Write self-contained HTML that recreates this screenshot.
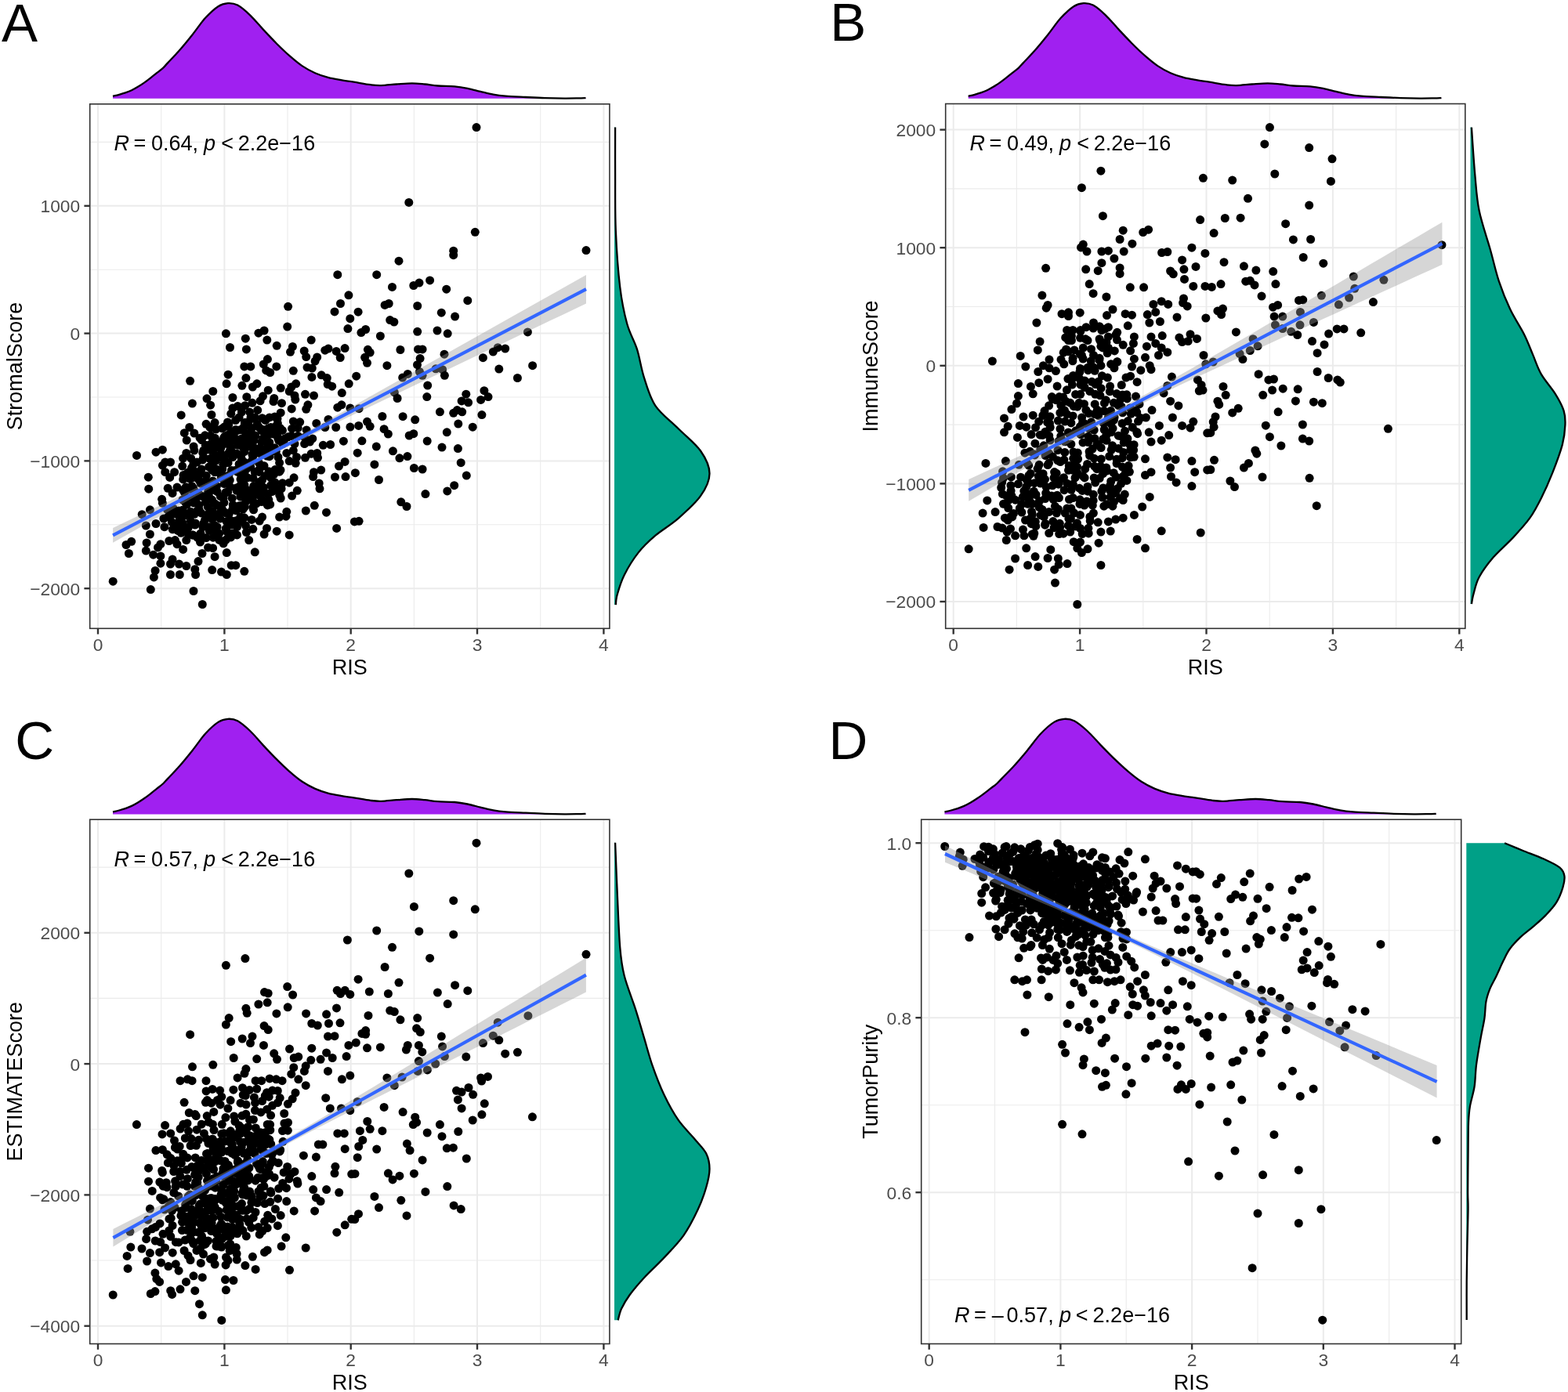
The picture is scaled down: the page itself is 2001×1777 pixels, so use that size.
<!DOCTYPE html>
<html><head><meta charset="utf-8"><title>Figure</title>
<style>html,body{margin:0;padding:0;background:#fff;width:2001px;height:1777px;overflow:hidden}
svg text{font-family:"Liberation Sans", Arial, sans-serif}</style></head>
<body>
<svg xmlns="http://www.w3.org/2000/svg" width="2001" height="1777" viewBox="0 0 2001 1777" style="position:absolute;left:0;top:0">
<rect x="0" y="0" width="2001" height="1777" fill="#fff"/>
<clipPath id="clipA"><rect x="114.7" y="132.8" width="663.2" height="669.5"/></clipPath>
<line x1="205.7" y1="132.8" x2="205.7" y2="802.3" stroke="#ebebeb" stroke-width="1.1"/>
<line x1="367" y1="132.8" x2="367" y2="802.3" stroke="#ebebeb" stroke-width="1.1"/>
<line x1="528.4" y1="132.8" x2="528.4" y2="802.3" stroke="#ebebeb" stroke-width="1.1"/>
<line x1="689.7" y1="132.8" x2="689.7" y2="802.3" stroke="#ebebeb" stroke-width="1.1"/>
<line x1="114.7" y1="669.8" x2="777.9" y2="669.8" stroke="#ebebeb" stroke-width="1.1"/>
<line x1="114.7" y1="507" x2="777.9" y2="507" stroke="#ebebeb" stroke-width="1.1"/>
<line x1="114.7" y1="344.2" x2="777.9" y2="344.2" stroke="#ebebeb" stroke-width="1.1"/>
<line x1="114.7" y1="181.4" x2="777.9" y2="181.4" stroke="#ebebeb" stroke-width="1.1"/>
<line x1="125" y1="132.8" x2="125" y2="802.3" stroke="#ebebeb" stroke-width="2"/>
<line x1="286.4" y1="132.8" x2="286.4" y2="802.3" stroke="#ebebeb" stroke-width="2"/>
<line x1="447.7" y1="132.8" x2="447.7" y2="802.3" stroke="#ebebeb" stroke-width="2"/>
<line x1="609" y1="132.8" x2="609" y2="802.3" stroke="#ebebeb" stroke-width="2"/>
<line x1="770.4" y1="132.8" x2="770.4" y2="802.3" stroke="#ebebeb" stroke-width="2"/>
<line x1="114.7" y1="751.2" x2="777.9" y2="751.2" stroke="#ebebeb" stroke-width="2"/>
<line x1="114.7" y1="588.4" x2="777.9" y2="588.4" stroke="#ebebeb" stroke-width="2"/>
<line x1="114.7" y1="425.6" x2="777.9" y2="425.6" stroke="#ebebeb" stroke-width="2"/>
<line x1="114.7" y1="262.8" x2="777.9" y2="262.8" stroke="#ebebeb" stroke-width="2"/>
<g clip-path="url(#clipA)" fill="#000">
<circle cx="608" cy="162.6" r="5.5"/><circle cx="521.8" cy="258.4" r="5.5"/><circle cx="606.3" cy="296.3" r="5.5"/><circle cx="578.7" cy="320.2" r="5.5"/><circle cx="578.7" cy="325.7" r="5.5"/><circle cx="748" cy="319.6" r="5.5"/><circle cx="509" cy="333.2" r="5.5"/><circle cx="480.7" cy="350.7" r="5.5"/><circle cx="548.6" cy="357.9" r="5.5"/><circle cx="535" cy="361.1" r="5.5"/><circle cx="527.8" cy="364.5" r="5.5"/><circle cx="500.5" cy="366.4" r="5.5"/><circle cx="569.7" cy="369.2" r="5.5"/><circle cx="444.9" cy="376.8" r="5.5"/><circle cx="596.8" cy="383.7" r="5.5"/><circle cx="496.2" cy="387.5" r="5.5"/><circle cx="491.1" cy="389.4" r="5.5"/><circle cx="532.7" cy="390.5" r="5.5"/><circle cx="457.1" cy="398.2" r="5.5"/><circle cx="563.3" cy="399.2" r="5.5"/><circle cx="580.6" cy="404.1" r="5.5"/><circle cx="446.8" cy="406.7" r="5.5"/><circle cx="497.7" cy="408.6" r="5.5"/><circle cx="502.9" cy="411.1" r="5.5"/><circle cx="443.9" cy="419.6" r="5.5"/><circle cx="466.6" cy="420.5" r="5.5"/><circle cx="460.9" cy="424.6" r="5.5"/><circle cx="532.7" cy="423.3" r="5.5"/><circle cx="558" cy="422" r="5.5"/><circle cx="571.2" cy="425.8" r="5.5"/><circle cx="485.4" cy="429" r="5.5"/><circle cx="673.4" cy="423.9" r="5.5"/><circle cx="469.4" cy="446.3" r="5.5"/><circle cx="472.2" cy="450.1" r="5.5"/><circle cx="510.9" cy="446.5" r="5.5"/><circle cx="533.5" cy="445.9" r="5.5"/><circle cx="539.1" cy="445.9" r="5.5"/><circle cx="635.3" cy="443.7" r="5.5"/><circle cx="644.7" cy="445" r="5.5"/><circle cx="629.3" cy="449.1" r="5.5"/><circle cx="567" cy="452.2" r="5.5"/><circle cx="465.6" cy="456.3" r="5.5"/><circle cx="536.1" cy="457.6" r="5.5"/><circle cx="616.4" cy="456.7" r="5.5"/><circle cx="468.5" cy="463.3" r="5.5"/><circle cx="493.9" cy="466.7" r="5.5"/><circle cx="532.5" cy="465.7" r="5.5"/><circle cx="679.6" cy="466.7" r="5.5"/><circle cx="430.8" cy="350.7" r="5.5"/><circle cx="367.6" cy="391.3" r="5.5"/><circle cx="434.5" cy="387.5" r="5.5"/><circle cx="427" cy="397.9" r="5.5"/><circle cx="366.7" cy="417.1" r="5.5"/><circle cx="288.4" cy="425.8" r="5.5"/><circle cx="329.9" cy="425.2" r="5.5"/><circle cx="337.1" cy="422" r="5.5"/><circle cx="313.3" cy="432.2" r="5.5"/><circle cx="340.8" cy="434.1" r="5.5"/><circle cx="397.2" cy="434.1" r="5.5"/><circle cx="144.2" cy="742.2" r="5.5"/><circle cx="192.3" cy="752.6" r="5.5"/><circle cx="247" cy="754.5" r="5.5"/><circle cx="258.3" cy="771.5" r="5.5"/><circle cx="636.8" cy="471.1" r="5.5"/><circle cx="556.1" cy="470.8" r="5.5"/><circle cx="564.6" cy="471.7" r="5.5"/><circle cx="454.7" cy="480.2" r="5.5"/><circle cx="513.7" cy="482.1" r="5.5"/><circle cx="520.3" cy="477.4" r="5.5"/><circle cx="535.4" cy="474.5" r="5.5"/><circle cx="539.1" cy="479.3" r="5.5"/><circle cx="567.4" cy="479.3" r="5.5"/><circle cx="660.4" cy="482.5" r="5.5"/><circle cx="545.7" cy="492.1" r="5.5"/><circle cx="503.3" cy="500.9" r="5.5"/><circle cx="507.1" cy="508.5" r="5.5"/><circle cx="544.8" cy="506.6" r="5.5"/><circle cx="594.8" cy="503.2" r="5.5"/><circle cx="589.1" cy="511.9" r="5.5"/><circle cx="597.6" cy="513.8" r="5.5"/><circle cx="617.9" cy="498.7" r="5.5"/><circle cx="623" cy="506.6" r="5.5"/><circle cx="613.6" cy="510.4" r="5.5"/><circle cx="458.1" cy="521.7" r="5.5"/><circle cx="561.4" cy="525.8" r="5.5"/><circle cx="578.7" cy="527.3" r="5.5"/><circle cx="583.4" cy="523.6" r="5.5"/><circle cx="589.7" cy="525.8" r="5.5"/><circle cx="614.9" cy="529.6" r="5.5"/><circle cx="487.9" cy="531.5" r="5.5"/><circle cx="514.1" cy="531.7" r="5.5"/><circle cx="529.7" cy="535.8" r="5.5"/><circle cx="468.5" cy="538.3" r="5.5"/><circle cx="472.2" cy="544.3" r="5.5"/><circle cx="457.7" cy="543.4" r="5.5"/><circle cx="584.8" cy="541.1" r="5.5"/><circle cx="603.2" cy="545.2" r="5.5"/><circle cx="490.1" cy="547.7" r="5.5"/><circle cx="495.4" cy="554.1" r="5.5"/><circle cx="522.2" cy="556" r="5.5"/><circle cx="527.8" cy="553.7" r="5.5"/><circle cx="570.3" cy="551.8" r="5.5"/><circle cx="461.9" cy="562.8" r="5.5"/><circle cx="545.2" cy="563.1" r="5.5"/><circle cx="480.3" cy="570.1" r="5.5"/><circle cx="564" cy="571.1" r="5.5"/><circle cx="584.4" cy="572.6" r="5.5"/><circle cx="456.2" cy="578.2" r="5.5"/><circle cx="501.4" cy="575.8" r="5.5"/><circle cx="509.9" cy="584.8" r="5.5"/><circle cx="519.9" cy="582.6" r="5.5"/><circle cx="477.9" cy="592.9" r="5.5"/><circle cx="588.2" cy="590.7" r="5.5"/><circle cx="528.4" cy="597.5" r="5.5"/><circle cx="539.1" cy="599" r="5.5"/><circle cx="453.4" cy="603.7" r="5.5"/><circle cx="483.5" cy="612.5" r="5.5"/><circle cx="595.3" cy="607.1" r="5.5"/><circle cx="579.7" cy="619.7" r="5.5"/><circle cx="570.8" cy="626.9" r="5.5"/><circle cx="542.9" cy="630.6" r="5.5"/><circle cx="511.8" cy="640.8" r="5.5"/><circle cx="519" cy="646.5" r="5.5"/><circle cx="452.4" cy="665.9" r="5.5"/><circle cx="458.1" cy="665.3" r="5.5"/><circle cx="293.5" cy="443.5" r="5.5"/><circle cx="291.1" cy="478.2" r="5.5"/><circle cx="289.1" cy="489.8" r="5.5"/><circle cx="242.6" cy="486.3" r="5.5"/><circle cx="271.8" cy="499.5" r="5.5"/><circle cx="264" cy="508.8" r="5.5"/><circle cx="296.9" cy="507.5" r="5.5"/><circle cx="245.4" cy="515.1" r="5.5"/><circle cx="268.6" cy="517.2" r="5.5"/><circle cx="231.2" cy="529.9" r="5.5"/><circle cx="269.9" cy="529.5" r="5.5"/><circle cx="294.8" cy="528.2" r="5.5"/><circle cx="296.9" cy="521" r="5.5"/><circle cx="241.8" cy="545.5" r="5.5"/><circle cx="235.3" cy="552.7" r="5.5"/><circle cx="247.9" cy="553.1" r="5.5"/><circle cx="238.2" cy="562" r="5.5"/><circle cx="263.1" cy="541.3" r="5.5"/><circle cx="274.1" cy="539.6" r="5.5"/><circle cx="270.7" cy="545.5" r="5.5"/><circle cx="286.7" cy="544.7" r="5.5"/><circle cx="291.8" cy="542.1" r="5.5"/><circle cx="268.6" cy="556.1" r="5.5"/><circle cx="271.6" cy="561.6" r="5.5"/><circle cx="286.7" cy="557.3" r="5.5"/><circle cx="295.2" cy="554" r="5.5"/><circle cx="262.3" cy="568.3" r="5.5"/><circle cx="247.1" cy="570" r="5.5"/><circle cx="247.9" cy="575.1" r="5.5"/><circle cx="237.8" cy="578.4" r="5.5"/><circle cx="259.7" cy="575.1" r="5.5"/><circle cx="274.9" cy="571.7" r="5.5"/><circle cx="285.1" cy="566.6" r="5.5"/><circle cx="293.5" cy="564.9" r="5.5"/><circle cx="207.4" cy="574.2" r="5.5"/><circle cx="199" cy="577.2" r="5.5"/><circle cx="174.5" cy="581.4" r="5.5"/><circle cx="233.6" cy="585.2" r="5.5"/><circle cx="243.7" cy="585.2" r="5.5"/><circle cx="259.7" cy="583.5" r="5.5"/><circle cx="272.4" cy="579.3" r="5.5"/><circle cx="281.7" cy="579.3" r="5.5"/><circle cx="293.5" cy="575.1" r="5.5"/><circle cx="296.9" cy="583.5" r="5.5"/><circle cx="210.8" cy="590" r="5.5"/><circle cx="217.5" cy="590" r="5.5"/><circle cx="251.3" cy="590" r="5.5"/><circle cx="274.9" cy="588.6" r="5.5"/><circle cx="286.7" cy="586.9" r="5.5"/><circle cx="314.4" cy="445.9" r="5.5"/><circle cx="353.2" cy="441.3" r="5.5"/><circle cx="370.5" cy="449.3" r="5.5"/><circle cx="373.4" cy="442.5" r="5.5"/><circle cx="388.2" cy="448" r="5.5"/><circle cx="390.7" cy="455.6" r="5.5"/><circle cx="404.7" cy="456" r="5.5"/><circle cx="402.1" cy="461.1" r="5.5"/><circle cx="414.8" cy="447.2" r="5.5"/><circle cx="419" cy="445.1" r="5.5"/><circle cx="429.2" cy="448.4" r="5.5"/><circle cx="440.1" cy="444.6" r="5.5"/><circle cx="434.2" cy="456.5" r="5.5"/><circle cx="311.8" cy="467.9" r="5.5"/><circle cx="319.8" cy="467.9" r="5.5"/><circle cx="336.3" cy="464.9" r="5.5"/><circle cx="341.4" cy="458.6" r="5.5"/><circle cx="352.8" cy="467.9" r="5.5"/><circle cx="344.7" cy="475.5" r="5.5"/><circle cx="339.7" cy="472.9" r="5.5"/><circle cx="374.3" cy="473.3" r="5.5"/><circle cx="392" cy="469.1" r="5.5"/><circle cx="398.3" cy="470" r="5.5"/><circle cx="397.9" cy="481.4" r="5.5"/><circle cx="410.2" cy="478.8" r="5.5"/><circle cx="417.3" cy="482.6" r="5.5"/><circle cx="418.2" cy="490.6" r="5.5"/><circle cx="423.7" cy="493.2" r="5.5"/><circle cx="445.2" cy="489.8" r="5.5"/><circle cx="436.3" cy="501.6" r="5.5"/><circle cx="313.9" cy="482.6" r="5.5"/><circle cx="308.9" cy="492.3" r="5.5"/><circle cx="322.4" cy="494" r="5.5"/><circle cx="327.9" cy="489.8" r="5.5"/><circle cx="342.2" cy="498.2" r="5.5"/><circle cx="358.2" cy="495.3" r="5.5"/><circle cx="377.7" cy="489.8" r="5.5"/><circle cx="371.8" cy="494" r="5.5"/><circle cx="369.2" cy="499.5" r="5.5"/><circle cx="376" cy="505" r="5.5"/><circle cx="376.8" cy="510.1" r="5.5"/><circle cx="389.5" cy="503.3" r="5.5"/><circle cx="400.5" cy="505" r="5.5"/><circle cx="314.8" cy="506.7" r="5.5"/><circle cx="335.5" cy="505.8" r="5.5"/><circle cx="332.1" cy="511.8" r="5.5"/><circle cx="349.8" cy="508.4" r="5.5"/><circle cx="349" cy="512.6" r="5.5"/><circle cx="359.5" cy="514.7" r="5.5"/><circle cx="372.2" cy="521.9" r="5.5"/><circle cx="392.9" cy="516.8" r="5.5"/><circle cx="390.7" cy="522.3" r="5.5"/><circle cx="430.8" cy="520.2" r="5.5"/><circle cx="435.9" cy="516.8" r="5.5"/><circle cx="446.9" cy="521" r="5.5"/><circle cx="303.4" cy="518.5" r="5.5"/><circle cx="312.7" cy="517.7" r="5.5"/><circle cx="321.9" cy="514.3" r="5.5"/><circle cx="328.7" cy="523.6" r="5.5"/><circle cx="318.6" cy="526.1" r="5.5"/><circle cx="308.4" cy="526.1" r="5.5"/><circle cx="305.1" cy="532.9" r="5.5"/><circle cx="312.7" cy="539.6" r="5.5"/><circle cx="320.3" cy="534.5" r="5.5"/><circle cx="325.3" cy="532.9" r="5.5"/><circle cx="334.6" cy="533.7" r="5.5"/><circle cx="343.9" cy="532.9" r="5.5"/><circle cx="350.6" cy="532" r="5.5"/><circle cx="358.2" cy="526.9" r="5.5"/><circle cx="354" cy="534.5" r="5.5"/><circle cx="311" cy="545.5" r="5.5"/><circle cx="321.1" cy="546.4" r="5.5"/><circle cx="302.5" cy="549.7" r="5.5"/><circle cx="333.8" cy="549.7" r="5.5"/><circle cx="345.6" cy="545.5" r="5.5"/><circle cx="354" cy="549.7" r="5.5"/><circle cx="357.4" cy="546.4" r="5.5"/><circle cx="348.1" cy="554" r="5.5"/><circle cx="316.9" cy="554" r="5.5"/><circle cx="325.3" cy="556.5" r="5.5"/><circle cx="308.4" cy="559.9" r="5.5"/><circle cx="335.5" cy="559.9" r="5.5"/><circle cx="343.9" cy="564.9" r="5.5"/><circle cx="354.9" cy="559.9" r="5.5"/><circle cx="363.3" cy="559.9" r="5.5"/><circle cx="303.4" cy="568.3" r="5.5"/><circle cx="314.4" cy="564.9" r="5.5"/><circle cx="322.8" cy="570" r="5.5"/><circle cx="332.1" cy="571.7" r="5.5"/><circle cx="339.7" cy="573.4" r="5.5"/><circle cx="350.6" cy="571.7" r="5.5"/><circle cx="360.8" cy="566.6" r="5.5"/><circle cx="302.5" cy="579.3" r="5.5"/><circle cx="311.8" cy="576.7" r="5.5"/><circle cx="321.9" cy="580.1" r="5.5"/><circle cx="333.8" cy="580.1" r="5.5"/><circle cx="343.9" cy="582.7" r="5.5"/><circle cx="354.9" cy="583.5" r="5.5"/><circle cx="308.4" cy="588.6" r="5.5"/><circle cx="321.1" cy="588.6" r="5.5"/><circle cx="374.3" cy="537.9" r="5.5"/><circle cx="382.7" cy="538.8" r="5.5"/><circle cx="372.6" cy="547.2" r="5.5"/><circle cx="380.2" cy="546.4" r="5.5"/><circle cx="391.2" cy="548.9" r="5.5"/><circle cx="403.8" cy="540.5" r="5.5"/><circle cx="419" cy="535.4" r="5.5"/><circle cx="414.8" cy="545.5" r="5.5"/><circle cx="428.7" cy="545.5" r="5.5"/><circle cx="446.9" cy="545.1" r="5.5"/><circle cx="371.8" cy="556.5" r="5.5"/><circle cx="380.2" cy="556.5" r="5.5"/><circle cx="388.6" cy="558.2" r="5.5"/><circle cx="398.8" cy="559.9" r="5.5"/><circle cx="376" cy="566.6" r="5.5"/><circle cx="388.6" cy="566.6" r="5.5"/><circle cx="395.4" cy="564.1" r="5.5"/><circle cx="412.3" cy="568.3" r="5.5"/><circle cx="421.6" cy="567.5" r="5.5"/><circle cx="438.4" cy="563.2" r="5.5"/><circle cx="365.8" cy="578.4" r="5.5"/><circle cx="374.3" cy="575.1" r="5.5"/><circle cx="378.5" cy="583.5" r="5.5"/><circle cx="389.5" cy="584.3" r="5.5"/><circle cx="397.1" cy="579.3" r="5.5"/><circle cx="404.7" cy="578.4" r="5.5"/><circle cx="405.5" cy="584.3" r="5.5"/><circle cx="369.2" cy="588.6" r="5.5"/><circle cx="440.1" cy="589.4" r="5.5"/><circle cx="189.3" cy="609.2" r="5.5"/><circle cx="189.7" cy="624.2" r="5.5"/><circle cx="207.4" cy="594.2" r="5.5"/><circle cx="232.7" cy="595.1" r="5.5"/><circle cx="210.8" cy="602.7" r="5.5"/><circle cx="222.6" cy="602.7" r="5.5"/><circle cx="216.7" cy="609.4" r="5.5"/><circle cx="214.2" cy="623.3" r="5.5"/><circle cx="226" cy="622.1" r="5.5"/><circle cx="233.6" cy="625.5" r="5.5"/><circle cx="220.1" cy="629.7" r="5.5"/><circle cx="206.6" cy="637.3" r="5.5"/><circle cx="207.4" cy="642.3" r="5.5"/><circle cx="191.4" cy="650.8" r="5.5"/><circle cx="181.2" cy="656.7" r="5.5"/><circle cx="186.3" cy="671" r="5.5"/><circle cx="199" cy="668.5" r="5.5"/><circle cx="209.9" cy="672.7" r="5.5"/><circle cx="221.8" cy="668.5" r="5.5"/><circle cx="191.4" cy="682" r="5.5"/><circle cx="167.7" cy="691.3" r="5.5"/><circle cx="161" cy="695.5" r="5.5"/><circle cx="164.4" cy="706.5" r="5.5"/><circle cx="187.1" cy="693" r="5.5"/><circle cx="186.3" cy="703.1" r="5.5"/><circle cx="204.9" cy="694.7" r="5.5"/><circle cx="201.5" cy="698.9" r="5.5"/><circle cx="195.6" cy="708.2" r="5.5"/><circle cx="204.9" cy="709.9" r="5.5"/><circle cx="215.8" cy="690.5" r="5.5"/><circle cx="223.4" cy="689.6" r="5.5"/><circle cx="226" cy="694.7" r="5.5"/><circle cx="233.6" cy="701.4" r="5.5"/><circle cx="231" cy="680.3" r="5.5"/><circle cx="237.8" cy="689.6" r="5.5"/><circle cx="245.4" cy="682.9" r="5.5"/><circle cx="255.5" cy="692.1" r="5.5"/><circle cx="258" cy="706.5" r="5.5"/><circle cx="265.6" cy="698.9" r="5.5"/><circle cx="271.6" cy="699.7" r="5.5"/><circle cx="274.1" cy="710.7" r="5.5"/><circle cx="289.3" cy="705.6" r="5.5"/><circle cx="285.1" cy="693.8" r="5.5"/><circle cx="291.8" cy="666" r="5.5"/><circle cx="253" cy="716.6" r="5.5"/><circle cx="237.8" cy="722.5" r="5.5"/><circle cx="228.5" cy="720" r="5.5"/><circle cx="220.1" cy="714.1" r="5.5"/><circle cx="217.5" cy="720" r="5.5"/><circle cx="204.9" cy="719.2" r="5.5"/><circle cx="198.1" cy="728.4" r="5.5"/><circle cx="196.4" cy="736.9" r="5.5"/><circle cx="217.5" cy="733.5" r="5.5"/><circle cx="229.3" cy="733.5" r="5.5"/><circle cx="248.8" cy="726.7" r="5.5"/><circle cx="249.6" cy="733.5" r="5.5"/><circle cx="270.7" cy="727.6" r="5.5"/><circle cx="282.5" cy="730.1" r="5.5"/><circle cx="289.3" cy="733.5" r="5.5"/><circle cx="295.2" cy="721.7" r="5.5"/><circle cx="356.6" cy="590.8" r="5.5"/><circle cx="377.2" cy="591.3" r="5.5"/><circle cx="432.5" cy="595.1" r="5.5"/><circle cx="400.5" cy="602.7" r="5.5"/><circle cx="409.7" cy="600.1" r="5.5"/><circle cx="399.6" cy="608.6" r="5.5"/><circle cx="427.5" cy="609" r="5.5"/><circle cx="441" cy="608.6" r="5.5"/><circle cx="407.2" cy="617" r="5.5"/><circle cx="408" cy="623.8" r="5.5"/><circle cx="375.1" cy="609.8" r="5.5"/><circle cx="369.2" cy="616.2" r="5.5"/><circle cx="379.3" cy="626.3" r="5.5"/><circle cx="372.6" cy="633.1" r="5.5"/><circle cx="358.2" cy="636" r="5.5"/><circle cx="354.9" cy="601.8" r="5.5"/><circle cx="345.6" cy="607.7" r="5.5"/><circle cx="350.6" cy="619.5" r="5.5"/><circle cx="359.1" cy="623.8" r="5.5"/><circle cx="335.5" cy="622.1" r="5.5"/><circle cx="330.4" cy="622.1" r="5.5"/><circle cx="342.2" cy="630.5" r="5.5"/><circle cx="333.8" cy="640.6" r="5.5"/><circle cx="341.4" cy="644.9" r="5.5"/><circle cx="323.6" cy="650.8" r="5.5"/><circle cx="315.2" cy="625.5" r="5.5"/><circle cx="308.4" cy="633.9" r="5.5"/><circle cx="305.1" cy="645.7" r="5.5"/><circle cx="306.8" cy="660.1" r="5.5"/><circle cx="321.1" cy="663.4" r="5.5"/><circle cx="334.6" cy="660.1" r="5.5"/><circle cx="331.2" cy="665.1" r="5.5"/><circle cx="340.5" cy="674.4" r="5.5"/><circle cx="337.1" cy="682" r="5.5"/><circle cx="353.2" cy="678.2" r="5.5"/><circle cx="369.2" cy="682.9" r="5.5"/><circle cx="356.6" cy="660.1" r="5.5"/><circle cx="365.8" cy="653.3" r="5.5"/><circle cx="365" cy="659.2" r="5.5"/><circle cx="390.3" cy="652" r="5.5"/><circle cx="401.3" cy="645.3" r="5.5"/><circle cx="416.5" cy="654.2" r="5.5"/><circle cx="429.6" cy="674.4" r="5.5"/><circle cx="322.8" cy="675.3" r="5.5"/><circle cx="314.4" cy="679.5" r="5.5"/><circle cx="302.5" cy="682.9" r="5.5"/><circle cx="317.7" cy="689.6" r="5.5"/><circle cx="325.3" cy="704.8" r="5.5"/><circle cx="300.8" cy="721.7" r="5.5"/><circle cx="311.8" cy="729.3" r="5.5"/><circle cx="302.5" cy="672.7" r="5.5"/><circle cx="313.5" cy="671" r="5.5"/><circle cx="320" cy="532.8" r="5.5"/><circle cx="290.5" cy="538.9" r="5.5"/><circle cx="300.6" cy="536.6" r="5.5"/><circle cx="312.3" cy="539.8" r="5.5"/><circle cx="316.9" cy="538.8" r="5.5"/><circle cx="328.2" cy="541.3" r="5.5"/><circle cx="338.8" cy="536.5" r="5.5"/><circle cx="354.3" cy="540.3" r="5.5"/><circle cx="268" cy="545.7" r="5.5"/><circle cx="275.5" cy="548" r="5.5"/><circle cx="283.6" cy="546.9" r="5.5"/><circle cx="294.7" cy="550.8" r="5.5"/><circle cx="300.8" cy="548.5" r="5.5"/><circle cx="306.4" cy="548.8" r="5.5"/><circle cx="320.2" cy="551.2" r="5.5"/><circle cx="330.6" cy="545.5" r="5.5"/><circle cx="336" cy="548.6" r="5.5"/><circle cx="342.1" cy="546.9" r="5.5"/><circle cx="352.3" cy="544.1" r="5.5"/><circle cx="360.4" cy="549.4" r="5.5"/><circle cx="255.1" cy="559.2" r="5.5"/><circle cx="261.6" cy="555.8" r="5.5"/><circle cx="274.4" cy="559.3" r="5.5"/><circle cx="285.6" cy="559.2" r="5.5"/><circle cx="290.2" cy="555.5" r="5.5"/><circle cx="299.8" cy="559.3" r="5.5"/><circle cx="313.7" cy="553.4" r="5.5"/><circle cx="316.3" cy="554" r="5.5"/><circle cx="325.8" cy="556.1" r="5.5"/><circle cx="337.7" cy="554.3" r="5.5"/><circle cx="341.9" cy="555.6" r="5.5"/><circle cx="353.9" cy="556.7" r="5.5"/><circle cx="367.6" cy="557.8" r="5.5"/><circle cx="257.4" cy="561.6" r="5.5"/><circle cx="268.2" cy="567.5" r="5.5"/><circle cx="277" cy="567.6" r="5.5"/><circle cx="282.1" cy="564.4" r="5.5"/><circle cx="288.8" cy="566.3" r="5.5"/><circle cx="297.4" cy="561.7" r="5.5"/><circle cx="307.6" cy="562.5" r="5.5"/><circle cx="317.7" cy="561.6" r="5.5"/><circle cx="323.9" cy="562.4" r="5.5"/><circle cx="333.7" cy="564.1" r="5.5"/><circle cx="342.1" cy="568.2" r="5.5"/><circle cx="355.9" cy="562.4" r="5.5"/><circle cx="362" cy="564" r="5.5"/><circle cx="258.8" cy="578.2" r="5.5"/><circle cx="264.7" cy="574.1" r="5.5"/><circle cx="270.6" cy="571" r="5.5"/><circle cx="281.7" cy="572.3" r="5.5"/><circle cx="294.6" cy="571.5" r="5.5"/><circle cx="297.1" cy="577.9" r="5.5"/><circle cx="310.2" cy="571.3" r="5.5"/><circle cx="319.3" cy="570.4" r="5.5"/><circle cx="328.2" cy="578.1" r="5.5"/><circle cx="339.9" cy="575.8" r="5.5"/><circle cx="344" cy="573.1" r="5.5"/><circle cx="352.3" cy="576.4" r="5.5"/><circle cx="258.5" cy="587.1" r="5.5"/><circle cx="267.8" cy="585.7" r="5.5"/><circle cx="276.5" cy="585.2" r="5.5"/><circle cx="280.8" cy="583.4" r="5.5"/><circle cx="290.8" cy="579.4" r="5.5"/><circle cx="297.1" cy="581.4" r="5.5"/><circle cx="308" cy="584.8" r="5.5"/><circle cx="322.7" cy="582.8" r="5.5"/><circle cx="340.6" cy="582.1" r="5.5"/><circle cx="343.7" cy="581" r="5.5"/><circle cx="285" cy="592" r="5.5"/><circle cx="246.9" cy="592.2" r="5.5"/><circle cx="270.9" cy="592.7" r="5.5"/><circle cx="284.9" cy="593.3" r="5.5"/><circle cx="291.1" cy="590.8" r="5.5"/><circle cx="244.5" cy="597.4" r="5.5"/><circle cx="247" cy="600.5" r="5.5"/><circle cx="257.1" cy="599" r="5.5"/><circle cx="266.6" cy="596.1" r="5.5"/><circle cx="270.6" cy="600.1" r="5.5"/><circle cx="276.6" cy="599.3" r="5.5"/><circle cx="283.8" cy="598.8" r="5.5"/><circle cx="295.4" cy="600.5" r="5.5"/><circle cx="234.1" cy="606.4" r="5.5"/><circle cx="239.6" cy="603.3" r="5.5"/><circle cx="245.7" cy="603.9" r="5.5"/><circle cx="254.9" cy="604.5" r="5.5"/><circle cx="263.2" cy="607.3" r="5.5"/><circle cx="274.2" cy="602.8" r="5.5"/><circle cx="278.3" cy="602.7" r="5.5"/><circle cx="287.6" cy="608.2" r="5.5"/><circle cx="292" cy="606.8" r="5.5"/><circle cx="233.7" cy="611.9" r="5.5"/><circle cx="242.1" cy="611.1" r="5.5"/><circle cx="246.3" cy="609.7" r="5.5"/><circle cx="253.9" cy="612.6" r="5.5"/><circle cx="263.1" cy="614.6" r="5.5"/><circle cx="271.6" cy="613.9" r="5.5"/><circle cx="282.3" cy="609.6" r="5.5"/><circle cx="283.3" cy="610.1" r="5.5"/><circle cx="293.3" cy="613" r="5.5"/><circle cx="237.2" cy="621.8" r="5.5"/><circle cx="244.8" cy="620.5" r="5.5"/><circle cx="246.8" cy="623.2" r="5.5"/><circle cx="256.1" cy="617.2" r="5.5"/><circle cx="264.7" cy="620" r="5.5"/><circle cx="271.3" cy="617.7" r="5.5"/><circle cx="276.5" cy="620.5" r="5.5"/><circle cx="286.2" cy="617.5" r="5.5"/><circle cx="293.6" cy="621.5" r="5.5"/><circle cx="235.5" cy="628.9" r="5.5"/><circle cx="242.3" cy="624.3" r="5.5"/><circle cx="248.1" cy="627" r="5.5"/><circle cx="253.8" cy="630.7" r="5.5"/><circle cx="265.7" cy="627.5" r="5.5"/><circle cx="272.9" cy="625.5" r="5.5"/><circle cx="277.2" cy="627.7" r="5.5"/><circle cx="288.2" cy="628.5" r="5.5"/><circle cx="290.7" cy="628.3" r="5.5"/><circle cx="233.1" cy="638" r="5.5"/><circle cx="243.9" cy="635.1" r="5.5"/><circle cx="249.9" cy="638.1" r="5.5"/><circle cx="258.4" cy="633.6" r="5.5"/><circle cx="266.4" cy="632.9" r="5.5"/><circle cx="270.6" cy="638.1" r="5.5"/><circle cx="281.4" cy="633.7" r="5.5"/><circle cx="285.1" cy="635.8" r="5.5"/><circle cx="296.3" cy="636.2" r="5.5"/><circle cx="236.3" cy="640.9" r="5.5"/><circle cx="238.6" cy="644.1" r="5.5"/><circle cx="247.5" cy="642" r="5.5"/><circle cx="253.9" cy="644.7" r="5.5"/><circle cx="262.5" cy="641.1" r="5.5"/><circle cx="273.6" cy="642.5" r="5.5"/><circle cx="277.5" cy="645.1" r="5.5"/><circle cx="285.9" cy="641.6" r="5.5"/><circle cx="297.2" cy="644.5" r="5.5"/><circle cx="213.6" cy="650.7" r="5.5"/><circle cx="221.2" cy="649.1" r="5.5"/><circle cx="228.4" cy="652" r="5.5"/><circle cx="233.3" cy="651" r="5.5"/><circle cx="243.4" cy="653.3" r="5.5"/><circle cx="251.9" cy="651.9" r="5.5"/><circle cx="254.1" cy="650.7" r="5.5"/><circle cx="265.3" cy="647.2" r="5.5"/><circle cx="271.3" cy="652.5" r="5.5"/><circle cx="281.8" cy="652.9" r="5.5"/><circle cx="283.8" cy="650.7" r="5.5"/><circle cx="296.5" cy="651" r="5.5"/><circle cx="214.4" cy="659.9" r="5.5"/><circle cx="220.1" cy="656.6" r="5.5"/><circle cx="228.7" cy="659.6" r="5.5"/><circle cx="235.5" cy="658.2" r="5.5"/><circle cx="240.3" cy="656.1" r="5.5"/><circle cx="248.1" cy="656.3" r="5.5"/><circle cx="256.7" cy="654.9" r="5.5"/><circle cx="265.5" cy="656.5" r="5.5"/><circle cx="269.2" cy="655.8" r="5.5"/><circle cx="278.3" cy="657" r="5.5"/><circle cx="288.4" cy="654.8" r="5.5"/><circle cx="292.2" cy="656.1" r="5.5"/><circle cx="208.9" cy="662" r="5.5"/><circle cx="219.4" cy="666.6" r="5.5"/><circle cx="228.7" cy="665.4" r="5.5"/><circle cx="232.9" cy="667.6" r="5.5"/><circle cx="243.1" cy="664.9" r="5.5"/><circle cx="249.4" cy="667.9" r="5.5"/><circle cx="259.9" cy="667.9" r="5.5"/><circle cx="261.5" cy="663.8" r="5.5"/><circle cx="270.9" cy="662.8" r="5.5"/><circle cx="280.8" cy="662" r="5.5"/><circle cx="289.1" cy="665.6" r="5.5"/><circle cx="294.8" cy="664.4" r="5.5"/><circle cx="220.3" cy="675.8" r="5.5"/><circle cx="226.5" cy="671.6" r="5.5"/><circle cx="236.3" cy="672.7" r="5.5"/><circle cx="240.2" cy="673.7" r="5.5"/><circle cx="248.9" cy="670" r="5.5"/><circle cx="258.8" cy="672.5" r="5.5"/><circle cx="267.2" cy="672.7" r="5.5"/><circle cx="274.5" cy="671.1" r="5.5"/><circle cx="277.1" cy="672.7" r="5.5"/><circle cx="288.3" cy="674.7" r="5.5"/><circle cx="295" cy="670" r="5.5"/><circle cx="227.3" cy="677.6" r="5.5"/><circle cx="235.3" cy="677.2" r="5.5"/><circle cx="239.4" cy="680.5" r="5.5"/><circle cx="246.5" cy="683.1" r="5.5"/><circle cx="256" cy="680.9" r="5.5"/><circle cx="267.2" cy="677.4" r="5.5"/><circle cx="274.9" cy="676.9" r="5.5"/><circle cx="279.7" cy="681.1" r="5.5"/><circle cx="289.8" cy="679" r="5.5"/><circle cx="297" cy="681" r="5.5"/><circle cx="251.7" cy="686.2" r="5.5"/><circle cx="253.4" cy="685.7" r="5.5"/><circle cx="263.1" cy="686.6" r="5.5"/><circle cx="271.9" cy="686.2" r="5.5"/><circle cx="280" cy="689.4" r="5.5"/><circle cx="288.4" cy="689.1" r="5.5"/><circle cx="294.6" cy="685.9" r="5.5"/><circle cx="305.1" cy="592.5" r="5.5"/><circle cx="311.7" cy="590" r="5.5"/><circle cx="330.4" cy="590.8" r="5.5"/><circle cx="300" cy="600.4" r="5.5"/><circle cx="308.1" cy="599.4" r="5.5"/><circle cx="314.2" cy="599.2" r="5.5"/><circle cx="319.8" cy="596.1" r="5.5"/><circle cx="331.2" cy="599" r="5.5"/><circle cx="337" cy="594.7" r="5.5"/><circle cx="351" cy="599.6" r="5.5"/><circle cx="358" cy="600.1" r="5.5"/><circle cx="302.6" cy="602" r="5.5"/><circle cx="306.7" cy="604.9" r="5.5"/><circle cx="311.8" cy="604.5" r="5.5"/><circle cx="325.2" cy="602.4" r="5.5"/><circle cx="330.7" cy="602.4" r="5.5"/><circle cx="338" cy="607.7" r="5.5"/><circle cx="343" cy="601.7" r="5.5"/><circle cx="349.7" cy="605.3" r="5.5"/><circle cx="356.7" cy="602.2" r="5.5"/><circle cx="307" cy="611.8" r="5.5"/><circle cx="315.9" cy="609.8" r="5.5"/><circle cx="323" cy="610.3" r="5.5"/><circle cx="330.7" cy="615.6" r="5.5"/><circle cx="334.5" cy="612.9" r="5.5"/><circle cx="345.7" cy="610.1" r="5.5"/><circle cx="350.9" cy="615.8" r="5.5"/><circle cx="301.4" cy="623" r="5.5"/><circle cx="305.7" cy="620.8" r="5.5"/><circle cx="311.9" cy="619.1" r="5.5"/><circle cx="323.7" cy="620.6" r="5.5"/><circle cx="331.9" cy="617.2" r="5.5"/><circle cx="336.5" cy="622.5" r="5.5"/><circle cx="345.6" cy="619.7" r="5.5"/><circle cx="351.8" cy="623.3" r="5.5"/><circle cx="360.5" cy="616.7" r="5.5"/><circle cx="302" cy="626.3" r="5.5"/><circle cx="307.1" cy="625.6" r="5.5"/><circle cx="314.6" cy="626.3" r="5.5"/><circle cx="319.7" cy="628.4" r="5.5"/><circle cx="327.3" cy="629.4" r="5.5"/><circle cx="334.3" cy="629.4" r="5.5"/><circle cx="347.1" cy="627.5" r="5.5"/><circle cx="353.9" cy="625.8" r="5.5"/><circle cx="306.8" cy="634.1" r="5.5"/><circle cx="317.4" cy="634.1" r="5.5"/><circle cx="323.6" cy="632.8" r="5.5"/><circle cx="332.3" cy="633.4" r="5.5"/><circle cx="334.5" cy="638.2" r="5.5"/><circle cx="342.8" cy="638" r="5.5"/><circle cx="356.7" cy="632" r="5.5"/><circle cx="308.3" cy="645.6" r="5.5"/><circle cx="314" cy="640.1" r="5.5"/><circle cx="322.9" cy="640.1" r="5.5"/><circle cx="327.2" cy="642.9" r="5.5"/><circle cx="338.8" cy="639.6" r="5.5"/><circle cx="344.7" cy="643.9" r="5.5"/><circle cx="301.5" cy="651.8" r="5.5"/><circle cx="310.1" cy="650" r="5.5"/><circle cx="312.3" cy="647" r="5.5"/><circle cx="322.7" cy="647.8" r="5.5"/><circle cx="307.7" cy="660.5" r="5.5"/><circle cx="311.8" cy="660.8" r="5.5"/><circle cx="301.3" cy="664.7" r="5.5"/><circle cx="307.4" cy="665.9" r="5.5"/>
</g>
<path d="M144.1,674 L159.2,666.8 L174.3,659.6 L189.4,652.4 L204.5,645.1 L219.6,637.9 L234.7,630.6 L249.8,623.3 L264.9,616 L280,608.6 L295.1,601.2 L310.2,593.7 L325.3,586 L340.4,578.3 L355.5,570.4 L370.6,562.4 L385.7,554.2 L400.8,545.9 L415.9,537.6 L431,529.3 L446,520.9 L461.1,512.4 L476.2,504 L491.3,495.5 L506.4,487.1 L521.5,478.6 L536.6,470.1 L551.7,461.6 L566.8,453.1 L581.9,444.6 L597,436.1 L612.1,427.6 L627.2,419.1 L642.3,410.6 L657.4,402.1 L672.5,393.6 L687.6,385.1 L702.7,376.5 L717.8,368 L732.9,359.5 L748,351 L748,387.5 L732.9,394.7 L717.8,401.9 L702.7,409.1 L687.6,416.3 L672.5,423.5 L657.4,430.7 L642.3,437.9 L627.2,445.1 L612.1,452.3 L597,459.5 L581.9,466.7 L566.8,473.9 L551.7,481.1 L536.6,488.3 L521.5,495.5 L506.4,502.8 L491.3,510 L476.2,517.2 L461.1,524.5 L446,531.8 L431,539.1 L415.9,546.4 L400.8,553.8 L385.7,561.3 L370.6,568.8 L355.5,576.5 L340.4,584.3 L325.3,592.3 L310.2,600.4 L295.1,608.6 L280,616.8 L264.9,625.2 L249.8,633.6 L234.7,642 L219.6,650.4 L204.5,658.9 L189.4,667.3 L174.3,675.8 L159.2,684.3 L144.1,692.8Z" fill="#999999" fill-opacity="0.4"/>
<line x1="144.1" y1="683.4" x2="748" y2="369.2" stroke="#3366ff" stroke-width="4.2"/>
<rect x="114.7" y="132.8" width="663.2" height="669.5" fill="none" stroke="#333333" stroke-width="1.6"/>
<line x1="125" y1="802.3" x2="125" y2="809.6" stroke="#333333" stroke-width="2.4"/>
<text x="125" y="830.6" font-size="22.8" fill="#4d4d4d" text-anchor="middle">0</text>
<line x1="286.4" y1="802.3" x2="286.4" y2="809.6" stroke="#333333" stroke-width="2.4"/>
<text x="286.4" y="830.6" font-size="22.8" fill="#4d4d4d" text-anchor="middle">1</text>
<line x1="447.7" y1="802.3" x2="447.7" y2="809.6" stroke="#333333" stroke-width="2.4"/>
<text x="447.7" y="830.6" font-size="22.8" fill="#4d4d4d" text-anchor="middle">2</text>
<line x1="609" y1="802.3" x2="609" y2="809.6" stroke="#333333" stroke-width="2.4"/>
<text x="609" y="830.6" font-size="22.8" fill="#4d4d4d" text-anchor="middle">3</text>
<line x1="770.4" y1="802.3" x2="770.4" y2="809.6" stroke="#333333" stroke-width="2.4"/>
<text x="770.4" y="830.6" font-size="22.8" fill="#4d4d4d" text-anchor="middle">4</text>
<line x1="107.4" y1="751.2" x2="114.7" y2="751.2" stroke="#333333" stroke-width="2.4"/>
<text x="102.2" y="759.6" font-size="22.8" fill="#4d4d4d" text-anchor="end">−2000</text>
<line x1="107.4" y1="588.4" x2="114.7" y2="588.4" stroke="#333333" stroke-width="2.4"/>
<text x="102.2" y="596.8" font-size="22.8" fill="#4d4d4d" text-anchor="end">−1000</text>
<line x1="107.4" y1="425.6" x2="114.7" y2="425.6" stroke="#333333" stroke-width="2.4"/>
<text x="102.2" y="434" font-size="22.8" fill="#4d4d4d" text-anchor="end">0</text>
<line x1="107.4" y1="262.8" x2="114.7" y2="262.8" stroke="#333333" stroke-width="2.4"/>
<text x="102.2" y="271.2" font-size="22.8" fill="#4d4d4d" text-anchor="end">1000</text>
<text x="446.3" y="860.8" font-size="27" text-anchor="middle">RIS</text>
<text transform="translate(28,467.5) rotate(-90)" x="0" y="0" font-size="27" text-anchor="middle">StromalScore</text>
<clipPath id="clipB"><rect x="1206.7" y="132.5" width="663.1" height="669.8"/></clipPath>
<line x1="1297.4" y1="132.5" x2="1297.4" y2="802.3" stroke="#ebebeb" stroke-width="1.1"/>
<line x1="1458.8" y1="132.5" x2="1458.8" y2="802.3" stroke="#ebebeb" stroke-width="1.1"/>
<line x1="1620.2" y1="132.5" x2="1620.2" y2="802.3" stroke="#ebebeb" stroke-width="1.1"/>
<line x1="1781.6" y1="132.5" x2="1781.6" y2="802.3" stroke="#ebebeb" stroke-width="1.1"/>
<line x1="1206.7" y1="692.7" x2="1869.8" y2="692.7" stroke="#ebebeb" stroke-width="1.1"/>
<line x1="1206.7" y1="542.1" x2="1869.8" y2="542.1" stroke="#ebebeb" stroke-width="1.1"/>
<line x1="1206.7" y1="391.5" x2="1869.8" y2="391.5" stroke="#ebebeb" stroke-width="1.1"/>
<line x1="1206.7" y1="240.9" x2="1869.8" y2="240.9" stroke="#ebebeb" stroke-width="1.1"/>
<line x1="1216.7" y1="132.5" x2="1216.7" y2="802.3" stroke="#ebebeb" stroke-width="2"/>
<line x1="1378.1" y1="132.5" x2="1378.1" y2="802.3" stroke="#ebebeb" stroke-width="2"/>
<line x1="1539.5" y1="132.5" x2="1539.5" y2="802.3" stroke="#ebebeb" stroke-width="2"/>
<line x1="1700.9" y1="132.5" x2="1700.9" y2="802.3" stroke="#ebebeb" stroke-width="2"/>
<line x1="1862.3" y1="132.5" x2="1862.3" y2="802.3" stroke="#ebebeb" stroke-width="2"/>
<line x1="1206.7" y1="768" x2="1869.8" y2="768" stroke="#ebebeb" stroke-width="2"/>
<line x1="1206.7" y1="617.4" x2="1869.8" y2="617.4" stroke="#ebebeb" stroke-width="2"/>
<line x1="1206.7" y1="466.8" x2="1869.8" y2="466.8" stroke="#ebebeb" stroke-width="2"/>
<line x1="1206.7" y1="316.2" x2="1869.8" y2="316.2" stroke="#ebebeb" stroke-width="2"/>
<line x1="1206.7" y1="165.6" x2="1869.8" y2="165.6" stroke="#ebebeb" stroke-width="2"/>
<g clip-path="url(#clipB)" fill="#000">
<circle cx="1404.9" cy="218.2" r="5.5"/><circle cx="1535.4" cy="227.3" r="5.5"/><circle cx="1380.4" cy="239.7" r="5.5"/><circle cx="1407.4" cy="275.7" r="5.5"/><circle cx="1531.6" cy="280.6" r="5.5"/><circle cx="1433.2" cy="294.2" r="5.5"/><circle cx="1429.1" cy="305.5" r="5.5"/><circle cx="1458.7" cy="296.6" r="5.5"/><circle cx="1465.6" cy="293.2" r="5.5"/><circle cx="1444.9" cy="311.2" r="5.5"/><circle cx="1382.3" cy="312.1" r="5.5"/><circle cx="1379.5" cy="315.9" r="5.5"/><circle cx="1387" cy="321" r="5.5"/><circle cx="1405.9" cy="321" r="5.5"/><circle cx="1414.4" cy="320.2" r="5.5"/><circle cx="1434.2" cy="321.1" r="5.5"/><circle cx="1421.9" cy="330" r="5.5"/><circle cx="1405.9" cy="335.7" r="5.5"/><circle cx="1401.2" cy="345.7" r="5.5"/><circle cx="1385.7" cy="343.8" r="5.5"/><circle cx="1429.1" cy="341.9" r="5.5"/><circle cx="1429.1" cy="349.4" r="5.5"/><circle cx="1482.6" cy="322.5" r="5.5"/><circle cx="1489.8" cy="321.5" r="5.5"/><circle cx="1520.9" cy="316.2" r="5.5"/><circle cx="1537.9" cy="323.4" r="5.5"/><circle cx="1508.6" cy="331.9" r="5.5"/><circle cx="1510.9" cy="343.8" r="5.5"/><circle cx="1526" cy="340.4" r="5.5"/><circle cx="1493.6" cy="346" r="5.5"/><circle cx="1497.3" cy="349.8" r="5.5"/><circle cx="1334.6" cy="342.3" r="5.5"/><circle cx="1390.2" cy="362.6" r="5.5"/><circle cx="1442.3" cy="366.8" r="5.5"/><circle cx="1459.6" cy="366.8" r="5.5"/><circle cx="1511.5" cy="356.4" r="5.5"/><circle cx="1522.8" cy="365.4" r="5.5"/><circle cx="1537.9" cy="365.4" r="5.5"/><circle cx="1329.9" cy="377.1" r="5.5"/><circle cx="1395.1" cy="374.7" r="5.5"/><circle cx="1411.9" cy="379" r="5.5"/><circle cx="1337.1" cy="389.4" r="5.5"/><circle cx="1335.2" cy="393.2" r="5.5"/><circle cx="1355" cy="400.7" r="5.5"/><circle cx="1363.5" cy="398.8" r="5.5"/><circle cx="1363.5" cy="403.5" r="5.5"/><circle cx="1378.2" cy="399.2" r="5.5"/><circle cx="1420" cy="395" r="5.5"/><circle cx="1412.5" cy="402.6" r="5.5"/><circle cx="1436.1" cy="400.7" r="5.5"/><circle cx="1444.5" cy="402.2" r="5.5"/><circle cx="1471.9" cy="388.4" r="5.5"/><circle cx="1482.2" cy="384.7" r="5.5"/><circle cx="1490.7" cy="388.4" r="5.5"/><circle cx="1510.5" cy="380.9" r="5.5"/><circle cx="1509.6" cy="386.6" r="5.5"/><circle cx="1515.2" cy="390.9" r="5.5"/><circle cx="1474.7" cy="398.4" r="5.5"/><circle cx="1464.3" cy="401.6" r="5.5"/><circle cx="1466.8" cy="412" r="5.5"/><circle cx="1480.4" cy="410.5" r="5.5"/><circle cx="1502" cy="405" r="5.5"/><circle cx="1538.8" cy="406" r="5.5"/><circle cx="1322.9" cy="412" r="5.5"/><circle cx="1439.3" cy="415.8" r="5.5"/><circle cx="1395.5" cy="412" r="5.5"/><circle cx="1361.6" cy="421.4" r="5.5"/><circle cx="1369.1" cy="421.4" r="5.5"/><circle cx="1378.9" cy="421.4" r="5.5"/><circle cx="1386.1" cy="417.7" r="5.5"/><circle cx="1403.1" cy="416.7" r="5.5"/><circle cx="1414.4" cy="417.7" r="5.5"/><circle cx="1425.7" cy="424.3" r="5.5"/><circle cx="1447.4" cy="429.9" r="5.5"/><circle cx="1469" cy="429.9" r="5.5"/><circle cx="1483.2" cy="428.6" r="5.5"/><circle cx="1504.9" cy="430.9" r="5.5"/><circle cx="1519" cy="426.7" r="5.5"/><circle cx="1527.5" cy="432.4" r="5.5"/><circle cx="1508.6" cy="436.5" r="5.5"/><circle cx="1516.2" cy="435.6" r="5.5"/><circle cx="1359.7" cy="430.9" r="5.5"/><circle cx="1363.5" cy="434.6" r="5.5"/><circle cx="1388" cy="434.6" r="5.5"/><circle cx="1403.1" cy="432.7" r="5.5"/><circle cx="1414.4" cy="429.9" r="5.5"/><circle cx="1433.2" cy="440.3" r="5.5"/><circle cx="1446.4" cy="438.4" r="5.5"/><circle cx="1463.4" cy="442.2" r="5.5"/><circle cx="1474.7" cy="438.4" r="5.5"/><circle cx="1482.2" cy="444.1" r="5.5"/><circle cx="1489.8" cy="449.7" r="5.5"/><circle cx="1327.1" cy="436.1" r="5.5"/><circle cx="1324.3" cy="446.9" r="5.5"/><circle cx="1360.6" cy="445.9" r="5.5"/><circle cx="1371" cy="446.9" r="5.5"/><circle cx="1382.3" cy="444.1" r="5.5"/><circle cx="1404.9" cy="442.2" r="5.5"/><circle cx="1414.4" cy="444.1" r="5.5"/><circle cx="1442.6" cy="447.8" r="5.5"/><circle cx="1478.5" cy="453.5" r="5.5"/><circle cx="1461.5" cy="456.3" r="5.5"/><circle cx="1447.4" cy="458.2" r="5.5"/><circle cx="1302.2" cy="454.4" r="5.5"/><circle cx="1266.4" cy="461" r="5.5"/><circle cx="1339" cy="459.1" r="5.5"/><circle cx="1354" cy="459.1" r="5.5"/><circle cx="1369.1" cy="457.3" r="5.5"/><circle cx="1380.4" cy="453.5" r="5.5"/><circle cx="1395.5" cy="453.5" r="5.5"/><circle cx="1403.1" cy="457.3" r="5.5"/><circle cx="1425.7" cy="462" r="5.5"/><circle cx="1536" cy="453.5" r="5.5"/><circle cx="1331.4" cy="466.7" r="5.5"/><circle cx="1308.8" cy="468" r="5.5"/><circle cx="1357.8" cy="464.8" r="5.5"/><circle cx="1404.9" cy="466.7" r="5.5"/><circle cx="1467.2" cy="466.7" r="5.5"/><circle cx="1444.5" cy="468" r="5.5"/><circle cx="1620.4" cy="162.6" r="5.5"/><circle cx="1613.8" cy="183.9" r="5.5"/><circle cx="1670.7" cy="188.6" r="5.5"/><circle cx="1700" cy="202.8" r="5.5"/><circle cx="1626.8" cy="222" r="5.5"/><circle cx="1698.4" cy="231.4" r="5.5"/><circle cx="1572.7" cy="230.1" r="5.5"/><circle cx="1592.5" cy="253.3" r="5.5"/><circle cx="1670.7" cy="262.1" r="5.5"/><circle cx="1563.3" cy="278.5" r="5.5"/><circle cx="1583.1" cy="278.2" r="5.5"/><circle cx="1549.1" cy="297.6" r="5.5"/><circle cx="1640.6" cy="285.7" r="5.5"/><circle cx="1650.4" cy="305.9" r="5.5"/><circle cx="1672.6" cy="305.5" r="5.5"/><circle cx="1562" cy="334.7" r="5.5"/><circle cx="1587.4" cy="339.8" r="5.5"/><circle cx="1602.9" cy="345.1" r="5.5"/><circle cx="1624.7" cy="346.6" r="5.5"/><circle cx="1663.2" cy="328.5" r="5.5"/><circle cx="1688.8" cy="336.2" r="5.5"/><circle cx="1840" cy="312.7" r="5.5"/><circle cx="1546.3" cy="366.4" r="5.5"/><circle cx="1558" cy="362.6" r="5.5"/><circle cx="1589.7" cy="359.2" r="5.5"/><circle cx="1595.3" cy="358.3" r="5.5"/><circle cx="1601" cy="363.9" r="5.5"/><circle cx="1627.9" cy="362.6" r="5.5"/><circle cx="1610" cy="378.1" r="5.5"/><circle cx="1624.5" cy="392.2" r="5.5"/><circle cx="1630.6" cy="389.4" r="5.5"/><circle cx="1657.5" cy="383.4" r="5.5"/><circle cx="1662.8" cy="382.8" r="5.5"/><circle cx="1686.4" cy="377.3" r="5.5"/><circle cx="1727.3" cy="353" r="5.5"/><circle cx="1728.8" cy="368.3" r="5.5"/><circle cx="1721.6" cy="380" r="5.5"/><circle cx="1708.4" cy="388.8" r="5.5"/><circle cx="1765.9" cy="357.3" r="5.5"/><circle cx="1752.4" cy="385.6" r="5.5"/><circle cx="1553.9" cy="396.9" r="5.5"/><circle cx="1560.5" cy="394.1" r="5.5"/><circle cx="1558.6" cy="401.6" r="5.5"/><circle cx="1626.1" cy="404.1" r="5.5"/><circle cx="1636.8" cy="404.1" r="5.5"/><circle cx="1659.4" cy="398.4" r="5.5"/><circle cx="1627.4" cy="414.8" r="5.5"/><circle cx="1636.8" cy="419.6" r="5.5"/><circle cx="1647.7" cy="423.3" r="5.5"/><circle cx="1655.7" cy="427.5" r="5.5"/><circle cx="1659" cy="414.8" r="5.5"/><circle cx="1676.4" cy="411.4" r="5.5"/><circle cx="1577.4" cy="423.9" r="5.5"/><circle cx="1599.1" cy="432.7" r="5.5"/><circle cx="1605.1" cy="441.8" r="5.5"/><circle cx="1706.2" cy="419.9" r="5.5"/><circle cx="1715" cy="419.9" r="5.5"/><circle cx="1695.6" cy="426.1" r="5.5"/><circle cx="1736.7" cy="424.8" r="5.5"/><circle cx="1674.5" cy="435.6" r="5.5"/><circle cx="1690" cy="439.9" r="5.5"/><circle cx="1681.1" cy="450.7" r="5.5"/><circle cx="1595.3" cy="447.5" r="5.5"/><circle cx="1582.1" cy="451.6" r="5.5"/><circle cx="1585.9" cy="458.6" r="5.5"/><circle cx="1548.2" cy="462" r="5.5"/><circle cx="1538.8" cy="464.8" r="5.5"/><circle cx="1324.8" cy="474.5" r="5.5"/><circle cx="1339" cy="469.8" r="5.5"/><circle cx="1347.4" cy="473.6" r="5.5"/><circle cx="1299.4" cy="489.6" r="5.5"/><circle cx="1315.4" cy="493.4" r="5.5"/><circle cx="1318.2" cy="502.8" r="5.5"/><circle cx="1325.8" cy="488.7" r="5.5"/><circle cx="1337.1" cy="484" r="5.5"/><circle cx="1421.9" cy="469.8" r="5.5"/><circle cx="1455.8" cy="472.7" r="5.5"/><circle cx="1469" cy="471.7" r="5.5"/><circle cx="1413.4" cy="482.1" r="5.5"/><circle cx="1431.3" cy="491.5" r="5.5"/><circle cx="1437" cy="482.1" r="5.5"/><circle cx="1442.6" cy="480.2" r="5.5"/><circle cx="1451.1" cy="487.7" r="5.5"/><circle cx="1495.4" cy="481.1" r="5.5"/><circle cx="1489.8" cy="492.5" r="5.5"/><circle cx="1485.1" cy="501.9" r="5.5"/><circle cx="1493.6" cy="512.2" r="5.5"/><circle cx="1503.9" cy="517.9" r="5.5"/><circle cx="1528.4" cy="484.9" r="5.5"/><circle cx="1533.1" cy="491.5" r="5.5"/><circle cx="1530.3" cy="499" r="5.5"/><circle cx="1299.4" cy="505.6" r="5.5"/><circle cx="1297.5" cy="515.1" r="5.5"/><circle cx="1290.9" cy="522.6" r="5.5"/><circle cx="1281.5" cy="533.9" r="5.5"/><circle cx="1286.2" cy="544.3" r="5.5"/><circle cx="1281.5" cy="551.8" r="5.5"/><circle cx="1306" cy="532" r="5.5"/><circle cx="1318.2" cy="530.2" r="5.5"/><circle cx="1301.3" cy="543.4" r="5.5"/><circle cx="1309.7" cy="545.2" r="5.5"/><circle cx="1298.4" cy="558.4" r="5.5"/><circle cx="1306" cy="566.9" r="5.5"/><circle cx="1307.9" cy="578.2" r="5.5"/><circle cx="1320.1" cy="580.1" r="5.5"/><circle cx="1257.9" cy="591.4" r="5.5"/><circle cx="1283.4" cy="588.6" r="5.5"/><circle cx="1300.3" cy="593.3" r="5.5"/><circle cx="1310.7" cy="591.4" r="5.5"/><circle cx="1279.6" cy="601.8" r="5.5"/><circle cx="1280.5" cy="610.3" r="5.5"/><circle cx="1277.7" cy="622.5" r="5.5"/><circle cx="1289.9" cy="619.7" r="5.5"/><circle cx="1299.4" cy="617.8" r="5.5"/><circle cx="1462.4" cy="533" r="5.5"/><circle cx="1470" cy="523.6" r="5.5"/><circle cx="1466.2" cy="551.8" r="5.5"/><circle cx="1479.4" cy="543.4" r="5.5"/><circle cx="1491.7" cy="555.6" r="5.5"/><circle cx="1482.2" cy="562.2" r="5.5"/><circle cx="1469" cy="564.1" r="5.5"/><circle cx="1496.4" cy="533" r="5.5"/><circle cx="1508.6" cy="543.4" r="5.5"/><circle cx="1519" cy="546.2" r="5.5"/><circle cx="1522.8" cy="538.3" r="5.5"/><circle cx="1540.7" cy="552.8" r="5.5"/><circle cx="1461.5" cy="585.8" r="5.5"/><circle cx="1489.8" cy="583.9" r="5.5"/><circle cx="1500.1" cy="586.7" r="5.5"/><circle cx="1520.9" cy="588.6" r="5.5"/><circle cx="1493.6" cy="597.1" r="5.5"/><circle cx="1524.7" cy="602.7" r="5.5"/><circle cx="1540.7" cy="599.9" r="5.5"/><circle cx="1469" cy="602.7" r="5.5"/><circle cx="1461.5" cy="606.5" r="5.5"/><circle cx="1494.5" cy="608.4" r="5.5"/><circle cx="1501.1" cy="615.9" r="5.5"/><circle cx="1520.9" cy="620.6" r="5.5"/><circle cx="1467.2" cy="634.4" r="5.5"/><circle cx="1284.3" cy="632.9" r="5.5"/><circle cx="1259.8" cy="638.9" r="5.5"/><circle cx="1280.5" cy="643.3" r="5.5"/><circle cx="1295.6" cy="638.2" r="5.5"/><circle cx="1301.3" cy="648.9" r="5.5"/><circle cx="1254.1" cy="655.1" r="5.5"/><circle cx="1457.7" cy="647" r="5.5"/><circle cx="1447.4" cy="657.4" r="5.5"/><circle cx="1282.4" cy="661.2" r="5.5"/><circle cx="1289.9" cy="659.3" r="5.5"/><circle cx="1273" cy="672.5" r="5.5"/><circle cx="1255.1" cy="673.4" r="5.5"/><circle cx="1285.2" cy="679.1" r="5.5"/><circle cx="1295.6" cy="683.8" r="5.5"/><circle cx="1284.3" cy="689.5" r="5.5"/><circle cx="1306.9" cy="683.8" r="5.5"/><circle cx="1317.3" cy="681.9" r="5.5"/><circle cx="1236.2" cy="700.8" r="5.5"/><circle cx="1309.7" cy="699.8" r="5.5"/><circle cx="1295.6" cy="713" r="5.5"/><circle cx="1321.1" cy="710.6" r="5.5"/><circle cx="1337.1" cy="712.5" r="5.5"/><circle cx="1340.8" cy="701.7" r="5.5"/><circle cx="1350.3" cy="713" r="5.5"/><circle cx="1288.1" cy="727.2" r="5.5"/><circle cx="1311.6" cy="721.5" r="5.5"/><circle cx="1324.8" cy="723.4" r="5.5"/><circle cx="1345.6" cy="727.2" r="5.5"/><circle cx="1351.2" cy="720.6" r="5.5"/><circle cx="1362" cy="719.6" r="5.5"/><circle cx="1374.8" cy="699.8" r="5.5"/><circle cx="1380.4" cy="705.5" r="5.5"/><circle cx="1388" cy="700.8" r="5.5"/><circle cx="1402.1" cy="693.2" r="5.5"/><circle cx="1404.9" cy="721.5" r="5.5"/><circle cx="1451.1" cy="688.5" r="5.5"/><circle cx="1461.5" cy="699.8" r="5.5"/><circle cx="1482.2" cy="677.8" r="5.5"/><circle cx="1532.2" cy="680" r="5.5"/><circle cx="1346.5" cy="744.1" r="5.5"/><circle cx="1374.8" cy="771.5" r="5.5"/><circle cx="1401.2" cy="666.8" r="5.5"/><circle cx="1414.4" cy="665.9" r="5.5"/><circle cx="1423.8" cy="663.1" r="5.5"/><circle cx="1433.2" cy="661.2" r="5.5"/><circle cx="1417.2" cy="678.1" r="5.5"/><circle cx="1404.9" cy="679.1" r="5.5"/><circle cx="1433.2" cy="638.6" r="5.5"/><circle cx="1423.8" cy="629.1" r="5.5"/><circle cx="1535" cy="498.1" r="5.5"/><circle cx="1561" cy="493.4" r="5.5"/><circle cx="1564.2" cy="504.3" r="5.5"/><circle cx="1553.9" cy="512.2" r="5.5"/><circle cx="1555.7" cy="516.4" r="5.5"/><circle cx="1572.7" cy="526.9" r="5.5"/><circle cx="1580.2" cy="521.3" r="5.5"/><circle cx="1551" cy="532" r="5.5"/><circle cx="1548.2" cy="538.6" r="5.5"/><circle cx="1549.1" cy="545.2" r="5.5"/><circle cx="1544.8" cy="552.4" r="5.5"/><circle cx="1606.1" cy="477.7" r="5.5"/><circle cx="1618.9" cy="484.9" r="5.5"/><circle cx="1625.5" cy="484" r="5.5"/><circle cx="1623.6" cy="498.1" r="5.5"/><circle cx="1637.2" cy="496.2" r="5.5"/><circle cx="1611.7" cy="504.3" r="5.5"/><circle cx="1656.2" cy="496.8" r="5.5"/><circle cx="1653.4" cy="511.9" r="5.5"/><circle cx="1676.4" cy="513.2" r="5.5"/><circle cx="1687.3" cy="514.7" r="5.5"/><circle cx="1681.1" cy="474.5" r="5.5"/><circle cx="1695.2" cy="482.5" r="5.5"/><circle cx="1706.9" cy="484.9" r="5.5"/><circle cx="1710.3" cy="488.1" r="5.5"/><circle cx="1631.1" cy="525.8" r="5.5"/><circle cx="1615.3" cy="543.2" r="5.5"/><circle cx="1662.4" cy="542" r="5.5"/><circle cx="1771.4" cy="547.3" r="5.5"/><circle cx="1620.4" cy="557.7" r="5.5"/><circle cx="1634.9" cy="569" r="5.5"/><circle cx="1662.4" cy="560.1" r="5.5"/><circle cx="1670.7" cy="563.1" r="5.5"/><circle cx="1601.9" cy="575" r="5.5"/><circle cx="1603.8" cy="579.2" r="5.5"/><circle cx="1549.5" cy="587.3" r="5.5"/><circle cx="1544.8" cy="599.5" r="5.5"/><circle cx="1593.4" cy="591.4" r="5.5"/><circle cx="1587.4" cy="597.1" r="5.5"/><circle cx="1611" cy="609" r="5.5"/><circle cx="1671.1" cy="610.3" r="5.5"/><circle cx="1569.9" cy="614" r="5.5"/><circle cx="1575.5" cy="621.6" r="5.5"/><circle cx="1680.2" cy="645.7" r="5.5"/><circle cx="1367.4" cy="428.8" r="5.5"/><circle cx="1378.9" cy="422.9" r="5.5"/><circle cx="1395.2" cy="419.1" r="5.5"/><circle cx="1405.9" cy="421.7" r="5.5"/><circle cx="1410.2" cy="419.9" r="5.5"/><circle cx="1424" cy="427.4" r="5.5"/><circle cx="1367.5" cy="434.6" r="5.5"/><circle cx="1378.6" cy="431.3" r="5.5"/><circle cx="1385.3" cy="432.8" r="5.5"/><circle cx="1404" cy="435.2" r="5.5"/><circle cx="1412" cy="436.9" r="5.5"/><circle cx="1425.5" cy="433.8" r="5.5"/><circle cx="1357.2" cy="450.2" r="5.5"/><circle cx="1363.3" cy="448.8" r="5.5"/><circle cx="1378.3" cy="452.1" r="5.5"/><circle cx="1392.5" cy="445.7" r="5.5"/><circle cx="1407.2" cy="443.9" r="5.5"/><circle cx="1413.2" cy="450.8" r="5.5"/><circle cx="1422.3" cy="447.9" r="5.5"/><circle cx="1368.9" cy="460.8" r="5.5"/><circle cx="1382.1" cy="458" r="5.5"/><circle cx="1392.2" cy="461" r="5.5"/><circle cx="1402.9" cy="459.5" r="5.5"/><circle cx="1417.7" cy="464.8" r="5.5"/><circle cx="1425.8" cy="461.8" r="5.5"/><circle cx="1278.6" cy="615.8" r="5.5"/><circle cx="1290.4" cy="608.9" r="5.5"/><circle cx="1302.6" cy="609.2" r="5.5"/><circle cx="1320.1" cy="616.7" r="5.5"/><circle cx="1279.4" cy="630.7" r="5.5"/><circle cx="1290.1" cy="626.4" r="5.5"/><circle cx="1306.8" cy="626.8" r="5.5"/><circle cx="1319.3" cy="627.2" r="5.5"/><circle cx="1286.9" cy="638.9" r="5.5"/><circle cx="1291" cy="632.9" r="5.5"/><circle cx="1313.4" cy="637.8" r="5.5"/><circle cx="1317.6" cy="643.2" r="5.5"/><circle cx="1270.1" cy="653.6" r="5.5"/><circle cx="1286.7" cy="648.5" r="5.5"/><circle cx="1293.5" cy="655.4" r="5.5"/><circle cx="1303.9" cy="654.1" r="5.5"/><circle cx="1316.5" cy="653.2" r="5.5"/><circle cx="1286.2" cy="664" r="5.5"/><circle cx="1291.7" cy="659.9" r="5.5"/><circle cx="1308.5" cy="664.1" r="5.5"/><circle cx="1316.2" cy="668.7" r="5.5"/><circle cx="1278.9" cy="674" r="5.5"/><circle cx="1289.5" cy="675.1" r="5.5"/><circle cx="1305.5" cy="676.1" r="5.5"/><circle cx="1319.8" cy="680.9" r="5.5"/><circle cx="1318.9" cy="684.3" r="5.5"/><circle cx="1378.5" cy="470.4" r="5.5"/><circle cx="1388.2" cy="469.2" r="5.5"/><circle cx="1395.5" cy="469" r="5.5"/><circle cx="1369.5" cy="479.4" r="5.5"/><circle cx="1377.8" cy="475.2" r="5.5"/><circle cx="1388.6" cy="472.7" r="5.5"/><circle cx="1397.1" cy="473.3" r="5.5"/><circle cx="1406.4" cy="479.7" r="5.5"/><circle cx="1362.9" cy="483.6" r="5.5"/><circle cx="1369" cy="482.7" r="5.5"/><circle cx="1378" cy="483.6" r="5.5"/><circle cx="1384.2" cy="486" r="5.5"/><circle cx="1393.3" cy="487.3" r="5.5"/><circle cx="1401.6" cy="487.3" r="5.5"/><circle cx="1349.1" cy="493.1" r="5.5"/><circle cx="1361.4" cy="497.8" r="5.5"/><circle cx="1368.3" cy="491.1" r="5.5"/><circle cx="1379" cy="491.1" r="5.5"/><circle cx="1384.1" cy="494.5" r="5.5"/><circle cx="1398.1" cy="490.5" r="5.5"/><circle cx="1405.1" cy="495.7" r="5.5"/><circle cx="1416.6" cy="493.1" r="5.5"/><circle cx="1342.3" cy="506.6" r="5.5"/><circle cx="1351.8" cy="506.6" r="5.5"/><circle cx="1356.7" cy="507" r="5.5"/><circle cx="1372.6" cy="503.4" r="5.5"/><circle cx="1378.7" cy="503.3" r="5.5"/><circle cx="1390.8" cy="499.5" r="5.5"/><circle cx="1397.6" cy="503.3" r="5.5"/><circle cx="1403.9" cy="504.8" r="5.5"/><circle cx="1416.3" cy="499.8" r="5.5"/><circle cx="1425.1" cy="502.6" r="5.5"/><circle cx="1432.4" cy="504.1" r="5.5"/><circle cx="1437.9" cy="503.8" r="5.5"/><circle cx="1449.5" cy="506.1" r="5.5"/><circle cx="1343.4" cy="509.4" r="5.5"/><circle cx="1348" cy="510.8" r="5.5"/><circle cx="1360.2" cy="512.3" r="5.5"/><circle cx="1365.6" cy="514.2" r="5.5"/><circle cx="1377.1" cy="514.3" r="5.5"/><circle cx="1383.5" cy="515.7" r="5.5"/><circle cx="1397.2" cy="515.9" r="5.5"/><circle cx="1409.4" cy="514.7" r="5.5"/><circle cx="1411.3" cy="510.8" r="5.5"/><circle cx="1421.3" cy="514.3" r="5.5"/><circle cx="1430" cy="509.7" r="5.5"/><circle cx="1438.3" cy="508.9" r="5.5"/><circle cx="1454" cy="515.9" r="5.5"/><circle cx="1333" cy="524.6" r="5.5"/><circle cx="1338.6" cy="517.8" r="5.5"/><circle cx="1353.9" cy="517.4" r="5.5"/><circle cx="1358.5" cy="523.8" r="5.5"/><circle cx="1370.3" cy="518.7" r="5.5"/><circle cx="1374.9" cy="519.2" r="5.5"/><circle cx="1385.9" cy="523.4" r="5.5"/><circle cx="1400.3" cy="523.3" r="5.5"/><circle cx="1408.7" cy="524.5" r="5.5"/><circle cx="1417.5" cy="524.4" r="5.5"/><circle cx="1427.3" cy="517.7" r="5.5"/><circle cx="1431" cy="519" r="5.5"/><circle cx="1442.3" cy="520.9" r="5.5"/><circle cx="1449.2" cy="523.7" r="5.5"/><circle cx="1330.8" cy="530.4" r="5.5"/><circle cx="1340" cy="531.7" r="5.5"/><circle cx="1352.8" cy="527.1" r="5.5"/><circle cx="1361.5" cy="528.7" r="5.5"/><circle cx="1369.1" cy="530.9" r="5.5"/><circle cx="1380.6" cy="533.1" r="5.5"/><circle cx="1389.4" cy="527.7" r="5.5"/><circle cx="1396.8" cy="528.7" r="5.5"/><circle cx="1401.6" cy="530.4" r="5.5"/><circle cx="1414.3" cy="533" r="5.5"/><circle cx="1422.1" cy="532.7" r="5.5"/><circle cx="1432.6" cy="526.8" r="5.5"/><circle cx="1443.2" cy="528.3" r="5.5"/><circle cx="1450.8" cy="526.5" r="5.5"/><circle cx="1455.5" cy="533.4" r="5.5"/><circle cx="1325.7" cy="538.2" r="5.5"/><circle cx="1336.6" cy="539.1" r="5.5"/><circle cx="1339.5" cy="540.5" r="5.5"/><circle cx="1350.3" cy="537.1" r="5.5"/><circle cx="1359" cy="538.1" r="5.5"/><circle cx="1366.9" cy="539.9" r="5.5"/><circle cx="1381.5" cy="539.6" r="5.5"/><circle cx="1383.5" cy="540.5" r="5.5"/><circle cx="1392.6" cy="538.8" r="5.5"/><circle cx="1408.5" cy="540.4" r="5.5"/><circle cx="1417.8" cy="541.1" r="5.5"/><circle cx="1421.6" cy="536.1" r="5.5"/><circle cx="1432.1" cy="540.5" r="5.5"/><circle cx="1439.3" cy="537.6" r="5.5"/><circle cx="1452.5" cy="537.8" r="5.5"/><circle cx="1321.5" cy="545.7" r="5.5"/><circle cx="1333.8" cy="551.3" r="5.5"/><circle cx="1340.2" cy="545.6" r="5.5"/><circle cx="1353" cy="547.4" r="5.5"/><circle cx="1363.3" cy="552" r="5.5"/><circle cx="1373" cy="549.7" r="5.5"/><circle cx="1378.5" cy="544.4" r="5.5"/><circle cx="1390" cy="547.2" r="5.5"/><circle cx="1396.2" cy="549.1" r="5.5"/><circle cx="1409.2" cy="548.5" r="5.5"/><circle cx="1417.9" cy="551.8" r="5.5"/><circle cx="1420.1" cy="546.8" r="5.5"/><circle cx="1435.6" cy="550.2" r="5.5"/><circle cx="1445.3" cy="545.5" r="5.5"/><circle cx="1450.7" cy="551.5" r="5.5"/><circle cx="1316.1" cy="554.6" r="5.5"/><circle cx="1327.2" cy="555.2" r="5.5"/><circle cx="1330.5" cy="555.4" r="5.5"/><circle cx="1338.7" cy="556.2" r="5.5"/><circle cx="1353.8" cy="556.6" r="5.5"/><circle cx="1364.3" cy="553.3" r="5.5"/><circle cx="1366.8" cy="554.1" r="5.5"/><circle cx="1379.1" cy="554.6" r="5.5"/><circle cx="1388.8" cy="557.2" r="5.5"/><circle cx="1397.1" cy="559.8" r="5.5"/><circle cx="1407.8" cy="560.4" r="5.5"/><circle cx="1411.7" cy="556" r="5.5"/><circle cx="1427.2" cy="556.2" r="5.5"/><circle cx="1430.8" cy="556.9" r="5.5"/><circle cx="1438.9" cy="559.8" r="5.5"/><circle cx="1451.6" cy="553.7" r="5.5"/><circle cx="1320.9" cy="566.2" r="5.5"/><circle cx="1332" cy="568.8" r="5.5"/><circle cx="1340.1" cy="562.1" r="5.5"/><circle cx="1351.2" cy="562.9" r="5.5"/><circle cx="1359" cy="563.8" r="5.5"/><circle cx="1366.9" cy="567.1" r="5.5"/><circle cx="1382" cy="564.9" r="5.5"/><circle cx="1388.6" cy="564.6" r="5.5"/><circle cx="1399.9" cy="566.4" r="5.5"/><circle cx="1401.7" cy="568" r="5.5"/><circle cx="1412.1" cy="562.3" r="5.5"/><circle cx="1419.6" cy="568.8" r="5.5"/><circle cx="1434.2" cy="564.9" r="5.5"/><circle cx="1442" cy="567.7" r="5.5"/><circle cx="1447.1" cy="567.7" r="5.5"/><circle cx="1314.4" cy="576.3" r="5.5"/><circle cx="1327.7" cy="573.8" r="5.5"/><circle cx="1333.6" cy="578.2" r="5.5"/><circle cx="1338.7" cy="578.8" r="5.5"/><circle cx="1350" cy="574.7" r="5.5"/><circle cx="1358.8" cy="577.4" r="5.5"/><circle cx="1369.8" cy="577" r="5.5"/><circle cx="1375.3" cy="578.1" r="5.5"/><circle cx="1390.1" cy="576.5" r="5.5"/><circle cx="1394.2" cy="573.1" r="5.5"/><circle cx="1405.1" cy="571.5" r="5.5"/><circle cx="1418.2" cy="574.3" r="5.5"/><circle cx="1427.2" cy="572.4" r="5.5"/><circle cx="1433.7" cy="577.4" r="5.5"/><circle cx="1442.7" cy="574.4" r="5.5"/><circle cx="1446.6" cy="574.5" r="5.5"/><circle cx="1320.5" cy="580.9" r="5.5"/><circle cx="1334.1" cy="581.6" r="5.5"/><circle cx="1343.4" cy="583" r="5.5"/><circle cx="1349.7" cy="587.8" r="5.5"/><circle cx="1357.9" cy="587.1" r="5.5"/><circle cx="1369.7" cy="585.3" r="5.5"/><circle cx="1375.6" cy="586" r="5.5"/><circle cx="1390.6" cy="581.6" r="5.5"/><circle cx="1396.3" cy="585.2" r="5.5"/><circle cx="1405.3" cy="586" r="5.5"/><circle cx="1415.7" cy="582.5" r="5.5"/><circle cx="1425" cy="586.2" r="5.5"/><circle cx="1432.2" cy="584.7" r="5.5"/><circle cx="1442.6" cy="583.8" r="5.5"/><circle cx="1447.2" cy="583.3" r="5.5"/><circle cx="1312.7" cy="594.2" r="5.5"/><circle cx="1326.1" cy="593.3" r="5.5"/><circle cx="1337.1" cy="593.6" r="5.5"/><circle cx="1338.5" cy="591.3" r="5.5"/><circle cx="1353.1" cy="589.6" r="5.5"/><circle cx="1364.3" cy="594.6" r="5.5"/><circle cx="1371.6" cy="590.3" r="5.5"/><circle cx="1374.5" cy="596" r="5.5"/><circle cx="1387.6" cy="592.5" r="5.5"/><circle cx="1396.6" cy="595.2" r="5.5"/><circle cx="1404.5" cy="595.2" r="5.5"/><circle cx="1411.8" cy="596.9" r="5.5"/><circle cx="1425.1" cy="591.5" r="5.5"/><circle cx="1432.3" cy="596.1" r="5.5"/><circle cx="1440.1" cy="594.6" r="5.5"/><circle cx="1315.1" cy="604.5" r="5.5"/><circle cx="1324.1" cy="598.3" r="5.5"/><circle cx="1331.1" cy="604.7" r="5.5"/><circle cx="1345.6" cy="602.6" r="5.5"/><circle cx="1348.1" cy="604.2" r="5.5"/><circle cx="1363.5" cy="600.3" r="5.5"/><circle cx="1369.3" cy="600.3" r="5.5"/><circle cx="1374.9" cy="603.9" r="5.5"/><circle cx="1384.7" cy="598.7" r="5.5"/><circle cx="1399.8" cy="598.7" r="5.5"/><circle cx="1407.6" cy="604.6" r="5.5"/><circle cx="1412.5" cy="601" r="5.5"/><circle cx="1421.2" cy="603.7" r="5.5"/><circle cx="1436.3" cy="604" r="5.5"/><circle cx="1441.4" cy="602.3" r="5.5"/><circle cx="1310.4" cy="612.8" r="5.5"/><circle cx="1312.9" cy="607.1" r="5.5"/><circle cx="1325.3" cy="608" r="5.5"/><circle cx="1333.5" cy="611.8" r="5.5"/><circle cx="1345" cy="610.1" r="5.5"/><circle cx="1351.9" cy="613.5" r="5.5"/><circle cx="1357.5" cy="609.7" r="5.5"/><circle cx="1372" cy="609.9" r="5.5"/><circle cx="1382" cy="607.6" r="5.5"/><circle cx="1384.1" cy="609.9" r="5.5"/><circle cx="1396.2" cy="609.9" r="5.5"/><circle cx="1403.2" cy="610.6" r="5.5"/><circle cx="1417.7" cy="614.5" r="5.5"/><circle cx="1424.5" cy="609" r="5.5"/><circle cx="1433.2" cy="608.2" r="5.5"/><circle cx="1437.9" cy="613.4" r="5.5"/><circle cx="1309.7" cy="621.5" r="5.5"/><circle cx="1312.9" cy="616.5" r="5.5"/><circle cx="1327.8" cy="617" r="5.5"/><circle cx="1335.2" cy="621.5" r="5.5"/><circle cx="1343.2" cy="619.8" r="5.5"/><circle cx="1350.8" cy="618.2" r="5.5"/><circle cx="1361.7" cy="617.2" r="5.5"/><circle cx="1369.3" cy="618.1" r="5.5"/><circle cx="1377.4" cy="623.2" r="5.5"/><circle cx="1388" cy="621.2" r="5.5"/><circle cx="1397.7" cy="616" r="5.5"/><circle cx="1407.8" cy="623" r="5.5"/><circle cx="1416.5" cy="620.2" r="5.5"/><circle cx="1426.3" cy="623.6" r="5.5"/><circle cx="1430.7" cy="617.3" r="5.5"/><circle cx="1309.3" cy="630.7" r="5.5"/><circle cx="1311.9" cy="630.8" r="5.5"/><circle cx="1322" cy="631.5" r="5.5"/><circle cx="1334.7" cy="629.4" r="5.5"/><circle cx="1342" cy="632.9" r="5.5"/><circle cx="1349.1" cy="632.2" r="5.5"/><circle cx="1358.1" cy="625.7" r="5.5"/><circle cx="1367.2" cy="625.3" r="5.5"/><circle cx="1381.2" cy="626.4" r="5.5"/><circle cx="1388.1" cy="627.2" r="5.5"/><circle cx="1395.3" cy="631.3" r="5.5"/><circle cx="1405.9" cy="627.1" r="5.5"/><circle cx="1416.5" cy="626.1" r="5.5"/><circle cx="1419.8" cy="630.6" r="5.5"/><circle cx="1435.3" cy="631.1" r="5.5"/><circle cx="1305.3" cy="634.5" r="5.5"/><circle cx="1313" cy="635.1" r="5.5"/><circle cx="1326.4" cy="639.5" r="5.5"/><circle cx="1333.8" cy="636.5" r="5.5"/><circle cx="1344.3" cy="637.6" r="5.5"/><circle cx="1351.4" cy="635.5" r="5.5"/><circle cx="1364.5" cy="637.5" r="5.5"/><circle cx="1369.3" cy="635.6" r="5.5"/><circle cx="1378.1" cy="637.8" r="5.5"/><circle cx="1386.9" cy="640" r="5.5"/><circle cx="1395.2" cy="639" r="5.5"/><circle cx="1406.9" cy="635" r="5.5"/><circle cx="1417.1" cy="634.5" r="5.5"/><circle cx="1421.5" cy="640.7" r="5.5"/><circle cx="1429.4" cy="636.2" r="5.5"/><circle cx="1303.7" cy="643.5" r="5.5"/><circle cx="1311.8" cy="643.3" r="5.5"/><circle cx="1326.3" cy="647.7" r="5.5"/><circle cx="1330" cy="650.5" r="5.5"/><circle cx="1346.4" cy="646.3" r="5.5"/><circle cx="1350.4" cy="650" r="5.5"/><circle cx="1361.8" cy="649" r="5.5"/><circle cx="1366.9" cy="648.9" r="5.5"/><circle cx="1378" cy="643.4" r="5.5"/><circle cx="1383.8" cy="645.1" r="5.5"/><circle cx="1394.3" cy="645.1" r="5.5"/><circle cx="1408.8" cy="646.2" r="5.5"/><circle cx="1412.1" cy="643.8" r="5.5"/><circle cx="1419.9" cy="646.2" r="5.5"/><circle cx="1317.4" cy="657" r="5.5"/><circle cx="1328.1" cy="657.7" r="5.5"/><circle cx="1332.2" cy="659.7" r="5.5"/><circle cx="1338.6" cy="653.5" r="5.5"/><circle cx="1348.4" cy="655" r="5.5"/><circle cx="1359.3" cy="655.1" r="5.5"/><circle cx="1370.6" cy="654.8" r="5.5"/><circle cx="1378.4" cy="657.4" r="5.5"/><circle cx="1390.9" cy="659.7" r="5.5"/><circle cx="1395.4" cy="655.1" r="5.5"/><circle cx="1314.2" cy="662.6" r="5.5"/><circle cx="1321.3" cy="666" r="5.5"/><circle cx="1334.1" cy="668.5" r="5.5"/><circle cx="1343.9" cy="665.6" r="5.5"/><circle cx="1352.3" cy="668.3" r="5.5"/><circle cx="1363.9" cy="662.3" r="5.5"/><circle cx="1366.4" cy="662" r="5.5"/><circle cx="1374.5" cy="667.8" r="5.5"/><circle cx="1391.2" cy="665" r="5.5"/><circle cx="1321.8" cy="671.7" r="5.5"/><circle cx="1333.6" cy="670.2" r="5.5"/><circle cx="1345.1" cy="673.7" r="5.5"/><circle cx="1352.7" cy="672.9" r="5.5"/><circle cx="1363.3" cy="670.8" r="5.5"/><circle cx="1372.5" cy="671.9" r="5.5"/><circle cx="1378.6" cy="674.5" r="5.5"/><circle cx="1388.9" cy="674.3" r="5.5"/><circle cx="1338.7" cy="680.6" r="5.5"/><circle cx="1351.7" cy="681.6" r="5.5"/><circle cx="1357.1" cy="681.2" r="5.5"/><circle cx="1365.7" cy="679.1" r="5.5"/><circle cx="1381.2" cy="681.5" r="5.5"/><circle cx="1389.2" cy="680.9" r="5.5"/><circle cx="1370.2" cy="691.7" r="5.5"/><circle cx="1378.5" cy="692.1" r="5.5"/>
</g>
<path d="M1236.2,612 L1251.3,605 L1266.4,598.1 L1281.5,591.1 L1296.6,584.2 L1311.7,577.2 L1326.8,570.1 L1341.9,563.1 L1357,556 L1372.1,548.8 L1387.2,541.6 L1402.4,534.2 L1417.5,526.7 L1432.6,519 L1447.7,511 L1462.8,502.9 L1477.9,494.6 L1493,486.1 L1508.1,477.5 L1523.2,468.9 L1538.3,460.2 L1553.4,451.5 L1568.5,442.7 L1583.6,433.9 L1598.7,425.2 L1613.8,416.3 L1628.9,407.5 L1644,398.7 L1659.1,389.9 L1674.2,381.1 L1689.4,372.2 L1704.5,363.4 L1719.6,354.5 L1734.7,345.7 L1749.8,336.8 L1764.9,328 L1780,319.1 L1795.1,310.3 L1810.2,301.4 L1825.3,292.6 L1840.4,283.7 L1840.4,337.8 L1825.3,344.7 L1810.2,351.6 L1795.1,358.5 L1780,365.4 L1764.9,372.3 L1749.8,379.2 L1734.7,386.1 L1719.6,393 L1704.5,399.9 L1689.4,406.8 L1674.2,413.8 L1659.1,420.7 L1644,427.6 L1628.9,434.5 L1613.8,441.5 L1598.7,448.4 L1583.6,455.4 L1568.5,462.4 L1553.4,469.4 L1538.3,476.4 L1523.2,483.5 L1508.1,490.6 L1493,497.8 L1477.9,505.1 L1462.8,512.5 L1447.7,520.1 L1432.6,527.9 L1417.5,535.9 L1402.4,544.2 L1387.2,552.5 L1372.1,561.1 L1357,569.7 L1341.9,578.3 L1326.8,587 L1311.7,595.8 L1296.6,604.5 L1281.5,613.3 L1266.4,622.1 L1251.3,630.9 L1236.2,639.7Z" fill="#999999" fill-opacity="0.4"/>
<line x1="1236.2" y1="625.9" x2="1840.4" y2="310.8" stroke="#3366ff" stroke-width="4.2"/>
<rect x="1206.7" y="132.5" width="663.1" height="669.8" fill="none" stroke="#333333" stroke-width="1.6"/>
<line x1="1216.7" y1="802.3" x2="1216.7" y2="809.6" stroke="#333333" stroke-width="2.4"/>
<text x="1216.7" y="830.6" font-size="22.8" fill="#4d4d4d" text-anchor="middle">0</text>
<line x1="1378.1" y1="802.3" x2="1378.1" y2="809.6" stroke="#333333" stroke-width="2.4"/>
<text x="1378.1" y="830.6" font-size="22.8" fill="#4d4d4d" text-anchor="middle">1</text>
<line x1="1539.5" y1="802.3" x2="1539.5" y2="809.6" stroke="#333333" stroke-width="2.4"/>
<text x="1539.5" y="830.6" font-size="22.8" fill="#4d4d4d" text-anchor="middle">2</text>
<line x1="1700.9" y1="802.3" x2="1700.9" y2="809.6" stroke="#333333" stroke-width="2.4"/>
<text x="1700.9" y="830.6" font-size="22.8" fill="#4d4d4d" text-anchor="middle">3</text>
<line x1="1862.3" y1="802.3" x2="1862.3" y2="809.6" stroke="#333333" stroke-width="2.4"/>
<text x="1862.3" y="830.6" font-size="22.8" fill="#4d4d4d" text-anchor="middle">4</text>
<line x1="1199.4" y1="768" x2="1206.7" y2="768" stroke="#333333" stroke-width="2.4"/>
<text x="1194.2" y="776.4" font-size="22.8" fill="#4d4d4d" text-anchor="end">−2000</text>
<line x1="1199.4" y1="617.4" x2="1206.7" y2="617.4" stroke="#333333" stroke-width="2.4"/>
<text x="1194.2" y="625.8" font-size="22.8" fill="#4d4d4d" text-anchor="end">−1000</text>
<line x1="1199.4" y1="466.8" x2="1206.7" y2="466.8" stroke="#333333" stroke-width="2.4"/>
<text x="1194.2" y="475.2" font-size="22.8" fill="#4d4d4d" text-anchor="end">0</text>
<line x1="1199.4" y1="316.2" x2="1206.7" y2="316.2" stroke="#333333" stroke-width="2.4"/>
<text x="1194.2" y="324.6" font-size="22.8" fill="#4d4d4d" text-anchor="end">1000</text>
<line x1="1199.4" y1="165.6" x2="1206.7" y2="165.6" stroke="#333333" stroke-width="2.4"/>
<text x="1194.2" y="174" font-size="22.8" fill="#4d4d4d" text-anchor="end">2000</text>
<text x="1538.2" y="860.8" font-size="27" text-anchor="middle">RIS</text>
<text transform="translate(1120,467.4) rotate(-90)" x="0" y="0" font-size="27" text-anchor="middle">ImmuneScore</text>
<clipPath id="clipC"><rect x="114.7" y="1046.2" width="663.2" height="669.3"/></clipPath>
<line x1="205.7" y1="1046.2" x2="205.7" y2="1715.5" stroke="#ebebeb" stroke-width="1.1"/>
<line x1="367" y1="1046.2" x2="367" y2="1715.5" stroke="#ebebeb" stroke-width="1.1"/>
<line x1="528.4" y1="1046.2" x2="528.4" y2="1715.5" stroke="#ebebeb" stroke-width="1.1"/>
<line x1="689.7" y1="1046.2" x2="689.7" y2="1715.5" stroke="#ebebeb" stroke-width="1.1"/>
<line x1="114.7" y1="1609" x2="777.9" y2="1609" stroke="#ebebeb" stroke-width="1.1"/>
<line x1="114.7" y1="1441.8" x2="777.9" y2="1441.8" stroke="#ebebeb" stroke-width="1.1"/>
<line x1="114.7" y1="1274.4" x2="777.9" y2="1274.4" stroke="#ebebeb" stroke-width="1.1"/>
<line x1="114.7" y1="1107.1" x2="777.9" y2="1107.1" stroke="#ebebeb" stroke-width="1.1"/>
<line x1="125" y1="1046.2" x2="125" y2="1715.5" stroke="#ebebeb" stroke-width="2"/>
<line x1="286.4" y1="1046.2" x2="286.4" y2="1715.5" stroke="#ebebeb" stroke-width="2"/>
<line x1="447.7" y1="1046.2" x2="447.7" y2="1715.5" stroke="#ebebeb" stroke-width="2"/>
<line x1="609" y1="1046.2" x2="609" y2="1715.5" stroke="#ebebeb" stroke-width="2"/>
<line x1="770.4" y1="1046.2" x2="770.4" y2="1715.5" stroke="#ebebeb" stroke-width="2"/>
<line x1="114.7" y1="1692.7" x2="777.9" y2="1692.7" stroke="#ebebeb" stroke-width="2"/>
<line x1="114.7" y1="1525.4" x2="777.9" y2="1525.4" stroke="#ebebeb" stroke-width="2"/>
<line x1="114.7" y1="1358.1" x2="777.9" y2="1358.1" stroke="#ebebeb" stroke-width="2"/>
<line x1="114.7" y1="1190.8" x2="777.9" y2="1190.8" stroke="#ebebeb" stroke-width="2"/>
<g clip-path="url(#clipC)" fill="#000">
<circle cx="443.4" cy="1200" r="5.5"/><circle cx="312.9" cy="1223.6" r="5.5"/><circle cx="288.4" cy="1232.3" r="5.5"/><circle cx="366.7" cy="1259.6" r="5.5"/><circle cx="373.6" cy="1270" r="5.5"/><circle cx="337.5" cy="1266.6" r="5.5"/><circle cx="342.2" cy="1268.1" r="5.5"/><circle cx="341.2" cy="1279.8" r="5.5"/><circle cx="329.9" cy="1282" r="5.5"/><circle cx="313.9" cy="1287.3" r="5.5"/><circle cx="315.2" cy="1293.3" r="5.5"/><circle cx="352.9" cy="1293.9" r="5.5"/><circle cx="367.2" cy="1285.8" r="5.5"/><circle cx="390.6" cy="1293.9" r="5.5"/><circle cx="416.6" cy="1294.8" r="5.5"/><circle cx="429.5" cy="1286.9" r="5.5"/><circle cx="430.2" cy="1264.3" r="5.5"/><circle cx="434.5" cy="1268.5" r="5.5"/><circle cx="440.2" cy="1264.3" r="5.5"/><circle cx="446.8" cy="1269.4" r="5.5"/><circle cx="292.2" cy="1299.6" r="5.5"/><circle cx="288.4" cy="1308" r="5.5"/><circle cx="337.1" cy="1309.6" r="5.5"/><circle cx="342.2" cy="1314.6" r="5.5"/><circle cx="397.8" cy="1306.5" r="5.5"/><circle cx="405.3" cy="1309" r="5.5"/><circle cx="419.5" cy="1306.5" r="5.5"/><circle cx="434" cy="1305.8" r="5.5"/><circle cx="242.6" cy="1320.7" r="5.5"/><circle cx="309.2" cy="1326" r="5.5"/><circle cx="322" cy="1323.1" r="5.5"/><circle cx="319.5" cy="1331.6" r="5.5"/><circle cx="294.7" cy="1329.7" r="5.5"/><circle cx="336.5" cy="1334.4" r="5.5"/><circle cx="418.5" cy="1323.1" r="5.5"/><circle cx="427" cy="1322.7" r="5.5"/><circle cx="369.5" cy="1339.1" r="5.5"/><circle cx="397.8" cy="1338.2" r="5.5"/><circle cx="444.9" cy="1334.4" r="5.5"/><circle cx="349.7" cy="1344.8" r="5.5"/><circle cx="353.5" cy="1352.3" r="5.5"/><circle cx="375.2" cy="1350.5" r="5.5"/><circle cx="380.8" cy="1349.1" r="5.5"/><circle cx="396.8" cy="1353.3" r="5.5"/><circle cx="409.1" cy="1352.3" r="5.5"/><circle cx="416.6" cy="1343.9" r="5.5"/><circle cx="424.2" cy="1350.5" r="5.5"/><circle cx="442.1" cy="1348.6" r="5.5"/><circle cx="298.2" cy="1350.5" r="5.5"/><circle cx="327.7" cy="1351.8" r="5.5"/><circle cx="245.5" cy="1361.8" r="5.5"/><circle cx="271.8" cy="1359.3" r="5.5"/><circle cx="313.9" cy="1364.6" r="5.5"/><circle cx="312" cy="1370.3" r="5.5"/><circle cx="374.8" cy="1362.7" r="5.5"/><circle cx="371.8" cy="1371.2" r="5.5"/><circle cx="390.2" cy="1360.8" r="5.5"/><circle cx="388.4" cy="1367.4" r="5.5"/><circle cx="418.5" cy="1367.4" r="5.5"/><circle cx="446.8" cy="1373.1" r="5.5"/><circle cx="230" cy="1379.7" r="5.5"/><circle cx="239.4" cy="1377.8" r="5.5"/><circle cx="245.1" cy="1379.7" r="5.5"/><circle cx="263" cy="1379.7" r="5.5"/><circle cx="303.1" cy="1375.9" r="5.5"/><circle cx="326.1" cy="1379.7" r="5.5"/><circle cx="333.7" cy="1379.7" r="5.5"/><circle cx="344.1" cy="1376.9" r="5.5"/><circle cx="352.5" cy="1377.8" r="5.5"/><circle cx="360.1" cy="1379.7" r="5.5"/><circle cx="380.8" cy="1377.8" r="5.5"/><circle cx="436.4" cy="1377.8" r="5.5"/><circle cx="608" cy="1076.2" r="5.5"/><circle cx="521.8" cy="1115" r="5.5"/><circle cx="578.7" cy="1149.7" r="5.5"/><circle cx="528.4" cy="1157.4" r="5.5"/><circle cx="606.3" cy="1160.8" r="5.5"/><circle cx="480.7" cy="1188" r="5.5"/><circle cx="534.8" cy="1188.9" r="5.5"/><circle cx="578.7" cy="1192.9" r="5.5"/><circle cx="500.5" cy="1209.3" r="5.5"/><circle cx="548.6" cy="1223.2" r="5.5"/><circle cx="491.1" cy="1234.5" r="5.5"/><circle cx="748" cy="1218.3" r="5.5"/><circle cx="457.1" cy="1250.2" r="5.5"/><circle cx="509" cy="1254.3" r="5.5"/><circle cx="580.6" cy="1257.7" r="5.5"/><circle cx="596.8" cy="1264.7" r="5.5"/><circle cx="471.3" cy="1266" r="5.5"/><circle cx="495.4" cy="1268.5" r="5.5"/><circle cx="558.4" cy="1267.1" r="5.5"/><circle cx="571.2" cy="1281.6" r="5.5"/><circle cx="497.7" cy="1290.1" r="5.5"/><circle cx="503.3" cy="1291.6" r="5.5"/><circle cx="470" cy="1296.4" r="5.5"/><circle cx="510.9" cy="1301.8" r="5.5"/><circle cx="532.7" cy="1299.6" r="5.5"/><circle cx="673.9" cy="1296.7" r="5.5"/><circle cx="635.3" cy="1305.2" r="5.5"/><circle cx="531.6" cy="1312.8" r="5.5"/><circle cx="536.3" cy="1317.5" r="5.5"/><circle cx="461.9" cy="1319.4" r="5.5"/><circle cx="466.6" cy="1315.6" r="5.5"/><circle cx="466.6" cy="1320.3" r="5.5"/><circle cx="563.3" cy="1323.1" r="5.5"/><circle cx="629.3" cy="1322.2" r="5.5"/><circle cx="636.8" cy="1327.8" r="5.5"/><circle cx="454.3" cy="1331" r="5.5"/><circle cx="468.5" cy="1337.8" r="5.5"/><circle cx="485.4" cy="1336.9" r="5.5"/><circle cx="520.3" cy="1334.4" r="5.5"/><circle cx="518.4" cy="1340.1" r="5.5"/><circle cx="534.4" cy="1334.4" r="5.5"/><circle cx="538.8" cy="1342.9" r="5.5"/><circle cx="564.6" cy="1335.9" r="5.5"/><circle cx="616.4" cy="1331.6" r="5.5"/><circle cx="567.4" cy="1348.6" r="5.5"/><circle cx="594.8" cy="1349.1" r="5.5"/><circle cx="644.7" cy="1345.2" r="5.5"/><circle cx="660.4" cy="1343.3" r="5.5"/><circle cx="534.4" cy="1354.6" r="5.5"/><circle cx="555.7" cy="1358" r="5.5"/><circle cx="533.1" cy="1367.4" r="5.5"/><circle cx="545.4" cy="1365.9" r="5.5"/><circle cx="493.9" cy="1375.9" r="5.5"/><circle cx="513.1" cy="1375" r="5.5"/><circle cx="613.6" cy="1375.9" r="5.5"/><circle cx="622.5" cy="1374.4" r="5.5"/><circle cx="174.4" cy="1435.6" r="5.5"/><circle cx="210.6" cy="1436.6" r="5.5"/><circle cx="207" cy="1447.9" r="5.5"/><circle cx="217.7" cy="1446.9" r="5.5"/><circle cx="235.1" cy="1407.3" r="5.5"/><circle cx="241.3" cy="1420.5" r="5.5"/><circle cx="248.8" cy="1422.4" r="5.5"/><circle cx="390.2" cy="1385.7" r="5.5"/><circle cx="415.7" cy="1401.7" r="5.5"/><circle cx="421.3" cy="1414.9" r="5.5"/><circle cx="435.5" cy="1414.9" r="5.5"/><circle cx="446.8" cy="1417.7" r="5.5"/><circle cx="377" cy="1395.1" r="5.5"/><circle cx="334.6" cy="1405.5" r="5.5"/><circle cx="198.9" cy="1468.6" r="5.5"/><circle cx="207.4" cy="1467.7" r="5.5"/><circle cx="223.4" cy="1464.8" r="5.5"/><circle cx="233.8" cy="1473.3" r="5.5"/><circle cx="226.2" cy="1481.8" r="5.5"/><circle cx="189.5" cy="1491.2" r="5.5"/><circle cx="189.5" cy="1508.2" r="5.5"/><circle cx="194.2" cy="1520.4" r="5.5"/><circle cx="207.4" cy="1496.9" r="5.5"/><circle cx="213" cy="1515.7" r="5.5"/><circle cx="406.3" cy="1461.1" r="5.5"/><circle cx="411.9" cy="1461.1" r="5.5"/><circle cx="430.8" cy="1446.9" r="5.5"/><circle cx="439.3" cy="1446.9" r="5.5"/><circle cx="440.2" cy="1466.7" r="5.5"/><circle cx="403.4" cy="1477.1" r="5.5"/><circle cx="387.4" cy="1475.2" r="5.5"/><circle cx="427.9" cy="1489.3" r="5.5"/><circle cx="427" cy="1497.8" r="5.5"/><circle cx="397.8" cy="1501.6" r="5.5"/><circle cx="448.7" cy="1498.8" r="5.5"/><circle cx="379.9" cy="1511" r="5.5"/><circle cx="399.7" cy="1518.6" r="5.5"/><circle cx="416.6" cy="1518.6" r="5.5"/><circle cx="432.7" cy="1522.3" r="5.5"/><circle cx="403.4" cy="1528.9" r="5.5"/><circle cx="409.1" cy="1533.6" r="5.5"/><circle cx="401.6" cy="1545.9" r="5.5"/><circle cx="375.2" cy="1545.9" r="5.5"/><circle cx="365.7" cy="1533.6" r="5.5"/><circle cx="207.4" cy="1531.8" r="5.5"/><circle cx="217.7" cy="1534.6" r="5.5"/><circle cx="191.4" cy="1543.1" r="5.5"/><circle cx="188.5" cy="1557.2" r="5.5"/><circle cx="165.9" cy="1572.3" r="5.5"/><circle cx="187.6" cy="1572.3" r="5.5"/><circle cx="186.6" cy="1581.7" r="5.5"/><circle cx="166.8" cy="1592.1" r="5.5"/><circle cx="181" cy="1594" r="5.5"/><circle cx="162.1" cy="1603.4" r="5.5"/><circle cx="163.1" cy="1619.4" r="5.5"/><circle cx="191.4" cy="1599.6" r="5.5"/><circle cx="187.6" cy="1610" r="5.5"/><circle cx="205.5" cy="1611.9" r="5.5"/><circle cx="203.6" cy="1598.7" r="5.5"/><circle cx="214.9" cy="1616.6" r="5.5"/><circle cx="228.1" cy="1622.2" r="5.5"/><circle cx="224.3" cy="1613.8" r="5.5"/><circle cx="197.9" cy="1625.1" r="5.5"/><circle cx="199.8" cy="1632.6" r="5.5"/><circle cx="203.6" cy="1636.4" r="5.5"/><circle cx="192.3" cy="1651.5" r="5.5"/><circle cx="197.9" cy="1648.6" r="5.5"/><circle cx="217.7" cy="1647.7" r="5.5"/><circle cx="219.6" cy="1652.4" r="5.5"/><circle cx="230" cy="1645.8" r="5.5"/><circle cx="237.5" cy="1636.4" r="5.5"/><circle cx="247" cy="1628.8" r="5.5"/><circle cx="248.8" cy="1647.7" r="5.5"/><circle cx="258.3" cy="1630.7" r="5.5"/><circle cx="254.5" cy="1664.7" r="5.5"/><circle cx="258.3" cy="1678.8" r="5.5"/><circle cx="282.8" cy="1685.4" r="5.5"/><circle cx="144.2" cy="1653" r="5.5"/><circle cx="287.5" cy="1633.6" r="5.5"/><circle cx="297.9" cy="1634.5" r="5.5"/><circle cx="288.4" cy="1646.8" r="5.5"/><circle cx="326.1" cy="1620.4" r="5.5"/><circle cx="312.9" cy="1615.6" r="5.5"/><circle cx="369.5" cy="1621.3" r="5.5"/><circle cx="322.4" cy="1604.3" r="5.5"/><circle cx="337.5" cy="1598.7" r="5.5"/><circle cx="341.2" cy="1595.9" r="5.5"/><circle cx="359.1" cy="1591.1" r="5.5"/><circle cx="364.8" cy="1579.8" r="5.5"/><circle cx="390.2" cy="1593" r="5.5"/><circle cx="429.8" cy="1573.2" r="5.5"/><circle cx="440.2" cy="1563.8" r="5.5"/><circle cx="448.7" cy="1556.3" r="5.5"/><circle cx="354.4" cy="1564.7" r="5.5"/><circle cx="341.2" cy="1567.6" r="5.5"/><circle cx="358.2" cy="1551.6" r="5.5"/><circle cx="614.6" cy="1380" r="5.5"/><circle cx="582.5" cy="1392.3" r="5.5"/><circle cx="589.1" cy="1394.1" r="5.5"/><circle cx="598" cy="1388.5" r="5.5"/><circle cx="603.6" cy="1397.3" r="5.5"/><circle cx="584.4" cy="1403.9" r="5.5"/><circle cx="589.1" cy="1414.9" r="5.5"/><circle cx="618.3" cy="1408.8" r="5.5"/><circle cx="614.9" cy="1422.8" r="5.5"/><circle cx="603.2" cy="1430" r="5.5"/><circle cx="679.4" cy="1425.8" r="5.5"/><circle cx="503.3" cy="1385.7" r="5.5"/><circle cx="456.2" cy="1406.4" r="5.5"/><circle cx="490.1" cy="1413.4" r="5.5"/><circle cx="514.1" cy="1419.6" r="5.5"/><circle cx="529.7" cy="1426.2" r="5.5"/><circle cx="531.6" cy="1432.8" r="5.5"/><circle cx="527.3" cy="1435.6" r="5.5"/><circle cx="561.4" cy="1435.6" r="5.5"/><circle cx="468.8" cy="1431.5" r="5.5"/><circle cx="472.2" cy="1441.3" r="5.5"/><circle cx="459.4" cy="1443.7" r="5.5"/><circle cx="487.9" cy="1443.7" r="5.5"/><circle cx="545.2" cy="1446" r="5.5"/><circle cx="564" cy="1450.7" r="5.5"/><circle cx="584.8" cy="1444.5" r="5.5"/><circle cx="462.8" cy="1455.4" r="5.5"/><circle cx="457.7" cy="1463.5" r="5.5"/><circle cx="480.7" cy="1467.1" r="5.5"/><circle cx="519.4" cy="1460.1" r="5.5"/><circle cx="523.1" cy="1468.6" r="5.5"/><circle cx="570.3" cy="1465.8" r="5.5"/><circle cx="578.4" cy="1465.2" r="5.5"/><circle cx="456.2" cy="1477.7" r="5.5"/><circle cx="539.1" cy="1480.9" r="5.5"/><circle cx="595.3" cy="1479" r="5.5"/><circle cx="453" cy="1498.4" r="5.5"/><circle cx="495.4" cy="1497.8" r="5.5"/><circle cx="509.9" cy="1501.2" r="5.5"/><circle cx="501.1" cy="1505.9" r="5.5"/><circle cx="528.4" cy="1498.2" r="5.5"/><circle cx="570.8" cy="1514.6" r="5.5"/><circle cx="542.9" cy="1521.4" r="5.5"/><circle cx="477.9" cy="1527.4" r="5.5"/><circle cx="511.8" cy="1532.3" r="5.5"/><circle cx="483.5" cy="1541.6" r="5.5"/><circle cx="579.1" cy="1538.9" r="5.5"/><circle cx="588.2" cy="1543.6" r="5.5"/><circle cx="457.5" cy="1549.7" r="5.5"/><circle cx="452.8" cy="1556.6" r="5.5"/><circle cx="519" cy="1551.9" r="5.5"/><circle cx="263.1" cy="1392.9" r="5.5"/><circle cx="271.1" cy="1390.4" r="5.5"/><circle cx="280.6" cy="1392.1" r="5.5"/><circle cx="297.9" cy="1391.2" r="5.5"/><circle cx="309.5" cy="1388.7" r="5.5"/><circle cx="318.3" cy="1391.4" r="5.5"/><circle cx="327.7" cy="1390.1" r="5.5"/><circle cx="340.6" cy="1394.7" r="5.5"/><circle cx="347.7" cy="1392.1" r="5.5"/><circle cx="354.3" cy="1392.4" r="5.5"/><circle cx="264.4" cy="1404.6" r="5.5"/><circle cx="277.4" cy="1404.4" r="5.5"/><circle cx="282.8" cy="1400.2" r="5.5"/><circle cx="294.1" cy="1404.6" r="5.5"/><circle cx="310.2" cy="1397.7" r="5.5"/><circle cx="313.3" cy="1398.5" r="5.5"/><circle cx="324.4" cy="1400.9" r="5.5"/><circle cx="338.3" cy="1398.8" r="5.5"/><circle cx="343.2" cy="1400.2" r="5.5"/><circle cx="357.2" cy="1401.6" r="5.5"/><circle cx="373.2" cy="1402.8" r="5.5"/><circle cx="262.4" cy="1407.3" r="5.5"/><circle cx="269.7" cy="1408.2" r="5.5"/><circle cx="281.1" cy="1410.2" r="5.5"/><circle cx="290.9" cy="1415" r="5.5"/><circle cx="307" cy="1408.2" r="5.5"/><circle cx="314.1" cy="1410.1" r="5.5"/><circle cx="325.6" cy="1407.9" r="5.5"/><circle cx="340.7" cy="1416.2" r="5.5"/><circle cx="347.6" cy="1411.3" r="5.5"/><circle cx="354.5" cy="1407.7" r="5.5"/><circle cx="367.4" cy="1409.3" r="5.5"/><circle cx="250.3" cy="1424.6" r="5.5"/><circle cx="264.2" cy="1424.6" r="5.5"/><circle cx="272.8" cy="1419.4" r="5.5"/><circle cx="287.9" cy="1426.6" r="5.5"/><circle cx="298.7" cy="1424.9" r="5.5"/><circle cx="308.9" cy="1424.3" r="5.5"/><circle cx="313.8" cy="1422.2" r="5.5"/><circle cx="325.5" cy="1417.5" r="5.5"/><circle cx="332.9" cy="1419.9" r="5.5"/><circle cx="345.6" cy="1423.8" r="5.5"/><circle cx="362.7" cy="1421.5" r="5.5"/><circle cx="233.9" cy="1435.3" r="5.5"/><circle cx="239" cy="1434" r="5.5"/><circle cx="257.3" cy="1435.2" r="5.5"/><circle cx="266.3" cy="1432.3" r="5.5"/><circle cx="271.4" cy="1435.2" r="5.5"/><circle cx="283.3" cy="1435.3" r="5.5"/><circle cx="299.9" cy="1431.5" r="5.5"/><circle cx="305" cy="1436.7" r="5.5"/><circle cx="318.5" cy="1429.4" r="5.5"/><circle cx="323.4" cy="1429.2" r="5.5"/><circle cx="341.2" cy="1435.4" r="5.5"/><circle cx="344.6" cy="1435.6" r="5.5"/><circle cx="362.9" cy="1434" r="5.5"/><circle cx="367.5" cy="1433" r="5.5"/><circle cx="230.1" cy="1441" r="5.5"/><circle cx="240.5" cy="1443.8" r="5.5"/><circle cx="251.1" cy="1442.2" r="5.5"/><circle cx="260.4" cy="1446.9" r="5.5"/><circle cx="273" cy="1442.6" r="5.5"/><circle cx="285.7" cy="1446.8" r="5.5"/><circle cx="294.7" cy="1446.9" r="5.5"/><circle cx="305.9" cy="1443.3" r="5.5"/><circle cx="316.6" cy="1438.5" r="5.5"/><circle cx="326.3" cy="1440" r="5.5"/><circle cx="332.7" cy="1445.8" r="5.5"/><circle cx="344.8" cy="1442.7" r="5.5"/><circle cx="360.5" cy="1443.5" r="5.5"/><circle cx="367.3" cy="1443.2" r="5.5"/><circle cx="222.5" cy="1456" r="5.5"/><circle cx="236.3" cy="1453" r="5.5"/><circle cx="244" cy="1453.6" r="5.5"/><circle cx="253.5" cy="1455.3" r="5.5"/><circle cx="263.5" cy="1453.8" r="5.5"/><circle cx="274.2" cy="1457.7" r="5.5"/><circle cx="286.8" cy="1457.1" r="5.5"/><circle cx="299.6" cy="1451.2" r="5.5"/><circle cx="306.5" cy="1457.7" r="5.5"/><circle cx="319.6" cy="1450.1" r="5.5"/><circle cx="323.3" cy="1453" r="5.5"/><circle cx="333.4" cy="1451" r="5.5"/><circle cx="343.9" cy="1455.1" r="5.5"/><circle cx="361.1" cy="1457.3" r="5.5"/><circle cx="226.5" cy="1467.1" r="5.5"/><circle cx="229.2" cy="1463.4" r="5.5"/><circle cx="243.1" cy="1462.5" r="5.5"/><circle cx="250.5" cy="1462.3" r="5.5"/><circle cx="266" cy="1459.5" r="5.5"/><circle cx="274.9" cy="1463.4" r="5.5"/><circle cx="280.4" cy="1462.4" r="5.5"/><circle cx="296.6" cy="1464.1" r="5.5"/><circle cx="301.8" cy="1468.6" r="5.5"/><circle cx="319.1" cy="1468.5" r="5.5"/><circle cx="323.2" cy="1461.8" r="5.5"/><circle cx="333.1" cy="1466.6" r="5.5"/><circle cx="345.7" cy="1460.5" r="5.5"/><circle cx="357.7" cy="1467.9" r="5.5"/><circle cx="213.2" cy="1473.8" r="5.5"/><circle cx="217.9" cy="1478.6" r="5.5"/><circle cx="233.7" cy="1477.4" r="5.5"/><circle cx="239" cy="1477.9" r="5.5"/><circle cx="249.3" cy="1477.9" r="5.5"/><circle cx="263.5" cy="1473" r="5.5"/><circle cx="274.9" cy="1478.5" r="5.5"/><circle cx="282.7" cy="1471" r="5.5"/><circle cx="295.7" cy="1472" r="5.5"/><circle cx="302.2" cy="1471.3" r="5.5"/><circle cx="312.2" cy="1471.7" r="5.5"/><circle cx="325.1" cy="1472.7" r="5.5"/><circle cx="339.9" cy="1472.5" r="5.5"/><circle cx="347.9" cy="1471.5" r="5.5"/><circle cx="357" cy="1469.9" r="5.5"/><circle cx="214.4" cy="1484.4" r="5.5"/><circle cx="221.9" cy="1488.2" r="5.5"/><circle cx="231.4" cy="1485.1" r="5.5"/><circle cx="244.7" cy="1489.6" r="5.5"/><circle cx="251.9" cy="1488.1" r="5.5"/><circle cx="265.9" cy="1486.3" r="5.5"/><circle cx="273.5" cy="1483.6" r="5.5"/><circle cx="280.7" cy="1481.5" r="5.5"/><circle cx="291.4" cy="1487.3" r="5.5"/><circle cx="303.6" cy="1481.8" r="5.5"/><circle cx="312.5" cy="1488.2" r="5.5"/><circle cx="330.4" cy="1486.6" r="5.5"/><circle cx="335.3" cy="1482.6" r="5.5"/><circle cx="346" cy="1484.6" r="5.5"/><circle cx="355.2" cy="1484.5" r="5.5"/><circle cx="366.7" cy="1489.4" r="5.5"/><circle cx="206.7" cy="1494.4" r="5.5"/><circle cx="221.7" cy="1495.5" r="5.5"/><circle cx="229.6" cy="1495.5" r="5.5"/><circle cx="238.2" cy="1493.3" r="5.5"/><circle cx="249.5" cy="1494.6" r="5.5"/><circle cx="259.6" cy="1491" r="5.5"/><circle cx="272.6" cy="1493" r="5.5"/><circle cx="285.7" cy="1495.8" r="5.5"/><circle cx="297.8" cy="1497" r="5.5"/><circle cx="307.9" cy="1499.1" r="5.5"/><circle cx="315.4" cy="1493.9" r="5.5"/><circle cx="331.5" cy="1492.2" r="5.5"/><circle cx="339.5" cy="1496.9" r="5.5"/><circle cx="343.6" cy="1498.7" r="5.5"/><circle cx="362.1" cy="1496.7" r="5.5"/><circle cx="371.1" cy="1498.5" r="5.5"/><circle cx="376" cy="1495.7" r="5.5"/><circle cx="203.8" cy="1509.1" r="5.5"/><circle cx="212.2" cy="1509.7" r="5.5"/><circle cx="223.6" cy="1507.8" r="5.5"/><circle cx="229.9" cy="1501.6" r="5.5"/><circle cx="239.4" cy="1504.7" r="5.5"/><circle cx="249.7" cy="1509.2" r="5.5"/><circle cx="264.5" cy="1507.2" r="5.5"/><circle cx="275.6" cy="1507.7" r="5.5"/><circle cx="284.8" cy="1501.3" r="5.5"/><circle cx="298.2" cy="1508.3" r="5.5"/><circle cx="305.9" cy="1506.3" r="5.5"/><circle cx="317.9" cy="1501.9" r="5.5"/><circle cx="329.1" cy="1503.7" r="5.5"/><circle cx="333.4" cy="1503.8" r="5.5"/><circle cx="350.1" cy="1503.2" r="5.5"/><circle cx="360.7" cy="1510.5" r="5.5"/><circle cx="368.9" cy="1504.9" r="5.5"/><circle cx="379.2" cy="1507.7" r="5.5"/><circle cx="208.1" cy="1514.2" r="5.5"/><circle cx="224.2" cy="1514.7" r="5.5"/><circle cx="233" cy="1511.9" r="5.5"/><circle cx="238.8" cy="1514.3" r="5.5"/><circle cx="255" cy="1518.3" r="5.5"/><circle cx="265.6" cy="1514.5" r="5.5"/><circle cx="274.6" cy="1516.2" r="5.5"/><circle cx="284.6" cy="1512.9" r="5.5"/><circle cx="299.1" cy="1513.7" r="5.5"/><circle cx="310.4" cy="1520.6" r="5.5"/><circle cx="311.8" cy="1516.1" r="5.5"/><circle cx="329.9" cy="1520.9" r="5.5"/><circle cx="336.9" cy="1514.3" r="5.5"/><circle cx="345.2" cy="1520.7" r="5.5"/><circle cx="355.7" cy="1517.3" r="5.5"/><circle cx="365.5" cy="1516.7" r="5.5"/><circle cx="204.6" cy="1528.9" r="5.5"/><circle cx="208.9" cy="1530.8" r="5.5"/><circle cx="221.8" cy="1522.5" r="5.5"/><circle cx="227.7" cy="1526.9" r="5.5"/><circle cx="242.4" cy="1525.1" r="5.5"/><circle cx="250" cy="1525.5" r="5.5"/><circle cx="262.2" cy="1530.2" r="5.5"/><circle cx="269.7" cy="1529.4" r="5.5"/><circle cx="288.1" cy="1523.4" r="5.5"/><circle cx="299.4" cy="1529" r="5.5"/><circle cx="309.7" cy="1525" r="5.5"/><circle cx="315.2" cy="1526" r="5.5"/><circle cx="331.6" cy="1527.8" r="5.5"/><circle cx="336.1" cy="1526.3" r="5.5"/><circle cx="345.8" cy="1522.7" r="5.5"/><circle cx="354.6" cy="1530.2" r="5.5"/><circle cx="215" cy="1540.4" r="5.5"/><circle cx="223.1" cy="1541.4" r="5.5"/><circle cx="236.6" cy="1538" r="5.5"/><circle cx="245" cy="1533.2" r="5.5"/><circle cx="255.6" cy="1537" r="5.5"/><circle cx="266.3" cy="1538.9" r="5.5"/><circle cx="272.4" cy="1533.2" r="5.5"/><circle cx="288.9" cy="1534" r="5.5"/><circle cx="295.1" cy="1536" r="5.5"/><circle cx="304" cy="1539.8" r="5.5"/><circle cx="320.9" cy="1535.2" r="5.5"/><circle cx="328.4" cy="1535.6" r="5.5"/><circle cx="337.9" cy="1536.5" r="5.5"/><circle cx="344.8" cy="1534.3" r="5.5"/><circle cx="209.9" cy="1544.1" r="5.5"/><circle cx="219.4" cy="1545.7" r="5.5"/><circle cx="233.1" cy="1551.7" r="5.5"/><circle cx="245.3" cy="1547.2" r="5.5"/><circle cx="252.6" cy="1548.2" r="5.5"/><circle cx="262.7" cy="1546.5" r="5.5"/><circle cx="270.3" cy="1545.9" r="5.5"/><circle cx="289.3" cy="1544.5" r="5.5"/><circle cx="295.4" cy="1549.2" r="5.5"/><circle cx="309.3" cy="1545.3" r="5.5"/><circle cx="314.2" cy="1545.6" r="5.5"/><circle cx="326" cy="1547.5" r="5.5"/><circle cx="341.7" cy="1551.3" r="5.5"/><circle cx="351.4" cy="1543.5" r="5.5"/><circle cx="204" cy="1561.9" r="5.5"/><circle cx="215.9" cy="1556.1" r="5.5"/><circle cx="218.2" cy="1555.2" r="5.5"/><circle cx="232.6" cy="1560.2" r="5.5"/><circle cx="247.1" cy="1560.6" r="5.5"/><circle cx="254.8" cy="1561" r="5.5"/><circle cx="263.5" cy="1559" r="5.5"/><circle cx="270.1" cy="1561.2" r="5.5"/><circle cx="282.4" cy="1562.5" r="5.5"/><circle cx="296.8" cy="1556.6" r="5.5"/><circle cx="302.4" cy="1556.2" r="5.5"/><circle cx="317.7" cy="1560.4" r="5.5"/><circle cx="323.2" cy="1554.4" r="5.5"/><circle cx="337.6" cy="1559.3" r="5.5"/><circle cx="346.9" cy="1555.9" r="5.5"/><circle cx="194" cy="1568.8" r="5.5"/><circle cx="198.4" cy="1566.6" r="5.5"/><circle cx="215.8" cy="1570.9" r="5.5"/><circle cx="220.1" cy="1564.5" r="5.5"/><circle cx="232.4" cy="1570.6" r="5.5"/><circle cx="242.2" cy="1566.7" r="5.5"/><circle cx="255" cy="1573" r="5.5"/><circle cx="261.3" cy="1564.6" r="5.5"/><circle cx="272.9" cy="1568.2" r="5.5"/><circle cx="286.6" cy="1566.1" r="5.5"/><circle cx="298.2" cy="1571.3" r="5.5"/><circle cx="306" cy="1566.2" r="5.5"/><circle cx="320.8" cy="1567.2" r="5.5"/><circle cx="329.9" cy="1566.5" r="5.5"/><circle cx="334.8" cy="1571.5" r="5.5"/><circle cx="198.2" cy="1584" r="5.5"/><circle cx="208" cy="1575.3" r="5.5"/><circle cx="217.8" cy="1578.5" r="5.5"/><circle cx="236.2" cy="1583.1" r="5.5"/><circle cx="245.1" cy="1584.2" r="5.5"/><circle cx="257.5" cy="1577.9" r="5.5"/><circle cx="260.9" cy="1583.6" r="5.5"/><circle cx="276.7" cy="1575.1" r="5.5"/><circle cx="286.5" cy="1578.4" r="5.5"/><circle cx="294.2" cy="1577.9" r="5.5"/><circle cx="302.8" cy="1574.8" r="5.5"/><circle cx="314.3" cy="1578.1" r="5.5"/><circle cx="331.2" cy="1575.9" r="5.5"/><circle cx="204.7" cy="1585.6" r="5.5"/><circle cx="210.6" cy="1592.9" r="5.5"/><circle cx="224.4" cy="1585.7" r="5.5"/><circle cx="228" cy="1585.9" r="5.5"/><circle cx="246.9" cy="1587.7" r="5.5"/><circle cx="255.7" cy="1593.8" r="5.5"/><circle cx="262.4" cy="1587.8" r="5.5"/><circle cx="278.7" cy="1591.1" r="5.5"/><circle cx="282.7" cy="1592" r="5.5"/><circle cx="293.7" cy="1587.9" r="5.5"/><circle cx="301.2" cy="1592.4" r="5.5"/><circle cx="220.2" cy="1599.2" r="5.5"/><circle cx="235.1" cy="1596.5" r="5.5"/><circle cx="240" cy="1602.9" r="5.5"/><circle cx="251" cy="1596.4" r="5.5"/><circle cx="259.5" cy="1601" r="5.5"/><circle cx="272.8" cy="1605" r="5.5"/><circle cx="288.5" cy="1605.1" r="5.5"/><circle cx="293.2" cy="1596.6" r="5.5"/><circle cx="302.1" cy="1600.5" r="5.5"/><circle cx="243" cy="1608.5" r="5.5"/><circle cx="256.3" cy="1612.4" r="5.5"/><circle cx="268.5" cy="1607.2" r="5.5"/><circle cx="274.2" cy="1614" r="5.5"/><circle cx="288.1" cy="1614.9" r="5.5"/><circle cx="291.1" cy="1609.1" r="5.5"/><circle cx="302.3" cy="1608.1" r="5.5"/><circle cx="308.4" cy="1439.8" r="5.5"/><circle cx="282.8" cy="1447.4" r="5.5"/><circle cx="294.2" cy="1443.8" r="5.5"/><circle cx="299" cy="1448.6" r="5.5"/><circle cx="306.2" cy="1447.7" r="5.5"/><circle cx="314.9" cy="1447.1" r="5.5"/><circle cx="328.7" cy="1449.2" r="5.5"/><circle cx="338.9" cy="1445.6" r="5.5"/><circle cx="271.2" cy="1453.9" r="5.5"/><circle cx="281.1" cy="1457.3" r="5.5"/><circle cx="294.3" cy="1451.9" r="5.5"/><circle cx="299.3" cy="1451.9" r="5.5"/><circle cx="310.4" cy="1458.4" r="5.5"/><circle cx="315.7" cy="1456.7" r="5.5"/><circle cx="325.5" cy="1450.6" r="5.5"/><circle cx="338.3" cy="1453.3" r="5.5"/><circle cx="342.4" cy="1454" r="5.5"/><circle cx="272" cy="1466" r="5.5"/><circle cx="282.2" cy="1465.2" r="5.5"/><circle cx="295" cy="1460" r="5.5"/><circle cx="296.2" cy="1460.6" r="5.5"/><circle cx="308.2" cy="1464.2" r="5.5"/><circle cx="320.1" cy="1462.4" r="5.5"/><circle cx="330.9" cy="1459.5" r="5.5"/><circle cx="338.8" cy="1461.2" r="5.5"/><circle cx="265" cy="1472.5" r="5.5"/><circle cx="272.9" cy="1469.8" r="5.5"/><circle cx="279.1" cy="1473.2" r="5.5"/><circle cx="290.7" cy="1469.5" r="5.5"/><circle cx="299.6" cy="1474.4" r="5.5"/><circle cx="310.9" cy="1472.3" r="5.5"/><circle cx="317.3" cy="1471.4" r="5.5"/><circle cx="324.9" cy="1470.1" r="5.5"/><circle cx="335.7" cy="1469.4" r="5.5"/><circle cx="346.9" cy="1474.2" r="5.5"/><circle cx="257.2" cy="1481.6" r="5.5"/><circle cx="265.8" cy="1479.1" r="5.5"/><circle cx="270.9" cy="1481.8" r="5.5"/><circle cx="284.1" cy="1482.7" r="5.5"/><circle cx="287.1" cy="1482.5" r="5.5"/><circle cx="303.4" cy="1483.5" r="5.5"/><circle cx="312.6" cy="1485.5" r="5.5"/><circle cx="315.9" cy="1479.9" r="5.5"/><circle cx="327.5" cy="1485.4" r="5.5"/><circle cx="335.1" cy="1485.1" r="5.5"/><circle cx="348" cy="1481.7" r="5.5"/><circle cx="254.1" cy="1494.3" r="5.5"/><circle cx="266.9" cy="1489" r="5.5"/><circle cx="271.4" cy="1491.5" r="5.5"/><circle cx="284.9" cy="1492" r="5.5"/><circle cx="294.6" cy="1492.4" r="5.5"/><circle cx="302.7" cy="1491.4" r="5.5"/><circle cx="308" cy="1490" r="5.5"/><circle cx="318" cy="1490.8" r="5.5"/><circle cx="329.9" cy="1488.7" r="5.5"/><circle cx="332.6" cy="1492.4" r="5.5"/><circle cx="343.3" cy="1489.9" r="5.5"/><circle cx="248.6" cy="1499.6" r="5.5"/><circle cx="253.3" cy="1502.7" r="5.5"/><circle cx="263.4" cy="1498.4" r="5.5"/><circle cx="276.9" cy="1501.9" r="5.5"/><circle cx="284.1" cy="1497.5" r="5.5"/><circle cx="293.6" cy="1500.3" r="5.5"/><circle cx="302.8" cy="1498.5" r="5.5"/><circle cx="311.4" cy="1501.9" r="5.5"/><circle cx="317.2" cy="1500.8" r="5.5"/><circle cx="329.4" cy="1503.5" r="5.5"/><circle cx="339.5" cy="1501.9" r="5.5"/><circle cx="342.2" cy="1500.4" r="5.5"/><circle cx="249.4" cy="1512" r="5.5"/><circle cx="251.8" cy="1509.4" r="5.5"/><circle cx="267.1" cy="1509.8" r="5.5"/><circle cx="271.7" cy="1504.8" r="5.5"/><circle cx="285.5" cy="1511.5" r="5.5"/><circle cx="292.4" cy="1507.5" r="5.5"/><circle cx="302.8" cy="1511.1" r="5.5"/><circle cx="310.9" cy="1509.4" r="5.5"/><circle cx="316.6" cy="1506.9" r="5.5"/><circle cx="326" cy="1507.2" r="5.5"/><circle cx="336.3" cy="1505.4" r="5.5"/><circle cx="248.4" cy="1514.3" r="5.5"/><circle cx="252.9" cy="1515.9" r="5.5"/><circle cx="261.5" cy="1519.6" r="5.5"/><circle cx="269.9" cy="1513.9" r="5.5"/><circle cx="282.6" cy="1519.5" r="5.5"/><circle cx="293.7" cy="1518" r="5.5"/><circle cx="298.7" cy="1520.6" r="5.5"/><circle cx="311" cy="1517.4" r="5.5"/><circle cx="318.6" cy="1521.1" r="5.5"/><circle cx="331.1" cy="1521" r="5.5"/><circle cx="333.1" cy="1516.2" r="5.5"/><circle cx="240.3" cy="1527.2" r="5.5"/><circle cx="247" cy="1525.9" r="5.5"/><circle cx="258.6" cy="1527.2" r="5.5"/><circle cx="267.3" cy="1530" r="5.5"/><circle cx="274.7" cy="1530.5" r="5.5"/><circle cx="282" cy="1525.5" r="5.5"/><circle cx="293.9" cy="1526.8" r="5.5"/><circle cx="298.6" cy="1528" r="5.5"/><circle cx="308.9" cy="1523.5" r="5.5"/><circle cx="320.8" cy="1526.6" r="5.5"/><circle cx="238.3" cy="1532.5" r="5.5"/><circle cx="245.3" cy="1531.8" r="5.5"/><circle cx="254.1" cy="1539.2" r="5.5"/><circle cx="262.9" cy="1537.2" r="5.5"/><circle cx="274.1" cy="1532.7" r="5.5"/><circle cx="283.6" cy="1532.2" r="5.5"/><circle cx="288.6" cy="1536.2" r="5.5"/><circle cx="297.1" cy="1539.3" r="5.5"/><circle cx="308.5" cy="1536.6" r="5.5"/><circle cx="321.9" cy="1532.4" r="5.5"/><circle cx="231.7" cy="1545.8" r="5.5"/><circle cx="236.9" cy="1541.9" r="5.5"/><circle cx="244" cy="1543.5" r="5.5"/><circle cx="253.9" cy="1543.5" r="5.5"/><circle cx="266.6" cy="1543.5" r="5.5"/><circle cx="274.2" cy="1540.8" r="5.5"/><circle cx="279.2" cy="1546.3" r="5.5"/><circle cx="294.3" cy="1543" r="5.5"/><circle cx="296.3" cy="1542.4" r="5.5"/><circle cx="308" cy="1543.5" r="5.5"/><circle cx="318.6" cy="1543" r="5.5"/><circle cx="230.9" cy="1551.9" r="5.5"/><circle cx="240" cy="1553.1" r="5.5"/><circle cx="247.2" cy="1553.5" r="5.5"/><circle cx="256.4" cy="1552.3" r="5.5"/><circle cx="264.7" cy="1555.5" r="5.5"/><circle cx="272" cy="1554.4" r="5.5"/><circle cx="281.8" cy="1553.3" r="5.5"/><circle cx="290.2" cy="1553.9" r="5.5"/><circle cx="301.8" cy="1550.9" r="5.5"/><circle cx="306.2" cy="1556.2" r="5.5"/><circle cx="314.8" cy="1555.9" r="5.5"/><circle cx="238.9" cy="1560.2" r="5.5"/><circle cx="244.6" cy="1566.4" r="5.5"/><circle cx="257" cy="1564.5" r="5.5"/><circle cx="264.7" cy="1563.7" r="5.5"/><circle cx="269.2" cy="1565.1" r="5.5"/><circle cx="280.7" cy="1565.4" r="5.5"/><circle cx="290.4" cy="1565.9" r="5.5"/><circle cx="296.1" cy="1566.4" r="5.5"/><circle cx="305.8" cy="1562.6" r="5.5"/><circle cx="238.4" cy="1570.3" r="5.5"/><circle cx="246.9" cy="1572.8" r="5.5"/><circle cx="253.1" cy="1573.1" r="5.5"/><circle cx="261.7" cy="1567.7" r="5.5"/><circle cx="269.6" cy="1571.5" r="5.5"/><circle cx="283.7" cy="1569.3" r="5.5"/><circle cx="290.3" cy="1573.1" r="5.5"/><circle cx="298.2" cy="1571.7" r="5.5"/><circle cx="309.9" cy="1570.8" r="5.5"/><circle cx="242.7" cy="1579.3" r="5.5"/><circle cx="255.2" cy="1583.7" r="5.5"/><circle cx="265.6" cy="1583.9" r="5.5"/><circle cx="276.1" cy="1584.4" r="5.5"/><circle cx="283.1" cy="1581.5" r="5.5"/><circle cx="290.9" cy="1578.3" r="5.5"/><circle cx="261" cy="1588.6" r="5.5"/><circle cx="276" cy="1590.9" r="5.5"/><circle cx="281.7" cy="1590.4" r="5.5"/><circle cx="291" cy="1589.9" r="5.5"/>
</g>
<path d="M144.4,1569 L159.5,1561.3 L174.6,1553.7 L189.7,1546.1 L204.8,1538.4 L219.8,1530.7 L234.9,1523 L250,1515.3 L265.1,1507.6 L280.2,1499.8 L295.3,1491.9 L310.4,1483.9 L325.4,1475.8 L340.5,1467.6 L355.6,1459.1 L370.7,1450.5 L385.8,1441.7 L400.9,1432.9 L416,1423.9 L431.1,1414.9 L446.1,1405.9 L461.2,1396.8 L476.3,1387.7 L491.4,1378.6 L506.5,1369.5 L521.6,1360.3 L536.7,1351.2 L551.8,1342 L566.9,1332.9 L581.9,1323.7 L597,1314.6 L612.1,1305.4 L627.2,1296.2 L642.3,1287.1 L657.4,1277.9 L672.5,1268.7 L687.5,1259.5 L702.6,1250.3 L717.7,1241.2 L732.8,1232 L747.9,1222.8 L747.9,1266.6 L732.8,1274.2 L717.7,1281.8 L702.6,1289.4 L687.5,1297 L672.5,1304.6 L657.4,1312.2 L642.3,1319.8 L627.2,1327.4 L612.1,1335 L597,1342.6 L581.9,1350.2 L566.9,1357.8 L551.8,1365.4 L536.7,1373.1 L521.6,1380.7 L506.5,1388.3 L491.4,1396 L476.3,1403.6 L461.2,1411.3 L446.1,1419 L431.1,1426.7 L416,1434.5 L400.9,1442.3 L385.8,1450.3 L370.7,1458.3 L355.6,1466.4 L340.5,1474.8 L325.4,1483.3 L310.4,1492 L295.3,1500.8 L280.2,1509.7 L265.1,1518.6 L250,1527.6 L234.9,1536.7 L219.8,1545.8 L204.8,1554.9 L189.7,1564 L174.6,1573.1 L159.5,1582.3 L144.4,1591.4Z" fill="#999999" fill-opacity="0.4"/>
<line x1="144.4" y1="1580.2" x2="747.9" y2="1244.7" stroke="#3366ff" stroke-width="4.2"/>
<rect x="114.7" y="1046.2" width="663.2" height="669.3" fill="none" stroke="#333333" stroke-width="1.6"/>
<line x1="125" y1="1715.5" x2="125" y2="1722.8" stroke="#333333" stroke-width="2.4"/>
<text x="125" y="1743.8" font-size="22.8" fill="#4d4d4d" text-anchor="middle">0</text>
<line x1="286.4" y1="1715.5" x2="286.4" y2="1722.8" stroke="#333333" stroke-width="2.4"/>
<text x="286.4" y="1743.8" font-size="22.8" fill="#4d4d4d" text-anchor="middle">1</text>
<line x1="447.7" y1="1715.5" x2="447.7" y2="1722.8" stroke="#333333" stroke-width="2.4"/>
<text x="447.7" y="1743.8" font-size="22.8" fill="#4d4d4d" text-anchor="middle">2</text>
<line x1="609" y1="1715.5" x2="609" y2="1722.8" stroke="#333333" stroke-width="2.4"/>
<text x="609" y="1743.8" font-size="22.8" fill="#4d4d4d" text-anchor="middle">3</text>
<line x1="770.4" y1="1715.5" x2="770.4" y2="1722.8" stroke="#333333" stroke-width="2.4"/>
<text x="770.4" y="1743.8" font-size="22.8" fill="#4d4d4d" text-anchor="middle">4</text>
<line x1="107.4" y1="1692.7" x2="114.7" y2="1692.7" stroke="#333333" stroke-width="2.4"/>
<text x="102.2" y="1701.1" font-size="22.8" fill="#4d4d4d" text-anchor="end">−4000</text>
<line x1="107.4" y1="1525.4" x2="114.7" y2="1525.4" stroke="#333333" stroke-width="2.4"/>
<text x="102.2" y="1533.8" font-size="22.8" fill="#4d4d4d" text-anchor="end">−2000</text>
<line x1="107.4" y1="1358.1" x2="114.7" y2="1358.1" stroke="#333333" stroke-width="2.4"/>
<text x="102.2" y="1366.5" font-size="22.8" fill="#4d4d4d" text-anchor="end">0</text>
<line x1="107.4" y1="1190.8" x2="114.7" y2="1190.8" stroke="#333333" stroke-width="2.4"/>
<text x="102.2" y="1199.2" font-size="22.8" fill="#4d4d4d" text-anchor="end">2000</text>
<text x="446.3" y="1774" font-size="27" text-anchor="middle">RIS</text>
<text transform="translate(28,1380.8) rotate(-90)" x="0" y="0" font-size="27" text-anchor="middle">ESTIMATEScore</text>
<clipPath id="clipD"><rect x="1175.7" y="1046.2" width="689" height="669.3"/></clipPath>
<line x1="1269.5" y1="1046.2" x2="1269.5" y2="1715.5" stroke="#ebebeb" stroke-width="1.1"/>
<line x1="1437.2" y1="1046.2" x2="1437.2" y2="1715.5" stroke="#ebebeb" stroke-width="1.1"/>
<line x1="1605" y1="1046.2" x2="1605" y2="1715.5" stroke="#ebebeb" stroke-width="1.1"/>
<line x1="1772.7" y1="1046.2" x2="1772.7" y2="1715.5" stroke="#ebebeb" stroke-width="1.1"/>
<line x1="1175.7" y1="1633.7" x2="1864.7" y2="1633.7" stroke="#ebebeb" stroke-width="1.1"/>
<line x1="1175.7" y1="1410.7" x2="1864.7" y2="1410.7" stroke="#ebebeb" stroke-width="1.1"/>
<line x1="1175.7" y1="1187.7" x2="1864.7" y2="1187.7" stroke="#ebebeb" stroke-width="1.1"/>
<line x1="1185.7" y1="1046.2" x2="1185.7" y2="1715.5" stroke="#ebebeb" stroke-width="2"/>
<line x1="1353.4" y1="1046.2" x2="1353.4" y2="1715.5" stroke="#ebebeb" stroke-width="2"/>
<line x1="1521.1" y1="1046.2" x2="1521.1" y2="1715.5" stroke="#ebebeb" stroke-width="2"/>
<line x1="1688.8" y1="1046.2" x2="1688.8" y2="1715.5" stroke="#ebebeb" stroke-width="2"/>
<line x1="1856.5" y1="1046.2" x2="1856.5" y2="1715.5" stroke="#ebebeb" stroke-width="2"/>
<line x1="1175.7" y1="1522.2" x2="1864.7" y2="1522.2" stroke="#ebebeb" stroke-width="2"/>
<line x1="1175.7" y1="1299.2" x2="1864.7" y2="1299.2" stroke="#ebebeb" stroke-width="2"/>
<line x1="1175.7" y1="1076.2" x2="1864.7" y2="1076.2" stroke="#ebebeb" stroke-width="2"/>
<g clip-path="url(#clipD)" fill="#000">
<circle cx="1516.6" cy="1482.8" r="5.5"/><circle cx="1381" cy="1447.8" r="5.5"/><circle cx="1355.6" cy="1435.3" r="5.5"/><circle cx="1436.9" cy="1396.8" r="5.5"/><circle cx="1444.1" cy="1382.7" r="5.5"/><circle cx="1406.5" cy="1387.3" r="5.5"/><circle cx="1411.4" cy="1385.3" r="5.5"/><circle cx="1410.4" cy="1369.7" r="5.5"/><circle cx="1398.7" cy="1366.7" r="5.5"/><circle cx="1382" cy="1359.7" r="5.5"/><circle cx="1383.4" cy="1351.9" r="5.5"/><circle cx="1422.6" cy="1351.2" r="5.5"/><circle cx="1437.5" cy="1361.7" r="5.5"/><circle cx="1461.8" cy="1351.2" r="5.5"/><circle cx="1488.8" cy="1350" r="5.5"/><circle cx="1502.1" cy="1360.2" r="5.5"/><circle cx="1502.9" cy="1390.4" r="5.5"/><circle cx="1507.4" cy="1384.8" r="5.5"/><circle cx="1513.3" cy="1390.4" r="5.5"/><circle cx="1520.2" cy="1383.5" r="5.5"/><circle cx="1359.5" cy="1344" r="5.5"/><circle cx="1355.6" cy="1333.3" r="5.5"/><circle cx="1406.1" cy="1331.4" r="5.5"/><circle cx="1411.4" cy="1325.1" r="5.5"/><circle cx="1469.2" cy="1335.2" r="5.5"/><circle cx="1477.1" cy="1332.1" r="5.5"/><circle cx="1491.7" cy="1335.2" r="5.5"/><circle cx="1506.8" cy="1336.1" r="5.5"/><circle cx="1308" cy="1317.7" r="5.5"/><circle cx="1377.1" cy="1311.3" r="5.5"/><circle cx="1390.4" cy="1314.7" r="5.5"/><circle cx="1387.9" cy="1304.6" r="5.5"/><circle cx="1362" cy="1306.8" r="5.5"/><circle cx="1405.5" cy="1301.2" r="5.5"/><circle cx="1490.8" cy="1314.7" r="5.5"/><circle cx="1499.6" cy="1315.2" r="5.5"/><circle cx="1439.8" cy="1295.7" r="5.5"/><circle cx="1469.2" cy="1296.8" r="5.5"/><circle cx="1518.2" cy="1301.2" r="5.5"/><circle cx="1419.3" cy="1289.1" r="5.5"/><circle cx="1423.2" cy="1280.6" r="5.5"/><circle cx="1445.7" cy="1282.7" r="5.5"/><circle cx="1451.6" cy="1284.2" r="5.5"/><circle cx="1468.2" cy="1279.5" r="5.5"/><circle cx="1481" cy="1280.6" r="5.5"/><circle cx="1488.8" cy="1290.2" r="5.5"/><circle cx="1496.6" cy="1282.7" r="5.5"/><circle cx="1515.3" cy="1284.8" r="5.5"/><circle cx="1365.8" cy="1282.7" r="5.5"/><circle cx="1396.3" cy="1281.2" r="5.5"/><circle cx="1310.9" cy="1270" r="5.5"/><circle cx="1338.3" cy="1272.7" r="5.5"/><circle cx="1382" cy="1266.9" r="5.5"/><circle cx="1380.1" cy="1260.8" r="5.5"/><circle cx="1445.3" cy="1269" r="5.5"/><circle cx="1442.2" cy="1259.8" r="5.5"/><circle cx="1461.4" cy="1271.1" r="5.5"/><circle cx="1459.4" cy="1263.8" r="5.5"/><circle cx="1490.8" cy="1263.8" r="5.5"/><circle cx="1520.2" cy="1257.7" r="5.5"/><circle cx="1294.8" cy="1250.8" r="5.5"/><circle cx="1304.6" cy="1252.7" r="5.5"/><circle cx="1310.5" cy="1250.8" r="5.5"/><circle cx="1329.1" cy="1250.8" r="5.5"/><circle cx="1370.9" cy="1254.7" r="5.5"/><circle cx="1394.8" cy="1250.8" r="5.5"/><circle cx="1402.6" cy="1250.8" r="5.5"/><circle cx="1413.4" cy="1253.7" r="5.5"/><circle cx="1422.2" cy="1252.7" r="5.5"/><circle cx="1430" cy="1250.8" r="5.5"/><circle cx="1451.6" cy="1252.7" r="5.5"/><circle cx="1509.4" cy="1252.7" r="5.5"/><circle cx="1687.7" cy="1685.2" r="5.5"/><circle cx="1598.1" cy="1618.7" r="5.5"/><circle cx="1657.3" cy="1561.5" r="5.5"/><circle cx="1605" cy="1549.1" r="5.5"/><circle cx="1685.9" cy="1543.7" r="5.5"/><circle cx="1555.4" cy="1501.2" r="5.5"/><circle cx="1611.6" cy="1499.8" r="5.5"/><circle cx="1657.3" cy="1493.7" r="5.5"/><circle cx="1576" cy="1469" r="5.5"/><circle cx="1625.9" cy="1448.4" r="5.5"/><circle cx="1566.2" cy="1432" r="5.5"/><circle cx="1833.2" cy="1455.6" r="5.5"/><circle cx="1530.9" cy="1409.9" r="5.5"/><circle cx="1584.8" cy="1404.1" r="5.5"/><circle cx="1659.3" cy="1399.4" r="5.5"/><circle cx="1676.1" cy="1389.9" r="5.5"/><circle cx="1545.6" cy="1388.1" r="5.5"/><circle cx="1570.7" cy="1384.8" r="5.5"/><circle cx="1636.1" cy="1386.6" r="5.5"/><circle cx="1649.5" cy="1367.2" r="5.5"/><circle cx="1573" cy="1356.1" r="5.5"/><circle cx="1578.9" cy="1354.1" r="5.5"/><circle cx="1544.2" cy="1348.1" r="5.5"/><circle cx="1586.8" cy="1341.1" r="5.5"/><circle cx="1609.5" cy="1344" r="5.5"/><circle cx="1756.2" cy="1347.6" r="5.5"/><circle cx="1716.1" cy="1336.8" r="5.5"/><circle cx="1608.3" cy="1327.4" r="5.5"/><circle cx="1613.2" cy="1321.6" r="5.5"/><circle cx="1535.8" cy="1319.3" r="5.5"/><circle cx="1540.7" cy="1323.9" r="5.5"/><circle cx="1540.7" cy="1318.2" r="5.5"/><circle cx="1641.2" cy="1314.7" r="5.5"/><circle cx="1709.8" cy="1315.9" r="5.5"/><circle cx="1717.6" cy="1309.1" r="5.5"/><circle cx="1528" cy="1305.2" r="5.5"/><circle cx="1542.7" cy="1297.2" r="5.5"/><circle cx="1560.3" cy="1298.3" r="5.5"/><circle cx="1596.6" cy="1301.2" r="5.5"/><circle cx="1594.6" cy="1294.6" r="5.5"/><circle cx="1611.2" cy="1301.2" r="5.5"/><circle cx="1615.8" cy="1291.3" r="5.5"/><circle cx="1642.6" cy="1299.4" r="5.5"/><circle cx="1696.5" cy="1304.6" r="5.5"/><circle cx="1645.5" cy="1284.8" r="5.5"/><circle cx="1673.9" cy="1284.2" r="5.5"/><circle cx="1725.9" cy="1288.7" r="5.5"/><circle cx="1742.1" cy="1290.9" r="5.5"/><circle cx="1611.2" cy="1278" r="5.5"/><circle cx="1633.4" cy="1274.2" r="5.5"/><circle cx="1609.9" cy="1263.8" r="5.5"/><circle cx="1622.6" cy="1265.5" r="5.5"/><circle cx="1569.1" cy="1254.7" r="5.5"/><circle cx="1589.1" cy="1255.7" r="5.5"/><circle cx="1693.5" cy="1254.7" r="5.5"/><circle cx="1702.7" cy="1256.3" r="5.5"/><circle cx="1237" cy="1196.6" r="5.5"/><circle cx="1274.6" cy="1195.7" r="5.5"/><circle cx="1270.9" cy="1186" r="5.5"/><circle cx="1282.1" cy="1186.8" r="5.5"/><circle cx="1300.1" cy="1222.8" r="5.5"/><circle cx="1306.6" cy="1210.3" r="5.5"/><circle cx="1314.4" cy="1208.5" r="5.5"/><circle cx="1461.4" cy="1244.5" r="5.5"/><circle cx="1487.8" cy="1228.3" r="5.5"/><circle cx="1493.7" cy="1215.6" r="5.5"/><circle cx="1508.4" cy="1215.6" r="5.5"/><circle cx="1520.2" cy="1212.9" r="5.5"/><circle cx="1447.7" cy="1234.9" r="5.5"/><circle cx="1403.6" cy="1224.6" r="5.5"/><circle cx="1262.5" cy="1169.1" r="5.5"/><circle cx="1271.3" cy="1169.8" r="5.5"/><circle cx="1288" cy="1172.1" r="5.5"/><circle cx="1298.7" cy="1165.4" r="5.5"/><circle cx="1290.9" cy="1159" r="5.5"/><circle cx="1252.7" cy="1152.2" r="5.5"/><circle cx="1252.7" cy="1140.6" r="5.5"/><circle cx="1257.6" cy="1132.8" r="5.5"/><circle cx="1271.3" cy="1148.2" r="5.5"/><circle cx="1277.2" cy="1135.8" r="5.5"/><circle cx="1478" cy="1175.1" r="5.5"/><circle cx="1483.9" cy="1175.1" r="5.5"/><circle cx="1503.5" cy="1186.8" r="5.5"/><circle cx="1512.3" cy="1186.8" r="5.5"/><circle cx="1513.3" cy="1170.6" r="5.5"/><circle cx="1475.1" cy="1162.6" r="5.5"/><circle cx="1458.4" cy="1164" r="5.5"/><circle cx="1500.6" cy="1153.6" r="5.5"/><circle cx="1499.6" cy="1147.6" r="5.5"/><circle cx="1469.2" cy="1145" r="5.5"/><circle cx="1522.1" cy="1146.9" r="5.5"/><circle cx="1450.6" cy="1138.8" r="5.5"/><circle cx="1471.2" cy="1134" r="5.5"/><circle cx="1488.8" cy="1134" r="5.5"/><circle cx="1505.5" cy="1131.7" r="5.5"/><circle cx="1475.1" cy="1127.7" r="5.5"/><circle cx="1481" cy="1125" r="5.5"/><circle cx="1473.1" cy="1118.2" r="5.5"/><circle cx="1445.7" cy="1118.2" r="5.5"/><circle cx="1435.9" cy="1125" r="5.5"/><circle cx="1271.3" cy="1126.1" r="5.5"/><circle cx="1282.1" cy="1124.5" r="5.5"/><circle cx="1254.7" cy="1119.7" r="5.5"/><circle cx="1251.7" cy="1112.4" r="5.5"/><circle cx="1228.2" cy="1105.3" r="5.5"/><circle cx="1250.7" cy="1105.3" r="5.5"/><circle cx="1249.8" cy="1101.3" r="5.5"/><circle cx="1229.2" cy="1097.2" r="5.5"/><circle cx="1243.9" cy="1096.5" r="5.5"/><circle cx="1224.3" cy="1093.1" r="5.5"/><circle cx="1225.3" cy="1088.1" r="5.5"/><circle cx="1254.7" cy="1094.4" r="5.5"/><circle cx="1250.7" cy="1091" r="5.5"/><circle cx="1269.4" cy="1090.4" r="5.5"/><circle cx="1267.4" cy="1094.8" r="5.5"/><circle cx="1279.2" cy="1089" r="5.5"/><circle cx="1292.9" cy="1087.3" r="5.5"/><circle cx="1289" cy="1089.8" r="5.5"/><circle cx="1261.5" cy="1086.6" r="5.5"/><circle cx="1263.5" cy="1084.7" r="5.5"/><circle cx="1267.4" cy="1083.8" r="5.5"/><circle cx="1255.6" cy="1080.7" r="5.5"/><circle cx="1261.5" cy="1081.2" r="5.5"/><circle cx="1282.1" cy="1081.4" r="5.5"/><circle cx="1284.1" cy="1080.6" r="5.5"/><circle cx="1294.8" cy="1081.8" r="5.5"/><circle cx="1302.7" cy="1083.8" r="5.5"/><circle cx="1312.5" cy="1085.6" r="5.5"/><circle cx="1314.4" cy="1081.4" r="5.5"/><circle cx="1324.2" cy="1085.1" r="5.5"/><circle cx="1320.3" cy="1078.7" r="5.5"/><circle cx="1324.2" cy="1077.2" r="5.5"/><circle cx="1349.7" cy="1076.7" r="5.5"/><circle cx="1205.7" cy="1080.5" r="5.5"/><circle cx="1354.6" cy="1084.4" r="5.5"/><circle cx="1365.4" cy="1084.2" r="5.5"/><circle cx="1355.6" cy="1081.6" r="5.5"/><circle cx="1394.8" cy="1087.9" r="5.5"/><circle cx="1381" cy="1089.2" r="5.5"/><circle cx="1439.8" cy="1087.6" r="5.5"/><circle cx="1390.8" cy="1092.8" r="5.5"/><circle cx="1406.5" cy="1094.8" r="5.5"/><circle cx="1410.4" cy="1095.8" r="5.5"/><circle cx="1429" cy="1097.6" r="5.5"/><circle cx="1434.9" cy="1102.1" r="5.5"/><circle cx="1461.4" cy="1096.8" r="5.5"/><circle cx="1502.5" cy="1104.9" r="5.5"/><circle cx="1513.3" cy="1109.2" r="5.5"/><circle cx="1522.1" cy="1112.9" r="5.5"/><circle cx="1424.1" cy="1108.8" r="5.5"/><circle cx="1410.4" cy="1107.5" r="5.5"/><circle cx="1428.1" cy="1115.3" r="5.5"/><circle cx="1694.5" cy="1250.4" r="5.5"/><circle cx="1661.2" cy="1237.8" r="5.5"/><circle cx="1668.1" cy="1235.9" r="5.5"/><circle cx="1677.3" cy="1241.6" r="5.5"/><circle cx="1683.2" cy="1232.6" r="5.5"/><circle cx="1663.2" cy="1226.1" r="5.5"/><circle cx="1668.1" cy="1215.6" r="5.5"/><circle cx="1698.4" cy="1221.3" r="5.5"/><circle cx="1694.9" cy="1208.2" r="5.5"/><circle cx="1682.8" cy="1201.6" r="5.5"/><circle cx="1761.9" cy="1205.4" r="5.5"/><circle cx="1578.9" cy="1244.5" r="5.5"/><circle cx="1529.9" cy="1223.7" r="5.5"/><circle cx="1565.2" cy="1217" r="5.5"/><circle cx="1590.1" cy="1211.1" r="5.5"/><circle cx="1606.3" cy="1205.1" r="5.5"/><circle cx="1608.3" cy="1199.1" r="5.5"/><circle cx="1603.8" cy="1196.6" r="5.5"/><circle cx="1639.3" cy="1196.6" r="5.5"/><circle cx="1543.1" cy="1200.3" r="5.5"/><circle cx="1546.6" cy="1191.6" r="5.5"/><circle cx="1533.3" cy="1189.5" r="5.5"/><circle cx="1562.8" cy="1189.5" r="5.5"/><circle cx="1622.4" cy="1187.6" r="5.5"/><circle cx="1642" cy="1183.6" r="5.5"/><circle cx="1663.6" cy="1188.9" r="5.5"/><circle cx="1536.8" cy="1179.7" r="5.5"/><circle cx="1531.5" cy="1173.1" r="5.5"/><circle cx="1555.4" cy="1170.3" r="5.5"/><circle cx="1595.6" cy="1175.8" r="5.5"/><circle cx="1599.5" cy="1169.1" r="5.5"/><circle cx="1648.5" cy="1171.3" r="5.5"/><circle cx="1656.9" cy="1171.8" r="5.5"/><circle cx="1529.9" cy="1162.1" r="5.5"/><circle cx="1616.1" cy="1159.7" r="5.5"/><circle cx="1674.5" cy="1161.2" r="5.5"/><circle cx="1526.6" cy="1147.2" r="5.5"/><circle cx="1570.7" cy="1147.6" r="5.5"/><circle cx="1585.8" cy="1145.3" r="5.5"/><circle cx="1576.6" cy="1142.1" r="5.5"/><circle cx="1605" cy="1147.3" r="5.5"/><circle cx="1649.1" cy="1136.5" r="5.5"/><circle cx="1620.1" cy="1132.3" r="5.5"/><circle cx="1552.5" cy="1128.6" r="5.5"/><circle cx="1587.7" cy="1125.8" r="5.5"/><circle cx="1558.3" cy="1120.6" r="5.5"/><circle cx="1657.7" cy="1122" r="5.5"/><circle cx="1667.1" cy="1119.4" r="5.5"/><circle cx="1531.3" cy="1116.2" r="5.5"/><circle cx="1526.4" cy="1112.7" r="5.5"/><circle cx="1595.2" cy="1115.1" r="5.5"/><circle cx="1329.3" cy="1237.1" r="5.5"/><circle cx="1337.6" cy="1239.7" r="5.5"/><circle cx="1347.4" cy="1237.9" r="5.5"/><circle cx="1365.4" cy="1238.8" r="5.5"/><circle cx="1377.4" cy="1241.3" r="5.5"/><circle cx="1386.6" cy="1238.6" r="5.5"/><circle cx="1396.3" cy="1240" r="5.5"/><circle cx="1409.8" cy="1235.3" r="5.5"/><circle cx="1417.1" cy="1238" r="5.5"/><circle cx="1424" cy="1237.6" r="5.5"/><circle cx="1330.6" cy="1225.4" r="5.5"/><circle cx="1344.1" cy="1225.6" r="5.5"/><circle cx="1349.7" cy="1229.8" r="5.5"/><circle cx="1361.4" cy="1225.4" r="5.5"/><circle cx="1378.2" cy="1232.3" r="5.5"/><circle cx="1381.5" cy="1231.5" r="5.5"/><circle cx="1392.9" cy="1229.1" r="5.5"/><circle cx="1407.3" cy="1231.2" r="5.5"/><circle cx="1412.5" cy="1229.8" r="5.5"/><circle cx="1427" cy="1228.4" r="5.5"/><circle cx="1443.7" cy="1227.2" r="5.5"/><circle cx="1328.5" cy="1222.9" r="5.5"/><circle cx="1336.1" cy="1222" r="5.5"/><circle cx="1348" cy="1220" r="5.5"/><circle cx="1358.2" cy="1215.4" r="5.5"/><circle cx="1374.8" cy="1222" r="5.5"/><circle cx="1382.2" cy="1220.2" r="5.5"/><circle cx="1394.2" cy="1222.2" r="5.5"/><circle cx="1409.9" cy="1214.4" r="5.5"/><circle cx="1417" cy="1218.9" r="5.5"/><circle cx="1424.2" cy="1222.4" r="5.5"/><circle cx="1437.7" cy="1220.9" r="5.5"/><circle cx="1315.9" cy="1206.5" r="5.5"/><circle cx="1330.4" cy="1206.5" r="5.5"/><circle cx="1339.3" cy="1211.3" r="5.5"/><circle cx="1355" cy="1204.7" r="5.5"/><circle cx="1366.3" cy="1206.2" r="5.5"/><circle cx="1376.9" cy="1206.8" r="5.5"/><circle cx="1382" cy="1208.7" r="5.5"/><circle cx="1394.1" cy="1213.1" r="5.5"/><circle cx="1401.8" cy="1210.8" r="5.5"/><circle cx="1415" cy="1207.2" r="5.5"/><circle cx="1432.8" cy="1209.4" r="5.5"/><circle cx="1298.8" cy="1196.8" r="5.5"/><circle cx="1304.2" cy="1198" r="5.5"/><circle cx="1323.2" cy="1197" r="5.5"/><circle cx="1332.5" cy="1199.5" r="5.5"/><circle cx="1337.8" cy="1196.9" r="5.5"/><circle cx="1350.3" cy="1196.8" r="5.5"/><circle cx="1367.4" cy="1200.2" r="5.5"/><circle cx="1372.8" cy="1195.6" r="5.5"/><circle cx="1386.8" cy="1202.2" r="5.5"/><circle cx="1391.9" cy="1202.3" r="5.5"/><circle cx="1410.4" cy="1196.8" r="5.5"/><circle cx="1413.9" cy="1196.6" r="5.5"/><circle cx="1433" cy="1198" r="5.5"/><circle cx="1437.7" cy="1198.9" r="5.5"/><circle cx="1294.9" cy="1191.8" r="5.5"/><circle cx="1305.7" cy="1189.4" r="5.5"/><circle cx="1316.8" cy="1190.8" r="5.5"/><circle cx="1326.5" cy="1186.8" r="5.5"/><circle cx="1339.6" cy="1190.5" r="5.5"/><circle cx="1352.7" cy="1186.9" r="5.5"/><circle cx="1362" cy="1186.8" r="5.5"/><circle cx="1373.7" cy="1189.9" r="5.5"/><circle cx="1384.9" cy="1194.1" r="5.5"/><circle cx="1395" cy="1192.7" r="5.5"/><circle cx="1401.6" cy="1187.7" r="5.5"/><circle cx="1414.2" cy="1190.3" r="5.5"/><circle cx="1430.5" cy="1189.7" r="5.5"/><circle cx="1437.5" cy="1190" r="5.5"/><circle cx="1287" cy="1179.2" r="5.5"/><circle cx="1301.4" cy="1181.7" r="5.5"/><circle cx="1309.4" cy="1181.2" r="5.5"/><circle cx="1319.3" cy="1179.8" r="5.5"/><circle cx="1329.6" cy="1181" r="5.5"/><circle cx="1340.8" cy="1177.8" r="5.5"/><circle cx="1353.9" cy="1178.3" r="5.5"/><circle cx="1367.2" cy="1183.1" r="5.5"/><circle cx="1374.3" cy="1177.8" r="5.5"/><circle cx="1388" cy="1184.1" r="5.5"/><circle cx="1391.8" cy="1181.7" r="5.5"/><circle cx="1402.3" cy="1183.3" r="5.5"/><circle cx="1413.2" cy="1179.9" r="5.5"/><circle cx="1431.1" cy="1178.2" r="5.5"/><circle cx="1291.2" cy="1170.2" r="5.5"/><circle cx="1294" cy="1173.2" r="5.5"/><circle cx="1308.4" cy="1173.9" r="5.5"/><circle cx="1316.2" cy="1174.1" r="5.5"/><circle cx="1332.3" cy="1176.4" r="5.5"/><circle cx="1341.5" cy="1173.2" r="5.5"/><circle cx="1347.2" cy="1174" r="5.5"/><circle cx="1364" cy="1172.6" r="5.5"/><circle cx="1369.4" cy="1169.1" r="5.5"/><circle cx="1387.5" cy="1169.2" r="5.5"/><circle cx="1391.7" cy="1174.5" r="5.5"/><circle cx="1401.9" cy="1170.6" r="5.5"/><circle cx="1415.1" cy="1175.5" r="5.5"/><circle cx="1427.5" cy="1169.6" r="5.5"/><circle cx="1277.4" cy="1165.1" r="5.5"/><circle cx="1282.2" cy="1161.4" r="5.5"/><circle cx="1298.7" cy="1162.4" r="5.5"/><circle cx="1304.2" cy="1162" r="5.5"/><circle cx="1314.9" cy="1161.9" r="5.5"/><circle cx="1329.6" cy="1165.7" r="5.5"/><circle cx="1341.5" cy="1161.5" r="5.5"/><circle cx="1349.6" cy="1167.2" r="5.5"/><circle cx="1363.1" cy="1166.4" r="5.5"/><circle cx="1369.9" cy="1167" r="5.5"/><circle cx="1380.2" cy="1166.7" r="5.5"/><circle cx="1393.7" cy="1165.9" r="5.5"/><circle cx="1409" cy="1166.1" r="5.5"/><circle cx="1417.4" cy="1166.9" r="5.5"/><circle cx="1426.8" cy="1168" r="5.5"/><circle cx="1278.6" cy="1157.2" r="5.5"/><circle cx="1286.4" cy="1154.4" r="5.5"/><circle cx="1296.3" cy="1156.6" r="5.5"/><circle cx="1310.1" cy="1153.4" r="5.5"/><circle cx="1317.6" cy="1154.4" r="5.5"/><circle cx="1332.1" cy="1155.8" r="5.5"/><circle cx="1340.1" cy="1157.7" r="5.5"/><circle cx="1347.5" cy="1159.3" r="5.5"/><circle cx="1358.6" cy="1155" r="5.5"/><circle cx="1371.3" cy="1159" r="5.5"/><circle cx="1380.6" cy="1154.4" r="5.5"/><circle cx="1399.2" cy="1155.5" r="5.5"/><circle cx="1404.3" cy="1158.5" r="5.5"/><circle cx="1415.3" cy="1157" r="5.5"/><circle cx="1424.9" cy="1157.1" r="5.5"/><circle cx="1436.9" cy="1153.5" r="5.5"/><circle cx="1270.6" cy="1150" r="5.5"/><circle cx="1286.2" cy="1149.2" r="5.5"/><circle cx="1294.4" cy="1149.2" r="5.5"/><circle cx="1303.4" cy="1150.8" r="5.5"/><circle cx="1315.1" cy="1149.9" r="5.5"/><circle cx="1325.6" cy="1152.4" r="5.5"/><circle cx="1339.1" cy="1151" r="5.5"/><circle cx="1352.7" cy="1149" r="5.5"/><circle cx="1365.3" cy="1148.2" r="5.5"/><circle cx="1375.8" cy="1146.7" r="5.5"/><circle cx="1383.6" cy="1150.4" r="5.5"/><circle cx="1400.3" cy="1151.5" r="5.5"/><circle cx="1408.7" cy="1148.3" r="5.5"/><circle cx="1412.9" cy="1147" r="5.5"/><circle cx="1432.1" cy="1148.4" r="5.5"/><circle cx="1441.5" cy="1147.2" r="5.5"/><circle cx="1446.6" cy="1149.1" r="5.5"/><circle cx="1267.6" cy="1140" r="5.5"/><circle cx="1276.3" cy="1139.6" r="5.5"/><circle cx="1288.2" cy="1140.9" r="5.5"/><circle cx="1294.7" cy="1145" r="5.5"/><circle cx="1304.6" cy="1142.9" r="5.5"/><circle cx="1315.3" cy="1140" r="5.5"/><circle cx="1330.6" cy="1141.3" r="5.5"/><circle cx="1342.2" cy="1140.9" r="5.5"/><circle cx="1351.8" cy="1145.2" r="5.5"/><circle cx="1365.7" cy="1140.5" r="5.5"/><circle cx="1373.8" cy="1141.9" r="5.5"/><circle cx="1386.2" cy="1144.8" r="5.5"/><circle cx="1397.9" cy="1143.6" r="5.5"/><circle cx="1402.3" cy="1143.5" r="5.5"/><circle cx="1419.6" cy="1143.9" r="5.5"/><circle cx="1430.6" cy="1139.1" r="5.5"/><circle cx="1439.1" cy="1142.8" r="5.5"/><circle cx="1449.9" cy="1140.9" r="5.5"/><circle cx="1272" cy="1136.8" r="5.5"/><circle cx="1288.8" cy="1136.5" r="5.5"/><circle cx="1298" cy="1138.2" r="5.5"/><circle cx="1303.9" cy="1136.7" r="5.5"/><circle cx="1320.9" cy="1134.2" r="5.5"/><circle cx="1331.8" cy="1136.5" r="5.5"/><circle cx="1341.2" cy="1135.5" r="5.5"/><circle cx="1351.6" cy="1137.6" r="5.5"/><circle cx="1366.7" cy="1137.1" r="5.5"/><circle cx="1378.4" cy="1132.7" r="5.5"/><circle cx="1379.9" cy="1135.5" r="5.5"/><circle cx="1398.7" cy="1132.5" r="5.5"/><circle cx="1406" cy="1136.7" r="5.5"/><circle cx="1414.5" cy="1132.7" r="5.5"/><circle cx="1425.5" cy="1134.8" r="5.5"/><circle cx="1435.7" cy="1135.2" r="5.5"/><circle cx="1268.4" cy="1127.7" r="5.5"/><circle cx="1272.9" cy="1126.7" r="5.5"/><circle cx="1286.3" cy="1131.6" r="5.5"/><circle cx="1292.5" cy="1128.9" r="5.5"/><circle cx="1307.8" cy="1130" r="5.5"/><circle cx="1315.6" cy="1129.8" r="5.5"/><circle cx="1328.3" cy="1127" r="5.5"/><circle cx="1336.1" cy="1127.5" r="5.5"/><circle cx="1355.2" cy="1131" r="5.5"/><circle cx="1367" cy="1127.7" r="5.5"/><circle cx="1377.7" cy="1130.1" r="5.5"/><circle cx="1383.4" cy="1129.5" r="5.5"/><circle cx="1400.5" cy="1128.4" r="5.5"/><circle cx="1405.1" cy="1129.3" r="5.5"/><circle cx="1415.2" cy="1131.4" r="5.5"/><circle cx="1424.4" cy="1127" r="5.5"/><circle cx="1279.3" cy="1121.2" r="5.5"/><circle cx="1287.7" cy="1120.7" r="5.5"/><circle cx="1301.7" cy="1122.6" r="5.5"/><circle cx="1310.4" cy="1125.2" r="5.5"/><circle cx="1321.4" cy="1123.1" r="5.5"/><circle cx="1332.6" cy="1122.1" r="5.5"/><circle cx="1338.9" cy="1125.2" r="5.5"/><circle cx="1356.1" cy="1124.8" r="5.5"/><circle cx="1362.5" cy="1123.6" r="5.5"/><circle cx="1371.7" cy="1121.6" r="5.5"/><circle cx="1389.3" cy="1124.1" r="5.5"/><circle cx="1397.1" cy="1123.9" r="5.5"/><circle cx="1407" cy="1123.4" r="5.5"/><circle cx="1414.1" cy="1124.6" r="5.5"/><circle cx="1274" cy="1119.2" r="5.5"/><circle cx="1283.9" cy="1118.3" r="5.5"/><circle cx="1298" cy="1115.2" r="5.5"/><circle cx="1310.7" cy="1117.6" r="5.5"/><circle cx="1318.3" cy="1117" r="5.5"/><circle cx="1328.9" cy="1117.9" r="5.5"/><circle cx="1336.7" cy="1118.2" r="5.5"/><circle cx="1356.5" cy="1119" r="5.5"/><circle cx="1362.8" cy="1116.5" r="5.5"/><circle cx="1377.3" cy="1118.5" r="5.5"/><circle cx="1382.4" cy="1118.4" r="5.5"/><circle cx="1394.6" cy="1117.4" r="5.5"/><circle cx="1410.9" cy="1115.4" r="5.5"/><circle cx="1421" cy="1119.5" r="5.5"/><circle cx="1267.8" cy="1110.2" r="5.5"/><circle cx="1280.1" cy="1113" r="5.5"/><circle cx="1282.6" cy="1113.4" r="5.5"/><circle cx="1297.6" cy="1110.9" r="5.5"/><circle cx="1312.6" cy="1110.8" r="5.5"/><circle cx="1320.6" cy="1110.6" r="5.5"/><circle cx="1329.7" cy="1111.5" r="5.5"/><circle cx="1336.5" cy="1110.5" r="5.5"/><circle cx="1349.3" cy="1109.9" r="5.5"/><circle cx="1364.2" cy="1112.7" r="5.5"/><circle cx="1370.1" cy="1112.9" r="5.5"/><circle cx="1386" cy="1110.9" r="5.5"/><circle cx="1391.7" cy="1113.8" r="5.5"/><circle cx="1406.7" cy="1111.4" r="5.5"/><circle cx="1416.3" cy="1113.1" r="5.5"/><circle cx="1257.5" cy="1106.9" r="5.5"/><circle cx="1262" cy="1107.9" r="5.5"/><circle cx="1280" cy="1105.9" r="5.5"/><circle cx="1284.5" cy="1108.9" r="5.5"/><circle cx="1297.3" cy="1106.1" r="5.5"/><circle cx="1307.5" cy="1107.9" r="5.5"/><circle cx="1320.8" cy="1105" r="5.5"/><circle cx="1327.4" cy="1108.9" r="5.5"/><circle cx="1339.4" cy="1107.2" r="5.5"/><circle cx="1353.7" cy="1108.1" r="5.5"/><circle cx="1365.7" cy="1105.8" r="5.5"/><circle cx="1373.8" cy="1108.1" r="5.5"/><circle cx="1389.3" cy="1107.6" r="5.5"/><circle cx="1398.7" cy="1108" r="5.5"/><circle cx="1403.7" cy="1105.7" r="5.5"/><circle cx="1261.8" cy="1100.4" r="5.5"/><circle cx="1272" cy="1104" r="5.5"/><circle cx="1282.1" cy="1102.6" r="5.5"/><circle cx="1301.2" cy="1100.7" r="5.5"/><circle cx="1310.5" cy="1100.3" r="5.5"/><circle cx="1323.4" cy="1102.9" r="5.5"/><circle cx="1327" cy="1100.5" r="5.5"/><circle cx="1343.4" cy="1104.1" r="5.5"/><circle cx="1353.5" cy="1102.7" r="5.5"/><circle cx="1361.6" cy="1102.9" r="5.5"/><circle cx="1370.5" cy="1104.2" r="5.5"/><circle cx="1382.5" cy="1102.8" r="5.5"/><circle cx="1400" cy="1103.7" r="5.5"/><circle cx="1268.5" cy="1099.7" r="5.5"/><circle cx="1274.6" cy="1096.9" r="5.5"/><circle cx="1289" cy="1099.7" r="5.5"/><circle cx="1292.8" cy="1099.6" r="5.5"/><circle cx="1312.4" cy="1098.9" r="5.5"/><circle cx="1321.6" cy="1096.6" r="5.5"/><circle cx="1328.5" cy="1098.8" r="5.5"/><circle cx="1345.5" cy="1097.6" r="5.5"/><circle cx="1349.6" cy="1097.2" r="5.5"/><circle cx="1361" cy="1098.8" r="5.5"/><circle cx="1368.9" cy="1097.1" r="5.5"/><circle cx="1284.6" cy="1094.6" r="5.5"/><circle cx="1300.1" cy="1095.6" r="5.5"/><circle cx="1305.3" cy="1093.3" r="5.5"/><circle cx="1316.7" cy="1095.6" r="5.5"/><circle cx="1325.5" cy="1094" r="5.5"/><circle cx="1339.3" cy="1092.6" r="5.5"/><circle cx="1355.7" cy="1092.6" r="5.5"/><circle cx="1360.5" cy="1095.5" r="5.5"/><circle cx="1369.8" cy="1094.1" r="5.5"/><circle cx="1308.3" cy="1091.5" r="5.5"/><circle cx="1322.2" cy="1090.2" r="5.5"/><circle cx="1334.9" cy="1091.9" r="5.5"/><circle cx="1340.7" cy="1089.7" r="5.5"/><circle cx="1355.2" cy="1089.5" r="5.5"/><circle cx="1358.3" cy="1091.3" r="5.5"/><circle cx="1370" cy="1091.6" r="5.5"/><circle cx="1376.3" cy="1192.9" r="5.5"/><circle cx="1349.7" cy="1186.4" r="5.5"/><circle cx="1361.6" cy="1189.4" r="5.5"/><circle cx="1366.5" cy="1185.3" r="5.5"/><circle cx="1374" cy="1186.1" r="5.5"/><circle cx="1383" cy="1186.6" r="5.5"/><circle cx="1397.5" cy="1184.8" r="5.5"/><circle cx="1408" cy="1187.9" r="5.5"/><circle cx="1337.7" cy="1180.9" r="5.5"/><circle cx="1348" cy="1178.2" r="5.5"/><circle cx="1361.6" cy="1182.6" r="5.5"/><circle cx="1366.8" cy="1182.6" r="5.5"/><circle cx="1378.4" cy="1177.2" r="5.5"/><circle cx="1383.9" cy="1178.6" r="5.5"/><circle cx="1394.1" cy="1183.7" r="5.5"/><circle cx="1407.3" cy="1181.4" r="5.5"/><circle cx="1411.7" cy="1180.8" r="5.5"/><circle cx="1338.5" cy="1171.1" r="5.5"/><circle cx="1349" cy="1171.7" r="5.5"/><circle cx="1362.4" cy="1175.9" r="5.5"/><circle cx="1363.6" cy="1175.4" r="5.5"/><circle cx="1376.1" cy="1172.6" r="5.5"/><circle cx="1388.5" cy="1174" r="5.5"/><circle cx="1399.7" cy="1176.3" r="5.5"/><circle cx="1407.9" cy="1175" r="5.5"/><circle cx="1331.2" cy="1166" r="5.5"/><circle cx="1339.4" cy="1168.2" r="5.5"/><circle cx="1345.8" cy="1165.5" r="5.5"/><circle cx="1358" cy="1168.4" r="5.5"/><circle cx="1367.2" cy="1164.6" r="5.5"/><circle cx="1378.9" cy="1166.2" r="5.5"/><circle cx="1385.5" cy="1166.9" r="5.5"/><circle cx="1393.5" cy="1167.9" r="5.5"/><circle cx="1404.7" cy="1168.5" r="5.5"/><circle cx="1416.4" cy="1164.7" r="5.5"/><circle cx="1323.1" cy="1159.2" r="5.5"/><circle cx="1332" cy="1161" r="5.5"/><circle cx="1337.4" cy="1159.1" r="5.5"/><circle cx="1351" cy="1158.3" r="5.5"/><circle cx="1354.2" cy="1158.5" r="5.5"/><circle cx="1371.1" cy="1157.8" r="5.5"/><circle cx="1380.7" cy="1156.4" r="5.5"/><circle cx="1384.1" cy="1160.5" r="5.5"/><circle cx="1396.2" cy="1156.4" r="5.5"/><circle cx="1404" cy="1156.6" r="5.5"/><circle cx="1417.4" cy="1159.1" r="5.5"/><circle cx="1319.8" cy="1150.1" r="5.5"/><circle cx="1333.2" cy="1153.8" r="5.5"/><circle cx="1337.9" cy="1152" r="5.5"/><circle cx="1351.9" cy="1151.6" r="5.5"/><circle cx="1362" cy="1151.4" r="5.5"/><circle cx="1370.4" cy="1152.1" r="5.5"/><circle cx="1375.9" cy="1153.1" r="5.5"/><circle cx="1386.3" cy="1152.5" r="5.5"/><circle cx="1398.6" cy="1154" r="5.5"/><circle cx="1401.5" cy="1151.3" r="5.5"/><circle cx="1412.5" cy="1153.2" r="5.5"/><circle cx="1314.1" cy="1146.4" r="5.5"/><circle cx="1319.1" cy="1144.3" r="5.5"/><circle cx="1329.5" cy="1147.2" r="5.5"/><circle cx="1343.6" cy="1144.8" r="5.5"/><circle cx="1351.1" cy="1147.8" r="5.5"/><circle cx="1361" cy="1145.9" r="5.5"/><circle cx="1370.5" cy="1147.1" r="5.5"/><circle cx="1379.4" cy="1144.8" r="5.5"/><circle cx="1385.5" cy="1145.6" r="5.5"/><circle cx="1398.1" cy="1143.7" r="5.5"/><circle cx="1408.7" cy="1144.8" r="5.5"/><circle cx="1411.4" cy="1145.8" r="5.5"/><circle cx="1315" cy="1138.2" r="5.5"/><circle cx="1317.5" cy="1139.8" r="5.5"/><circle cx="1333.4" cy="1139.6" r="5.5"/><circle cx="1338.1" cy="1142.9" r="5.5"/><circle cx="1352.5" cy="1138.5" r="5.5"/><circle cx="1359.6" cy="1141.1" r="5.5"/><circle cx="1370.5" cy="1138.7" r="5.5"/><circle cx="1378.9" cy="1139.9" r="5.5"/><circle cx="1384.9" cy="1141.5" r="5.5"/><circle cx="1394.6" cy="1141.3" r="5.5"/><circle cx="1405.3" cy="1142.5" r="5.5"/><circle cx="1314" cy="1136.7" r="5.5"/><circle cx="1318.6" cy="1135.7" r="5.5"/><circle cx="1327.6" cy="1133.4" r="5.5"/><circle cx="1336.3" cy="1136.9" r="5.5"/><circle cx="1349.5" cy="1133.4" r="5.5"/><circle cx="1361.1" cy="1134.3" r="5.5"/><circle cx="1366.2" cy="1132.7" r="5.5"/><circle cx="1379" cy="1134.7" r="5.5"/><circle cx="1386.9" cy="1132.4" r="5.5"/><circle cx="1400" cy="1132.5" r="5.5"/><circle cx="1402" cy="1135.5" r="5.5"/><circle cx="1305.5" cy="1128.7" r="5.5"/><circle cx="1312.5" cy="1129.5" r="5.5"/><circle cx="1324.6" cy="1128.8" r="5.5"/><circle cx="1333.6" cy="1127.1" r="5.5"/><circle cx="1341.3" cy="1126.8" r="5.5"/><circle cx="1348.9" cy="1129.8" r="5.5"/><circle cx="1361.2" cy="1129" r="5.5"/><circle cx="1366.1" cy="1128.3" r="5.5"/><circle cx="1376.9" cy="1130.9" r="5.5"/><circle cx="1389.3" cy="1129.1" r="5.5"/><circle cx="1303.5" cy="1125.6" r="5.5"/><circle cx="1310.7" cy="1126.1" r="5.5"/><circle cx="1319.9" cy="1121.9" r="5.5"/><circle cx="1329" cy="1123" r="5.5"/><circle cx="1340.7" cy="1125.6" r="5.5"/><circle cx="1350.6" cy="1125.9" r="5.5"/><circle cx="1355.7" cy="1123.5" r="5.5"/><circle cx="1364.6" cy="1121.8" r="5.5"/><circle cx="1376.4" cy="1123.3" r="5.5"/><circle cx="1390.3" cy="1125.7" r="5.5"/><circle cx="1296.6" cy="1118.3" r="5.5"/><circle cx="1302" cy="1120.4" r="5.5"/><circle cx="1309.4" cy="1119.5" r="5.5"/><circle cx="1319.6" cy="1119.5" r="5.5"/><circle cx="1332.9" cy="1119.5" r="5.5"/><circle cx="1340.7" cy="1121" r="5.5"/><circle cx="1346" cy="1118" r="5.5"/><circle cx="1361.6" cy="1119.8" r="5.5"/><circle cx="1363.8" cy="1120.1" r="5.5"/><circle cx="1375.9" cy="1119.5" r="5.5"/><circle cx="1386.9" cy="1119.8" r="5.5"/><circle cx="1295.7" cy="1115.1" r="5.5"/><circle cx="1305.3" cy="1114.5" r="5.5"/><circle cx="1312.7" cy="1114.3" r="5.5"/><circle cx="1322.2" cy="1114.9" r="5.5"/><circle cx="1330.9" cy="1113.3" r="5.5"/><circle cx="1338.5" cy="1113.8" r="5.5"/><circle cx="1348.6" cy="1114.4" r="5.5"/><circle cx="1357.4" cy="1114.1" r="5.5"/><circle cx="1369.5" cy="1115.6" r="5.5"/><circle cx="1374.1" cy="1112.9" r="5.5"/><circle cx="1382.9" cy="1113.1" r="5.5"/><circle cx="1304.1" cy="1110.9" r="5.5"/><circle cx="1310" cy="1108" r="5.5"/><circle cx="1322.9" cy="1108.9" r="5.5"/><circle cx="1330.9" cy="1109.3" r="5.5"/><circle cx="1335.5" cy="1108.6" r="5.5"/><circle cx="1347.6" cy="1108.5" r="5.5"/><circle cx="1357.6" cy="1108.3" r="5.5"/><circle cx="1363.5" cy="1108" r="5.5"/><circle cx="1373.7" cy="1109.8" r="5.5"/><circle cx="1303.6" cy="1106.2" r="5.5"/><circle cx="1312.4" cy="1105.1" r="5.5"/><circle cx="1318.9" cy="1105" r="5.5"/><circle cx="1327.8" cy="1107.4" r="5.5"/><circle cx="1336" cy="1105.7" r="5.5"/><circle cx="1350.6" cy="1106.7" r="5.5"/><circle cx="1357.5" cy="1105" r="5.5"/><circle cx="1365.7" cy="1105.6" r="5.5"/><circle cx="1377.9" cy="1106" r="5.5"/><circle cx="1308.1" cy="1102.3" r="5.5"/><circle cx="1321" cy="1100.5" r="5.5"/><circle cx="1331.8" cy="1100.4" r="5.5"/><circle cx="1342.7" cy="1100.2" r="5.5"/><circle cx="1350" cy="1101.4" r="5.5"/><circle cx="1358.1" cy="1102.7" r="5.5"/><circle cx="1327.1" cy="1098.5" r="5.5"/><circle cx="1342.6" cy="1097.7" r="5.5"/><circle cx="1348.5" cy="1097.9" r="5.5"/><circle cx="1358.2" cy="1098" r="5.5"/>
</g>
<path d="M1206,1079.3 L1221.7,1087.3 L1237.4,1095.3 L1253.1,1103.3 L1268.8,1111.2 L1284.5,1119.2 L1300.1,1127.1 L1315.8,1135 L1331.5,1142.9 L1347.2,1150.7 L1362.9,1158.5 L1378.6,1166.1 L1394.3,1173.7 L1410,1181.1 L1425.7,1188.3 L1441.3,1195.3 L1457,1202.3 L1472.7,1209.1 L1488.4,1215.8 L1504.1,1222.5 L1519.8,1229.1 L1535.5,1235.7 L1551.2,1242.3 L1566.9,1248.9 L1582.6,1255.5 L1598.2,1262 L1613.9,1268.6 L1629.6,1275.1 L1645.3,1281.7 L1661,1288.2 L1676.7,1294.7 L1692.4,1301.2 L1708.1,1307.8 L1723.8,1314.3 L1739.5,1320.8 L1755.1,1327.3 L1770.8,1333.8 L1786.5,1340.4 L1802.2,1346.9 L1817.9,1353.4 L1833.6,1359.9 L1833.6,1401.6 L1817.9,1393.6 L1802.2,1385.6 L1786.5,1377.5 L1770.8,1369.5 L1755.1,1361.5 L1739.5,1353.5 L1723.8,1345.4 L1708.1,1337.4 L1692.4,1329.4 L1676.7,1321.4 L1661,1313.4 L1645.3,1305.4 L1629.6,1297.4 L1613.9,1289.4 L1598.2,1281.4 L1582.6,1273.4 L1566.9,1265.4 L1551.2,1257.5 L1535.5,1249.5 L1519.8,1241.6 L1504.1,1233.7 L1488.4,1225.9 L1472.7,1218.1 L1457,1210.3 L1441.3,1202.7 L1425.7,1195.2 L1410,1187.9 L1394.3,1180.8 L1378.6,1173.8 L1362.9,1166.9 L1347.2,1160.1 L1331.5,1153.4 L1315.8,1146.7 L1300.1,1140.1 L1284.5,1133.5 L1268.8,1126.9 L1253.1,1120.4 L1237.4,1113.8 L1221.7,1107.2 L1206,1100.7Z" fill="#999999" fill-opacity="0.4"/>
<line x1="1206" y1="1090" x2="1833.6" y2="1380.8" stroke="#3366ff" stroke-width="4.2"/>
<rect x="1175.7" y="1046.2" width="689" height="669.3" fill="none" stroke="#333333" stroke-width="1.6"/>
<line x1="1185.7" y1="1715.5" x2="1185.7" y2="1722.8" stroke="#333333" stroke-width="2.4"/>
<text x="1185.7" y="1743.8" font-size="22.8" fill="#4d4d4d" text-anchor="middle">0</text>
<line x1="1353.4" y1="1715.5" x2="1353.4" y2="1722.8" stroke="#333333" stroke-width="2.4"/>
<text x="1353.4" y="1743.8" font-size="22.8" fill="#4d4d4d" text-anchor="middle">1</text>
<line x1="1521.1" y1="1715.5" x2="1521.1" y2="1722.8" stroke="#333333" stroke-width="2.4"/>
<text x="1521.1" y="1743.8" font-size="22.8" fill="#4d4d4d" text-anchor="middle">2</text>
<line x1="1688.8" y1="1715.5" x2="1688.8" y2="1722.8" stroke="#333333" stroke-width="2.4"/>
<text x="1688.8" y="1743.8" font-size="22.8" fill="#4d4d4d" text-anchor="middle">3</text>
<line x1="1856.5" y1="1715.5" x2="1856.5" y2="1722.8" stroke="#333333" stroke-width="2.4"/>
<text x="1856.5" y="1743.8" font-size="22.8" fill="#4d4d4d" text-anchor="middle">4</text>
<line x1="1168.4" y1="1522.2" x2="1175.7" y2="1522.2" stroke="#333333" stroke-width="2.4"/>
<text x="1163.2" y="1530.6" font-size="22.8" fill="#4d4d4d" text-anchor="end">0.6</text>
<line x1="1168.4" y1="1299.2" x2="1175.7" y2="1299.2" stroke="#333333" stroke-width="2.4"/>
<text x="1163.2" y="1307.6" font-size="22.8" fill="#4d4d4d" text-anchor="end">0.8</text>
<line x1="1168.4" y1="1076.2" x2="1175.7" y2="1076.2" stroke="#333333" stroke-width="2.4"/>
<text x="1163.2" y="1084.6" font-size="22.8" fill="#4d4d4d" text-anchor="end">1.0</text>
<text x="1520.2" y="1774" font-size="27" text-anchor="middle">RIS</text>
<text transform="translate(1120,1380.8) rotate(-90)" x="0" y="0" font-size="27" text-anchor="middle">TumorPurity</text>
<path d="M144.01,122.80 C145.34,122.47 149.33,121.53 151.99,120.80 C154.66,120.07 157.33,119.33 160.00,118.40 C162.66,117.47 165.33,116.47 168.00,115.20 C170.66,113.93 173.32,112.40 175.99,110.80 C178.65,109.20 181.32,107.47 183.99,105.60 C186.66,103.73 189.32,101.67 191.99,99.60 C194.66,97.53 197.33,95.33 200.00,93.20 C202.66,91.07 205.66,88.93 208.00,86.80 C210.33,84.67 210.50,84.15 214.00,80.40 C217.50,76.65 223.77,70.28 229.01,64.30 C234.24,58.32 239.92,51.37 245.40,44.50 C250.88,37.63 256.41,29.15 261.91,23.10 C267.40,17.05 273.58,11.37 278.40,8.20 C283.21,5.03 286.67,4.37 290.80,4.10 C294.94,3.83 298.39,3.98 303.19,6.60 C308.00,9.22 314.12,14.58 319.60,19.80 C325.09,25.02 330.59,32.00 336.09,37.90 C341.59,43.80 347.10,49.70 352.60,55.20 C358.10,60.70 363.61,66.08 369.11,70.90 C374.61,75.72 380.10,80.38 385.60,84.10 C391.10,87.82 396.60,90.73 402.10,93.20 C407.60,95.67 413.11,97.40 418.61,98.90 C424.11,100.40 429.60,101.23 435.10,102.20 C440.60,103.17 445.29,103.70 451.60,104.70 C457.92,105.70 467.23,107.47 473.00,108.20 C478.77,108.93 480.70,109.22 486.20,109.10 C491.70,108.98 499.40,107.97 506.00,107.50 C512.59,107.03 519.76,106.30 525.79,106.30 C531.83,106.30 536.72,106.97 542.20,107.50 C547.69,108.03 552.36,109.03 558.69,109.50 C565.03,109.97 573.87,109.75 580.20,110.30 C586.53,110.85 591.19,111.70 596.69,112.80 C602.19,113.90 607.71,115.58 613.20,116.90 C618.68,118.22 624.21,119.73 629.59,120.70 C634.97,121.67 638.57,122.15 645.45,122.70 C652.33,123.25 662.52,123.60 670.88,124.00 C679.23,124.40 687.35,124.83 695.58,125.10 C703.82,125.37 713.19,125.55 720.28,125.60 C727.38,125.65 733.60,125.48 738.13,125.40 C742.66,125.32 745.93,125.15 747.49,125.10 L747.49,125.70 L144.01,125.70 Z" fill="#a020f0"/>
<path d="M144.01,122.80 C145.34,122.47 149.33,121.53 151.99,120.80 C154.66,120.07 157.33,119.33 160.00,118.40 C162.66,117.47 165.33,116.47 168.00,115.20 C170.66,113.93 173.32,112.40 175.99,110.80 C178.65,109.20 181.32,107.47 183.99,105.60 C186.66,103.73 189.32,101.67 191.99,99.60 C194.66,97.53 197.33,95.33 200.00,93.20 C202.66,91.07 205.66,88.93 208.00,86.80 C210.33,84.67 210.50,84.15 214.00,80.40 C217.50,76.65 223.77,70.28 229.01,64.30 C234.24,58.32 239.92,51.37 245.40,44.50 C250.88,37.63 256.41,29.15 261.91,23.10 C267.40,17.05 273.58,11.37 278.40,8.20 C283.21,5.03 286.67,4.37 290.80,4.10 C294.94,3.83 298.39,3.98 303.19,6.60 C308.00,9.22 314.12,14.58 319.60,19.80 C325.09,25.02 330.59,32.00 336.09,37.90 C341.59,43.80 347.10,49.70 352.60,55.20 C358.10,60.70 363.61,66.08 369.11,70.90 C374.61,75.72 380.10,80.38 385.60,84.10 C391.10,87.82 396.60,90.73 402.10,93.20 C407.60,95.67 413.11,97.40 418.61,98.90 C424.11,100.40 429.60,101.23 435.10,102.20 C440.60,103.17 445.29,103.70 451.60,104.70 C457.92,105.70 467.23,107.47 473.00,108.20 C478.77,108.93 480.70,109.22 486.20,109.10 C491.70,108.98 499.40,107.97 506.00,107.50 C512.59,107.03 519.76,106.30 525.79,106.30 C531.83,106.30 536.72,106.97 542.20,107.50 C547.69,108.03 552.36,109.03 558.69,109.50 C565.03,109.97 573.87,109.75 580.20,110.30 C586.53,110.85 591.19,111.70 596.69,112.80 C602.19,113.90 607.71,115.58 613.20,116.90 C618.68,118.22 624.21,119.73 629.59,120.70 C634.97,121.67 638.57,122.15 645.45,122.70 C652.33,123.25 662.52,123.60 670.88,124.00 C679.23,124.40 687.35,124.83 695.58,125.10 C703.82,125.37 713.19,125.55 720.28,125.60 C727.38,125.65 733.60,125.48 738.13,125.40 C742.66,125.32 745.93,125.15 747.49,125.10" fill="none" stroke="#000" stroke-width="2.3" stroke-linejoin="round"/>
<path d="M785.10,162.60 C785.10,172.52 784.98,200.17 785.10,222.10 C785.22,244.03 784.78,270.15 785.80,294.20 C786.82,318.25 788.80,346.55 791.20,366.40 C793.60,386.25 796.58,400.08 800.20,413.30 C803.82,426.52 809.28,434.28 812.90,445.70 C816.52,457.12 818.00,469.78 821.90,481.80 C825.80,493.82 829.08,506.98 836.30,517.80 C843.52,528.62 855.58,537.08 865.20,546.70 C874.82,556.32 887.28,565.88 894.00,575.50 C900.72,585.12 905.50,594.78 905.50,604.40 C905.50,614.02 900.72,623.58 894.00,633.20 C887.28,642.82 874.82,653.68 865.20,662.10 C855.58,670.52 844.72,676.48 836.30,683.70 C827.88,690.92 821.32,696.98 814.70,705.40 C808.08,713.82 801.12,725.20 796.60,734.20 C792.08,743.20 789.40,753.08 787.60,759.40 C785.80,765.72 786.10,769.98 785.80,772.10 L784.00,772.10 L784.00,162.60 Z" fill="#00a087"/>
<path d="M785.10,162.60 C785.10,172.52 784.98,200.17 785.10,222.10 C785.22,244.03 784.78,270.15 785.80,294.20 C786.82,318.25 788.80,346.55 791.20,366.40 C793.60,386.25 796.58,400.08 800.20,413.30 C803.82,426.52 809.28,434.28 812.90,445.70 C816.52,457.12 818.00,469.78 821.90,481.80 C825.80,493.82 829.08,506.98 836.30,517.80 C843.52,528.62 855.58,537.08 865.20,546.70 C874.82,556.32 887.28,565.88 894.00,575.50 C900.72,585.12 905.50,594.78 905.50,604.40 C905.50,614.02 900.72,623.58 894.00,633.20 C887.28,642.82 874.82,653.68 865.20,662.10 C855.58,670.52 844.72,676.48 836.30,683.70 C827.88,690.92 821.32,696.98 814.70,705.40 C808.08,713.82 801.12,725.20 796.60,734.20 C792.08,743.20 789.40,753.08 787.60,759.40 C785.80,765.72 786.10,769.98 785.80,772.10" fill="none" stroke="#000" stroke-width="2.3" stroke-linejoin="round"/>
<path d="M1235.71,122.80 C1237.04,122.47 1241.04,121.53 1243.70,120.80 C1246.37,120.07 1249.04,119.33 1251.71,118.40 C1254.38,117.47 1257.05,116.47 1259.71,115.20 C1262.38,113.93 1265.04,112.40 1267.70,110.80 C1270.37,109.20 1273.04,107.47 1275.71,105.60 C1278.38,103.73 1281.04,101.67 1283.71,99.60 C1286.38,97.53 1289.05,95.33 1291.72,93.20 C1294.39,91.07 1297.39,88.93 1299.72,86.80 C1302.06,84.67 1302.23,84.15 1305.73,80.40 C1309.23,76.65 1315.50,70.28 1320.74,64.30 C1325.97,58.32 1331.65,51.37 1337.14,44.50 C1342.62,37.63 1348.15,29.15 1353.65,23.10 C1359.15,17.05 1365.33,11.37 1370.14,8.20 C1374.96,5.03 1378.42,4.37 1382.55,4.10 C1386.69,3.83 1390.15,3.98 1394.95,6.60 C1399.75,9.22 1405.88,14.58 1411.36,19.80 C1416.85,25.02 1422.36,32.00 1427.86,37.90 C1433.36,43.80 1438.87,49.70 1444.37,55.20 C1449.87,60.70 1455.38,66.08 1460.88,70.90 C1466.38,75.72 1471.88,80.38 1477.38,84.10 C1482.88,87.82 1488.38,90.73 1493.89,93.20 C1499.39,95.67 1504.90,97.40 1510.40,98.90 C1515.90,100.40 1521.39,101.23 1526.89,102.20 C1532.40,103.17 1537.09,103.70 1543.41,104.70 C1549.72,105.70 1559.04,107.47 1564.81,108.20 C1570.57,108.93 1572.51,109.22 1578.01,109.10 C1583.51,108.98 1591.21,107.97 1597.81,107.50 C1604.42,107.03 1611.58,106.30 1617.62,106.30 C1623.65,106.30 1628.55,106.97 1634.03,107.50 C1639.52,108.03 1644.19,109.03 1650.53,109.50 C1656.86,109.97 1665.71,109.75 1672.04,110.30 C1678.38,110.85 1683.04,111.70 1688.54,112.80 C1694.04,113.90 1699.56,115.58 1705.05,116.90 C1710.53,118.22 1716.07,119.73 1721.45,120.70 C1726.82,121.67 1730.43,122.15 1737.31,122.70 C1744.20,123.25 1754.39,123.60 1762.75,124.00 C1771.11,124.40 1779.22,124.83 1787.46,125.10 C1795.70,125.37 1805.08,125.55 1812.17,125.60 C1819.26,125.65 1825.48,125.48 1830.02,125.40 C1834.56,125.32 1837.82,125.15 1839.38,125.10 L1839.38,125.70 L1235.71,125.70 Z" fill="#a020f0"/>
<path d="M1235.71,122.80 C1237.04,122.47 1241.04,121.53 1243.70,120.80 C1246.37,120.07 1249.04,119.33 1251.71,118.40 C1254.38,117.47 1257.05,116.47 1259.71,115.20 C1262.38,113.93 1265.04,112.40 1267.70,110.80 C1270.37,109.20 1273.04,107.47 1275.71,105.60 C1278.38,103.73 1281.04,101.67 1283.71,99.60 C1286.38,97.53 1289.05,95.33 1291.72,93.20 C1294.39,91.07 1297.39,88.93 1299.72,86.80 C1302.06,84.67 1302.23,84.15 1305.73,80.40 C1309.23,76.65 1315.50,70.28 1320.74,64.30 C1325.97,58.32 1331.65,51.37 1337.14,44.50 C1342.62,37.63 1348.15,29.15 1353.65,23.10 C1359.15,17.05 1365.33,11.37 1370.14,8.20 C1374.96,5.03 1378.42,4.37 1382.55,4.10 C1386.69,3.83 1390.15,3.98 1394.95,6.60 C1399.75,9.22 1405.88,14.58 1411.36,19.80 C1416.85,25.02 1422.36,32.00 1427.86,37.90 C1433.36,43.80 1438.87,49.70 1444.37,55.20 C1449.87,60.70 1455.38,66.08 1460.88,70.90 C1466.38,75.72 1471.88,80.38 1477.38,84.10 C1482.88,87.82 1488.38,90.73 1493.89,93.20 C1499.39,95.67 1504.90,97.40 1510.40,98.90 C1515.90,100.40 1521.39,101.23 1526.89,102.20 C1532.40,103.17 1537.09,103.70 1543.41,104.70 C1549.72,105.70 1559.04,107.47 1564.81,108.20 C1570.57,108.93 1572.51,109.22 1578.01,109.10 C1583.51,108.98 1591.21,107.97 1597.81,107.50 C1604.42,107.03 1611.58,106.30 1617.62,106.30 C1623.65,106.30 1628.55,106.97 1634.03,107.50 C1639.52,108.03 1644.19,109.03 1650.53,109.50 C1656.86,109.97 1665.71,109.75 1672.04,110.30 C1678.38,110.85 1683.04,111.70 1688.54,112.80 C1694.04,113.90 1699.56,115.58 1705.05,116.90 C1710.53,118.22 1716.07,119.73 1721.45,120.70 C1726.82,121.67 1730.43,122.15 1737.31,122.70 C1744.20,123.25 1754.39,123.60 1762.75,124.00 C1771.11,124.40 1779.22,124.83 1787.46,125.10 C1795.70,125.37 1805.08,125.55 1812.17,125.60 C1819.26,125.65 1825.48,125.48 1830.02,125.40 C1834.56,125.32 1837.82,125.15 1839.38,125.10" fill="none" stroke="#000" stroke-width="2.3" stroke-linejoin="round"/>
<path d="M1877.90,162.60 C1878.62,172.50 1880.58,204.30 1882.20,222.00 C1883.82,239.70 1884.30,252.60 1887.60,268.80 C1890.90,285.00 1897.80,304.20 1902.00,319.20 C1906.20,334.20 1908.60,346.20 1912.80,358.80 C1917.00,371.40 1921.80,383.40 1927.20,394.80 C1932.60,406.20 1940.40,417.60 1945.20,427.20 C1950.00,436.80 1952.40,444.00 1956.00,452.40 C1959.60,460.80 1962.00,469.20 1966.80,477.60 C1971.60,486.00 1980.00,495.00 1984.80,502.80 C1989.60,510.60 1993.50,517.80 1995.60,524.40 C1997.70,531.00 1997.70,535.20 1997.40,542.40 C1997.10,549.60 1996.50,557.40 1993.80,567.60 C1991.10,577.80 1985.70,592.20 1981.20,603.60 C1976.70,615.00 1971.60,626.40 1966.80,636.00 C1962.00,645.60 1958.40,652.80 1952.40,661.20 C1946.40,669.60 1938.60,678.00 1930.80,686.40 C1923.00,694.80 1912.80,703.20 1905.60,711.60 C1898.40,720.00 1891.80,729.00 1887.60,736.80 C1883.40,744.60 1882.02,752.70 1880.40,758.40 C1878.78,764.10 1878.32,768.90 1877.90,771.00 L1876.50,771.00 L1876.50,162.60 Z" fill="#00a087"/>
<path d="M1877.90,162.60 C1878.62,172.50 1880.58,204.30 1882.20,222.00 C1883.82,239.70 1884.30,252.60 1887.60,268.80 C1890.90,285.00 1897.80,304.20 1902.00,319.20 C1906.20,334.20 1908.60,346.20 1912.80,358.80 C1917.00,371.40 1921.80,383.40 1927.20,394.80 C1932.60,406.20 1940.40,417.60 1945.20,427.20 C1950.00,436.80 1952.40,444.00 1956.00,452.40 C1959.60,460.80 1962.00,469.20 1966.80,477.60 C1971.60,486.00 1980.00,495.00 1984.80,502.80 C1989.60,510.60 1993.50,517.80 1995.60,524.40 C1997.70,531.00 1997.70,535.20 1997.40,542.40 C1997.10,549.60 1996.50,557.40 1993.80,567.60 C1991.10,577.80 1985.70,592.20 1981.20,603.60 C1976.70,615.00 1971.60,626.40 1966.80,636.00 C1962.00,645.60 1958.40,652.80 1952.40,661.20 C1946.40,669.60 1938.60,678.00 1930.80,686.40 C1923.00,694.80 1912.80,703.20 1905.60,711.60 C1898.40,720.00 1891.80,729.00 1887.60,736.80 C1883.40,744.60 1882.02,752.70 1880.40,758.40 C1878.78,764.10 1878.32,768.90 1877.90,771.00" fill="none" stroke="#000" stroke-width="2.3" stroke-linejoin="round"/>
<path d="M144.01,1036.50 C145.34,1036.17 149.33,1035.23 151.99,1034.50 C154.66,1033.77 157.33,1033.03 160.00,1032.10 C162.66,1031.17 165.33,1030.17 168.00,1028.90 C170.66,1027.63 173.32,1026.10 175.99,1024.50 C178.65,1022.90 181.32,1021.17 183.99,1019.30 C186.66,1017.43 189.32,1015.37 191.99,1013.30 C194.66,1011.23 197.33,1009.03 200.00,1006.90 C202.66,1004.77 205.66,1002.63 208.00,1000.50 C210.33,998.37 210.50,997.85 214.00,994.10 C217.50,990.35 223.77,983.98 229.01,978.00 C234.24,972.02 239.92,965.07 245.40,958.20 C250.88,951.33 256.41,942.85 261.91,936.80 C267.40,930.75 273.58,925.07 278.40,921.90 C283.21,918.73 286.67,918.07 290.80,917.80 C294.94,917.53 298.39,917.68 303.19,920.30 C308.00,922.92 314.12,928.28 319.60,933.50 C325.09,938.72 330.59,945.70 336.09,951.60 C341.59,957.50 347.10,963.40 352.60,968.90 C358.10,974.40 363.61,979.78 369.11,984.60 C374.61,989.42 380.10,994.08 385.60,997.80 C391.10,1001.52 396.60,1004.43 402.10,1006.90 C407.60,1009.37 413.11,1011.10 418.61,1012.60 C424.11,1014.10 429.60,1014.93 435.10,1015.90 C440.60,1016.87 445.29,1017.40 451.60,1018.40 C457.92,1019.40 467.23,1021.17 473.00,1021.90 C478.77,1022.63 480.70,1022.92 486.20,1022.80 C491.70,1022.68 499.40,1021.67 506.00,1021.20 C512.59,1020.73 519.76,1020.00 525.79,1020.00 C531.83,1020.00 536.72,1020.67 542.20,1021.20 C547.69,1021.73 552.36,1022.73 558.69,1023.20 C565.03,1023.67 573.87,1023.45 580.20,1024.00 C586.53,1024.55 591.19,1025.40 596.69,1026.50 C602.19,1027.60 607.71,1029.28 613.20,1030.60 C618.68,1031.92 624.21,1033.43 629.59,1034.40 C634.97,1035.37 638.57,1035.85 645.45,1036.40 C652.33,1036.95 662.52,1037.30 670.88,1037.70 C679.23,1038.10 687.35,1038.53 695.58,1038.80 C703.82,1039.07 713.19,1039.25 720.28,1039.30 C727.38,1039.35 733.60,1039.18 738.13,1039.10 C742.66,1039.02 745.93,1038.85 747.49,1038.80 L747.49,1039.40 L144.01,1039.40 Z" fill="#a020f0"/>
<path d="M144.01,1036.50 C145.34,1036.17 149.33,1035.23 151.99,1034.50 C154.66,1033.77 157.33,1033.03 160.00,1032.10 C162.66,1031.17 165.33,1030.17 168.00,1028.90 C170.66,1027.63 173.32,1026.10 175.99,1024.50 C178.65,1022.90 181.32,1021.17 183.99,1019.30 C186.66,1017.43 189.32,1015.37 191.99,1013.30 C194.66,1011.23 197.33,1009.03 200.00,1006.90 C202.66,1004.77 205.66,1002.63 208.00,1000.50 C210.33,998.37 210.50,997.85 214.00,994.10 C217.50,990.35 223.77,983.98 229.01,978.00 C234.24,972.02 239.92,965.07 245.40,958.20 C250.88,951.33 256.41,942.85 261.91,936.80 C267.40,930.75 273.58,925.07 278.40,921.90 C283.21,918.73 286.67,918.07 290.80,917.80 C294.94,917.53 298.39,917.68 303.19,920.30 C308.00,922.92 314.12,928.28 319.60,933.50 C325.09,938.72 330.59,945.70 336.09,951.60 C341.59,957.50 347.10,963.40 352.60,968.90 C358.10,974.40 363.61,979.78 369.11,984.60 C374.61,989.42 380.10,994.08 385.60,997.80 C391.10,1001.52 396.60,1004.43 402.10,1006.90 C407.60,1009.37 413.11,1011.10 418.61,1012.60 C424.11,1014.10 429.60,1014.93 435.10,1015.90 C440.60,1016.87 445.29,1017.40 451.60,1018.40 C457.92,1019.40 467.23,1021.17 473.00,1021.90 C478.77,1022.63 480.70,1022.92 486.20,1022.80 C491.70,1022.68 499.40,1021.67 506.00,1021.20 C512.59,1020.73 519.76,1020.00 525.79,1020.00 C531.83,1020.00 536.72,1020.67 542.20,1021.20 C547.69,1021.73 552.36,1022.73 558.69,1023.20 C565.03,1023.67 573.87,1023.45 580.20,1024.00 C586.53,1024.55 591.19,1025.40 596.69,1026.50 C602.19,1027.60 607.71,1029.28 613.20,1030.60 C618.68,1031.92 624.21,1033.43 629.59,1034.40 C634.97,1035.37 638.57,1035.85 645.45,1036.40 C652.33,1036.95 662.52,1037.30 670.88,1037.70 C679.23,1038.10 687.35,1038.53 695.58,1038.80 C703.82,1039.07 713.19,1039.25 720.28,1039.30 C727.38,1039.35 733.60,1039.18 738.13,1039.10 C742.66,1039.02 745.93,1038.85 747.49,1038.80" fill="none" stroke="#000" stroke-width="2.3" stroke-linejoin="round"/>
<path d="M785.10,1075.80 C785.52,1086.02 786.58,1114.87 787.60,1137.10 C788.62,1159.33 789.70,1191.17 791.20,1209.20 C792.70,1227.23 793.28,1232.07 796.60,1245.30 C799.92,1258.53 806.88,1275.38 811.10,1288.60 C815.32,1301.82 818.30,1312.58 821.90,1324.60 C825.50,1336.62 828.50,1348.67 832.70,1360.70 C836.90,1372.73 841.68,1385.38 847.10,1396.80 C852.52,1408.22 858.58,1419.58 865.20,1429.20 C871.82,1438.82 880.80,1447.28 886.80,1454.50 C892.80,1461.72 898.08,1466.20 901.20,1472.50 C904.32,1478.80 905.50,1485.08 905.50,1492.30 C905.50,1499.52 903.72,1507.08 901.20,1515.80 C898.68,1524.52 895.20,1534.38 890.40,1544.60 C885.60,1554.82 879.62,1566.88 872.40,1577.10 C865.18,1587.32 855.52,1596.88 847.10,1605.90 C838.68,1614.92 829.12,1623.38 821.90,1631.20 C814.68,1639.02 808.62,1646.20 803.80,1652.80 C798.98,1659.40 795.52,1665.38 793.00,1670.80 C790.48,1676.22 789.42,1682.88 788.70,1685.30 L784.00,1685.30 L784.00,1075.80 Z" fill="#00a087"/>
<path d="M785.10,1075.80 C785.52,1086.02 786.58,1114.87 787.60,1137.10 C788.62,1159.33 789.70,1191.17 791.20,1209.20 C792.70,1227.23 793.28,1232.07 796.60,1245.30 C799.92,1258.53 806.88,1275.38 811.10,1288.60 C815.32,1301.82 818.30,1312.58 821.90,1324.60 C825.50,1336.62 828.50,1348.67 832.70,1360.70 C836.90,1372.73 841.68,1385.38 847.10,1396.80 C852.52,1408.22 858.58,1419.58 865.20,1429.20 C871.82,1438.82 880.80,1447.28 886.80,1454.50 C892.80,1461.72 898.08,1466.20 901.20,1472.50 C904.32,1478.80 905.50,1485.08 905.50,1492.30 C905.50,1499.52 903.72,1507.08 901.20,1515.80 C898.68,1524.52 895.20,1534.38 890.40,1544.60 C885.60,1554.82 879.62,1566.88 872.40,1577.10 C865.18,1587.32 855.52,1596.88 847.10,1605.90 C838.68,1614.92 829.12,1623.38 821.90,1631.20 C814.68,1639.02 808.62,1646.20 803.80,1652.80 C798.98,1659.40 795.52,1665.38 793.00,1670.80 C790.48,1676.22 789.42,1682.88 788.70,1685.30" fill="none" stroke="#000" stroke-width="2.3" stroke-linejoin="round"/>
<path d="M1205.46,1036.50 C1206.84,1036.17 1210.99,1035.23 1213.76,1034.50 C1216.53,1033.77 1219.30,1033.03 1222.07,1032.10 C1224.85,1031.17 1227.62,1030.17 1230.39,1028.90 C1233.16,1027.63 1235.92,1026.10 1238.69,1024.50 C1241.46,1022.90 1244.24,1021.17 1247.01,1019.30 C1249.78,1017.43 1252.56,1015.37 1255.33,1013.30 C1258.10,1011.23 1260.87,1009.03 1263.65,1006.90 C1266.42,1004.77 1269.54,1002.63 1271.96,1000.50 C1274.39,998.37 1274.56,997.85 1278.20,994.10 C1281.84,990.35 1288.36,983.98 1293.80,978.00 C1299.24,972.02 1305.14,965.07 1310.84,958.20 C1316.54,951.33 1322.28,942.85 1327.99,936.80 C1333.71,930.75 1340.13,925.07 1345.13,921.90 C1350.14,918.73 1353.73,918.07 1358.03,917.80 C1362.32,917.53 1365.92,917.68 1370.91,920.30 C1375.90,922.92 1382.26,928.28 1387.96,933.50 C1393.66,938.72 1399.39,945.70 1405.10,951.60 C1410.82,957.50 1416.54,963.40 1422.26,968.90 C1427.98,974.40 1433.70,979.78 1439.41,984.60 C1445.13,989.42 1450.84,994.08 1456.55,997.80 C1462.27,1001.52 1467.99,1004.43 1473.71,1006.90 C1479.43,1009.37 1485.15,1011.10 1490.86,1012.60 C1496.58,1014.10 1502.29,1014.93 1508.00,1015.90 C1513.72,1016.87 1518.59,1017.40 1525.16,1018.40 C1531.72,1019.40 1541.40,1021.17 1547.40,1021.90 C1553.39,1022.63 1555.40,1022.92 1561.11,1022.80 C1566.83,1022.68 1574.83,1021.67 1581.69,1021.20 C1588.55,1020.73 1595.99,1020.00 1602.27,1020.00 C1608.54,1020.00 1613.62,1020.67 1619.32,1021.20 C1625.02,1021.73 1629.88,1022.73 1636.46,1023.20 C1643.04,1023.67 1652.23,1023.45 1658.82,1024.00 C1665.40,1024.55 1670.24,1025.40 1675.95,1026.50 C1681.67,1027.60 1687.41,1029.28 1693.11,1030.60 C1698.81,1031.92 1704.56,1033.43 1710.15,1034.40 C1715.74,1035.37 1719.48,1035.85 1726.63,1036.40 C1733.79,1036.95 1744.38,1037.30 1753.06,1037.70 C1761.75,1038.10 1770.18,1038.53 1778.74,1038.80 C1787.30,1039.07 1797.04,1039.25 1804.41,1039.30 C1811.78,1039.35 1818.25,1039.18 1822.96,1039.10 C1827.67,1039.02 1831.07,1038.85 1832.69,1038.80 L1832.69,1039.40 L1205.46,1039.40 Z" fill="#a020f0"/>
<path d="M1205.46,1036.50 C1206.84,1036.17 1210.99,1035.23 1213.76,1034.50 C1216.53,1033.77 1219.30,1033.03 1222.07,1032.10 C1224.85,1031.17 1227.62,1030.17 1230.39,1028.90 C1233.16,1027.63 1235.92,1026.10 1238.69,1024.50 C1241.46,1022.90 1244.24,1021.17 1247.01,1019.30 C1249.78,1017.43 1252.56,1015.37 1255.33,1013.30 C1258.10,1011.23 1260.87,1009.03 1263.65,1006.90 C1266.42,1004.77 1269.54,1002.63 1271.96,1000.50 C1274.39,998.37 1274.56,997.85 1278.20,994.10 C1281.84,990.35 1288.36,983.98 1293.80,978.00 C1299.24,972.02 1305.14,965.07 1310.84,958.20 C1316.54,951.33 1322.28,942.85 1327.99,936.80 C1333.71,930.75 1340.13,925.07 1345.13,921.90 C1350.14,918.73 1353.73,918.07 1358.03,917.80 C1362.32,917.53 1365.92,917.68 1370.91,920.30 C1375.90,922.92 1382.26,928.28 1387.96,933.50 C1393.66,938.72 1399.39,945.70 1405.10,951.60 C1410.82,957.50 1416.54,963.40 1422.26,968.90 C1427.98,974.40 1433.70,979.78 1439.41,984.60 C1445.13,989.42 1450.84,994.08 1456.55,997.80 C1462.27,1001.52 1467.99,1004.43 1473.71,1006.90 C1479.43,1009.37 1485.15,1011.10 1490.86,1012.60 C1496.58,1014.10 1502.29,1014.93 1508.00,1015.90 C1513.72,1016.87 1518.59,1017.40 1525.16,1018.40 C1531.72,1019.40 1541.40,1021.17 1547.40,1021.90 C1553.39,1022.63 1555.40,1022.92 1561.11,1022.80 C1566.83,1022.68 1574.83,1021.67 1581.69,1021.20 C1588.55,1020.73 1595.99,1020.00 1602.27,1020.00 C1608.54,1020.00 1613.62,1020.67 1619.32,1021.20 C1625.02,1021.73 1629.88,1022.73 1636.46,1023.20 C1643.04,1023.67 1652.23,1023.45 1658.82,1024.00 C1665.40,1024.55 1670.24,1025.40 1675.95,1026.50 C1681.67,1027.60 1687.41,1029.28 1693.11,1030.60 C1698.81,1031.92 1704.56,1033.43 1710.15,1034.40 C1715.74,1035.37 1719.48,1035.85 1726.63,1036.40 C1733.79,1036.95 1744.38,1037.30 1753.06,1037.70 C1761.75,1038.10 1770.18,1038.53 1778.74,1038.80 C1787.30,1039.07 1797.04,1039.25 1804.41,1039.30 C1811.78,1039.35 1818.25,1039.18 1822.96,1039.10 C1827.67,1039.02 1831.07,1038.85 1832.69,1038.80" fill="none" stroke="#000" stroke-width="2.3" stroke-linejoin="round"/>
<path d="M1920.10,1076.20 C1923.92,1077.78 1934.67,1082.32 1943.00,1085.70 C1951.33,1089.08 1962.22,1092.90 1970.10,1096.50 C1977.98,1100.10 1985.92,1103.70 1990.30,1107.30 C1994.68,1110.90 1995.72,1113.83 1996.40,1118.10 C1997.08,1122.37 1996.08,1127.27 1994.40,1132.90 C1992.72,1138.53 1989.90,1146.03 1986.30,1151.90 C1982.70,1157.77 1977.75,1162.93 1972.80,1168.10 C1967.85,1173.27 1962.02,1178.18 1956.60,1182.90 C1951.18,1187.62 1945.27,1191.67 1940.30,1196.40 C1935.33,1201.13 1930.40,1206.35 1926.80,1211.30 C1923.20,1216.25 1921.62,1220.25 1918.70,1226.10 C1915.78,1231.95 1912.22,1240.32 1909.30,1246.40 C1906.38,1252.48 1903.35,1257.20 1901.20,1262.60 C1899.05,1268.00 1897.53,1272.57 1896.40,1278.80 C1895.27,1285.03 1895.52,1292.37 1894.40,1300.00 C1893.28,1307.63 1891.43,1314.72 1889.70,1324.60 C1887.97,1334.48 1885.35,1348.90 1884.00,1359.30 C1882.65,1369.70 1882.95,1378.15 1881.60,1387.00 C1880.25,1395.85 1877.17,1404.70 1875.90,1412.40 C1874.63,1420.10 1874.40,1422.80 1874.00,1433.20 C1873.60,1443.60 1873.65,1460.17 1873.50,1474.80 C1873.35,1489.43 1873.10,1509.45 1873.10,1521.00 C1873.10,1532.55 1873.62,1532.55 1873.50,1544.10 C1873.38,1555.65 1872.70,1574.90 1872.40,1590.30 C1872.10,1605.70 1871.82,1620.72 1871.70,1636.50 C1871.58,1652.28 1871.70,1676.92 1871.70,1685.00 L1871.30,1685.00 L1871.30,1076.20 Z" fill="#00a087"/>
<path d="M1920.10,1076.20 C1923.92,1077.78 1934.67,1082.32 1943.00,1085.70 C1951.33,1089.08 1962.22,1092.90 1970.10,1096.50 C1977.98,1100.10 1985.92,1103.70 1990.30,1107.30 C1994.68,1110.90 1995.72,1113.83 1996.40,1118.10 C1997.08,1122.37 1996.08,1127.27 1994.40,1132.90 C1992.72,1138.53 1989.90,1146.03 1986.30,1151.90 C1982.70,1157.77 1977.75,1162.93 1972.80,1168.10 C1967.85,1173.27 1962.02,1178.18 1956.60,1182.90 C1951.18,1187.62 1945.27,1191.67 1940.30,1196.40 C1935.33,1201.13 1930.40,1206.35 1926.80,1211.30 C1923.20,1216.25 1921.62,1220.25 1918.70,1226.10 C1915.78,1231.95 1912.22,1240.32 1909.30,1246.40 C1906.38,1252.48 1903.35,1257.20 1901.20,1262.60 C1899.05,1268.00 1897.53,1272.57 1896.40,1278.80 C1895.27,1285.03 1895.52,1292.37 1894.40,1300.00 C1893.28,1307.63 1891.43,1314.72 1889.70,1324.60 C1887.97,1334.48 1885.35,1348.90 1884.00,1359.30 C1882.65,1369.70 1882.95,1378.15 1881.60,1387.00 C1880.25,1395.85 1877.17,1404.70 1875.90,1412.40 C1874.63,1420.10 1874.40,1422.80 1874.00,1433.20 C1873.60,1443.60 1873.65,1460.17 1873.50,1474.80 C1873.35,1489.43 1873.10,1509.45 1873.10,1521.00 C1873.10,1532.55 1873.62,1532.55 1873.50,1544.10 C1873.38,1555.65 1872.70,1574.90 1872.40,1590.30 C1872.10,1605.70 1871.82,1620.72 1871.70,1636.50 C1871.58,1652.28 1871.70,1676.92 1871.70,1685.00" fill="none" stroke="#000" stroke-width="2.3" stroke-linejoin="round"/>
<text x="2.0" y="52.7" font-size="69">A</text>
<text x="1059.3" y="52.2" font-size="69">B</text>
<text x="19.2" y="968.6" font-size="69">C</text>
<text x="1057.6" y="969.4" font-size="69">D</text>
<text x="145.4" y="192.1" font-size="27" font-style="italic">R</text>
<text x="170.5" y="192.1" font-size="27">=</text>
<text x="193.0" y="192.1" font-size="27">0.64,</text>
<text x="260.0" y="192.1" font-size="27" font-style="italic">p</text>
<text x="282.3" y="192.1" font-size="27"><</text>
<text x="303.8" y="192.1" font-size="27">2.2e−16</text>
<text x="1237.4" y="192.1" font-size="27" font-style="italic">R</text>
<text x="1262.5" y="192.1" font-size="27">=</text>
<text x="1285.0" y="192.1" font-size="27">0.49,</text>
<text x="1352.0" y="192.1" font-size="27" font-style="italic">p</text>
<text x="1374.3" y="192.1" font-size="27"><</text>
<text x="1395.8" y="192.1" font-size="27">2.2e−16</text>
<text x="145.4" y="1105.8" font-size="27" font-style="italic">R</text>
<text x="170.5" y="1105.8" font-size="27">=</text>
<text x="193.0" y="1105.8" font-size="27">0.57,</text>
<text x="260.0" y="1105.8" font-size="27" font-style="italic">p</text>
<text x="282.3" y="1105.8" font-size="27"><</text>
<text x="303.8" y="1105.8" font-size="27">2.2e−16</text>
<text x="1218.0" y="1687.5" font-size="27" font-style="italic">R</text>
<text x="1243.1" y="1687.5" font-size="27">=</text>
<text x="1265.8" y="1687.5" font-size="27">–</text>
<text x="1284.4" y="1687.5" font-size="27">0.57</text>
<text x="1337.3" y="1687.5" font-size="27">,</text>
<text x="1352.0" y="1687.5" font-size="27" font-style="italic">p</text>
<text x="1372.7" y="1687.5" font-size="27"><</text>
<text x="1394.6" y="1687.5" font-size="27">2.2e−16</text>
</svg>
</body></html>
